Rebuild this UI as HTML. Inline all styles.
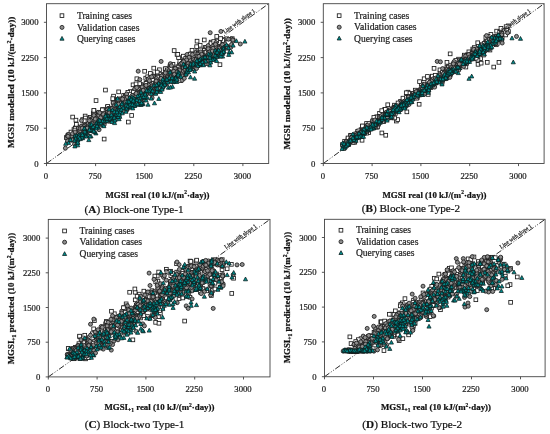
<!DOCTYPE html>
<html><head><meta charset="utf-8"><title>MGSI scatter plots</title>
<style>
html,body{margin:0;padding:0;background:#fff}
svg{display:block;font-family:"Liberation Serif",serif}
text{stroke:#222;stroke-width:.22px;paint-order:stroke}
</style></head><body>
<svg width="550" height="434" viewBox="0 0 550 434">
<rect width="550" height="434" fill="#fff"/>
<g><line x1="46.5" y1="163.5" x2="268.7" y2="3.7" stroke="#111" stroke-width="0.9" stroke-dasharray="6 1.8 0.9 1.8 0.9 1.8"/>
<g fill="#fff" stroke="#1c1c1c" stroke-width="0.85"><rect x="162.7" y="72.8" width="3.7" height="3.7"/><rect x="206.3" y="49.1" width="3.7" height="3.7"/><rect x="186.8" y="54.9" width="3.7" height="3.7"/><rect x="98.7" y="115.7" width="3.7" height="3.7"/><rect x="110.7" y="109.1" width="3.7" height="3.7"/><rect x="202.5" y="52.3" width="3.7" height="3.7"/><rect x="190.2" y="52.4" width="3.7" height="3.7"/><rect x="137.6" y="100.4" width="3.7" height="3.7"/><rect x="111.2" y="100.3" width="3.7" height="3.7"/><rect x="107.2" y="111" width="3.7" height="3.7"/><rect x="103.4" y="115.4" width="3.7" height="3.7"/><rect x="133.9" y="84.9" width="3.7" height="3.7"/><rect x="143.4" y="85.6" width="3.7" height="3.7"/><rect x="151.2" y="86.9" width="3.7" height="3.7"/><rect x="162.2" y="75.6" width="3.7" height="3.7"/><rect x="221" y="38.1" width="3.7" height="3.7"/><rect x="88.3" y="115.5" width="3.7" height="3.7"/><rect x="160.7" y="76.9" width="3.7" height="3.7"/><rect x="69.7" y="130.9" width="3.7" height="3.7"/><rect x="145.1" y="78" width="3.7" height="3.7"/><rect x="137.3" y="92.1" width="3.7" height="3.7"/><rect x="209.5" y="46.2" width="3.7" height="3.7"/><rect x="163.4" y="73.3" width="3.7" height="3.7"/><rect x="144.9" y="86.9" width="3.7" height="3.7"/><rect x="142.2" y="88.3" width="3.7" height="3.7"/><rect x="102.3" y="111.1" width="3.7" height="3.7"/><rect x="64.5" y="135.7" width="3.7" height="3.7"/><rect x="173.4" y="70.1" width="3.7" height="3.7"/><rect x="94.8" y="118.1" width="3.7" height="3.7"/><rect x="121.8" y="93.6" width="3.7" height="3.7"/><rect x="87.4" y="120.2" width="3.7" height="3.7"/><rect x="105.5" y="105.5" width="3.7" height="3.7"/><rect x="203.6" y="45.5" width="3.7" height="3.7"/><rect x="144.3" y="81.7" width="3.7" height="3.7"/><rect x="198.3" y="43.4" width="3.7" height="3.7"/><rect x="165.1" y="76.3" width="3.7" height="3.7"/><rect x="181.4" y="58.9" width="3.7" height="3.7"/><rect x="77.3" y="128.9" width="3.7" height="3.7"/><rect x="149.3" y="72.2" width="3.7" height="3.7"/><rect x="143.9" y="76.3" width="3.7" height="3.7"/><rect x="202.1" y="60.3" width="3.7" height="3.7"/><rect x="120.5" y="104.1" width="3.7" height="3.7"/><rect x="158.4" y="72.7" width="3.7" height="3.7"/><rect x="72.1" y="127.7" width="3.7" height="3.7"/><rect x="114.4" y="100.3" width="3.7" height="3.7"/><rect x="86.7" y="121.8" width="3.7" height="3.7"/><rect x="193.3" y="54.2" width="3.7" height="3.7"/><rect x="123.4" y="94.7" width="3.7" height="3.7"/><rect x="159.5" y="76.1" width="3.7" height="3.7"/><rect x="164.8" y="67.1" width="3.7" height="3.7"/><rect x="170.9" y="80" width="3.7" height="3.7"/><rect x="86.8" y="117" width="3.7" height="3.7"/><rect x="133.1" y="96.6" width="3.7" height="3.7"/><rect x="101" y="108.1" width="3.7" height="3.7"/><rect x="127.1" y="96.5" width="3.7" height="3.7"/><rect x="78.1" y="130.6" width="3.7" height="3.7"/><rect x="217.6" y="42.1" width="3.7" height="3.7"/><rect x="170.2" y="73.7" width="3.7" height="3.7"/><rect x="110.7" y="110" width="3.7" height="3.7"/><rect x="202.6" y="58.3" width="3.7" height="3.7"/><rect x="168.7" y="70.2" width="3.7" height="3.7"/><rect x="222.3" y="39.2" width="3.7" height="3.7"/><rect x="197.9" y="49.2" width="3.7" height="3.7"/><rect x="153.8" y="79.5" width="3.7" height="3.7"/><rect x="85.9" y="117.7" width="3.7" height="3.7"/><rect x="93.5" y="117" width="3.7" height="3.7"/><rect x="211.2" y="47.3" width="3.7" height="3.7"/><rect x="151.1" y="77.6" width="3.7" height="3.7"/><rect x="91.6" y="113.9" width="3.7" height="3.7"/><rect x="204.2" y="52" width="3.7" height="3.7"/><rect x="165.3" y="73.2" width="3.7" height="3.7"/><rect x="153.8" y="79.6" width="3.7" height="3.7"/><rect x="122.9" y="97.7" width="3.7" height="3.7"/><rect x="128.4" y="98.8" width="3.7" height="3.7"/><rect x="101" y="107.8" width="3.7" height="3.7"/><rect x="137.5" y="90.7" width="3.7" height="3.7"/><rect x="150.3" y="78.6" width="3.7" height="3.7"/><rect x="114.2" y="107.4" width="3.7" height="3.7"/><rect x="182.9" y="60.3" width="3.7" height="3.7"/><rect x="66.7" y="132.9" width="3.7" height="3.7"/><rect x="67.5" y="135.6" width="3.7" height="3.7"/><rect x="131.2" y="83" width="3.7" height="3.7"/><rect x="146.5" y="81.4" width="3.7" height="3.7"/><rect x="202.4" y="38.1" width="3.7" height="3.7"/><rect x="117.7" y="97" width="3.7" height="3.7"/><rect x="157.1" y="80.2" width="3.7" height="3.7"/><rect x="172.1" y="70" width="3.7" height="3.7"/><rect x="119.5" y="98.2" width="3.7" height="3.7"/><rect x="145.7" y="83.4" width="3.7" height="3.7"/><rect x="185.1" y="60.5" width="3.7" height="3.7"/><rect x="208.2" y="50.6" width="3.7" height="3.7"/><rect x="86.8" y="128.9" width="3.7" height="3.7"/><rect x="212.1" y="47.4" width="3.7" height="3.7"/><rect x="183.2" y="72.5" width="3.7" height="3.7"/><rect x="192.4" y="55.1" width="3.7" height="3.7"/><rect x="84.5" y="125.9" width="3.7" height="3.7"/><rect x="221.8" y="44.5" width="3.7" height="3.7"/><rect x="193.1" y="57.4" width="3.7" height="3.7"/><rect x="189.6" y="57" width="3.7" height="3.7"/><rect x="144.8" y="91.4" width="3.7" height="3.7"/><rect x="178.8" y="78.7" width="3.7" height="3.7"/><rect x="98.9" y="118.2" width="3.7" height="3.7"/><rect x="94.4" y="125.1" width="3.7" height="3.7"/><rect x="120.8" y="103.9" width="3.7" height="3.7"/><rect x="91.4" y="111.8" width="3.7" height="3.7"/><rect x="118" y="106.1" width="3.7" height="3.7"/><rect x="214.4" y="42.5" width="3.7" height="3.7"/><rect x="117.1" y="108.1" width="3.7" height="3.7"/><rect x="106.1" y="107.6" width="3.7" height="3.7"/><rect x="215" y="46.3" width="3.7" height="3.7"/><rect x="146.1" y="83.8" width="3.7" height="3.7"/><rect x="206.2" y="47" width="3.7" height="3.7"/><rect x="181.5" y="54.3" width="3.7" height="3.7"/><rect x="155.6" y="76.7" width="3.7" height="3.7"/><rect x="230.4" y="36.8" width="3.7" height="3.7"/><rect x="203.2" y="55.3" width="3.7" height="3.7"/><rect x="128.5" y="89.7" width="3.7" height="3.7"/><rect x="210.4" y="48.4" width="3.7" height="3.7"/><rect x="73.7" y="126.6" width="3.7" height="3.7"/><rect x="131.5" y="92.8" width="3.7" height="3.7"/><rect x="145.8" y="74.9" width="3.7" height="3.7"/><rect x="214.9" y="53.5" width="3.7" height="3.7"/><rect x="191.7" y="58.6" width="3.7" height="3.7"/><rect x="170.9" y="64.4" width="3.7" height="3.7"/><rect x="177.4" y="66.8" width="3.7" height="3.7"/><rect x="163.4" y="77.1" width="3.7" height="3.7"/><rect x="218.2" y="44.5" width="3.7" height="3.7"/><rect x="126.4" y="102.4" width="3.7" height="3.7"/><rect x="95.1" y="115.5" width="3.7" height="3.7"/><rect x="70.8" y="115.2" width="3.7" height="3.7"/><rect x="209.2" y="43" width="3.7" height="3.7"/><rect x="197.1" y="59.3" width="3.7" height="3.7"/><rect x="80.6" y="129" width="3.7" height="3.7"/><rect x="159.3" y="77.6" width="3.7" height="3.7"/><rect x="139.4" y="82.7" width="3.7" height="3.7"/><rect x="157.8" y="80.5" width="3.7" height="3.7"/><rect x="168.2" y="73.8" width="3.7" height="3.7"/><rect x="111.7" y="101.3" width="3.7" height="3.7"/><rect x="216.5" y="40.5" width="3.7" height="3.7"/><rect x="163.2" y="75.1" width="3.7" height="3.7"/><rect x="164.3" y="82.1" width="3.7" height="3.7"/><rect x="92.1" y="124.5" width="3.7" height="3.7"/><rect x="72.6" y="133.5" width="3.7" height="3.7"/><rect x="128.5" y="105.1" width="3.7" height="3.7"/><rect x="184.9" y="57.3" width="3.7" height="3.7"/><rect x="193.1" y="61.3" width="3.7" height="3.7"/><rect x="179.5" y="61.6" width="3.7" height="3.7"/><rect x="80.8" y="117.7" width="3.7" height="3.7"/><rect x="208.9" y="43" width="3.7" height="3.7"/><rect x="191" y="66.6" width="3.7" height="3.7"/><rect x="203.1" y="47.2" width="3.7" height="3.7"/><rect x="146.4" y="77.5" width="3.7" height="3.7"/><rect x="209.2" y="51.1" width="3.7" height="3.7"/><rect x="70.1" y="136" width="3.7" height="3.7"/><rect x="65.9" y="135.4" width="3.7" height="3.7"/><rect x="102.4" y="118.2" width="3.7" height="3.7"/><rect x="92.7" y="111.5" width="3.7" height="3.7"/><rect x="153.4" y="91.2" width="3.7" height="3.7"/><rect x="68.9" y="137.5" width="3.7" height="3.7"/><rect x="89.2" y="121.8" width="3.7" height="3.7"/><rect x="171.2" y="69.7" width="3.7" height="3.7"/><rect x="66" y="133.7" width="3.7" height="3.7"/><rect x="212.8" y="44.9" width="3.7" height="3.7"/><rect x="192.6" y="57.7" width="3.7" height="3.7"/><rect x="168" y="64.8" width="3.7" height="3.7"/><rect x="160.4" y="85.7" width="3.7" height="3.7"/><rect x="93.3" y="117.3" width="3.7" height="3.7"/><rect x="154.6" y="81.9" width="3.7" height="3.7"/><rect x="70.8" y="130.9" width="3.7" height="3.7"/><rect x="113.6" y="103.1" width="3.7" height="3.7"/><rect x="80.7" y="129.1" width="3.7" height="3.7"/><rect x="163" y="76.6" width="3.7" height="3.7"/><rect x="190.3" y="54.2" width="3.7" height="3.7"/><rect x="112.9" y="103" width="3.7" height="3.7"/><rect x="200.8" y="55.4" width="3.7" height="3.7"/><rect x="190.2" y="48.4" width="3.7" height="3.7"/><rect x="83.3" y="114.2" width="3.7" height="3.7"/><rect x="185.4" y="67.6" width="3.7" height="3.7"/><rect x="203.9" y="49.3" width="3.7" height="3.7"/><rect x="94.2" y="98.7" width="3.7" height="3.7"/><rect x="224.7" y="36.9" width="3.7" height="3.7"/><rect x="164.9" y="71.1" width="3.7" height="3.7"/><rect x="160.2" y="76" width="3.7" height="3.7"/><rect x="78.1" y="129.3" width="3.7" height="3.7"/><rect x="168.5" y="71.2" width="3.7" height="3.7"/><rect x="163.8" y="75.6" width="3.7" height="3.7"/><rect x="194.5" y="52.2" width="3.7" height="3.7"/><rect x="191.3" y="59.2" width="3.7" height="3.7"/><rect x="115" y="105.2" width="3.7" height="3.7"/><rect x="178.2" y="70.5" width="3.7" height="3.7"/><rect x="201.5" y="52.2" width="3.7" height="3.7"/><rect x="205.6" y="53.7" width="3.7" height="3.7"/><rect x="88.5" y="121.1" width="3.7" height="3.7"/><rect x="97" y="110.4" width="3.7" height="3.7"/><rect x="152.9" y="77.5" width="3.7" height="3.7"/><rect x="213.9" y="43.4" width="3.7" height="3.7"/><rect x="103.1" y="109.3" width="3.7" height="3.7"/><rect x="135.7" y="89.6" width="3.7" height="3.7"/><rect x="167.9" y="71.2" width="3.7" height="3.7"/><rect x="78.8" y="127.8" width="3.7" height="3.7"/><rect x="123.6" y="94.1" width="3.7" height="3.7"/><rect x="84.1" y="127.7" width="3.7" height="3.7"/><rect x="168.7" y="63.3" width="3.7" height="3.7"/><rect x="195.6" y="54.9" width="3.7" height="3.7"/><rect x="123" y="101.5" width="3.7" height="3.7"/><rect x="122.2" y="102.4" width="3.7" height="3.7"/><rect x="149" y="85.1" width="3.7" height="3.7"/><rect x="97.1" y="114.1" width="3.7" height="3.7"/><rect x="102.3" y="116.7" width="3.7" height="3.7"/><rect x="115.5" y="97.7" width="3.7" height="3.7"/><rect x="135.9" y="93.6" width="3.7" height="3.7"/><rect x="75.7" y="137.8" width="3.7" height="3.7"/><rect x="183.1" y="67.8" width="3.7" height="3.7"/><rect x="155.3" y="88" width="3.7" height="3.7"/><rect x="110.6" y="106.2" width="3.7" height="3.7"/><rect x="75.1" y="124.7" width="3.7" height="3.7"/><rect x="184.8" y="57.8" width="3.7" height="3.7"/><rect x="83.6" y="129" width="3.7" height="3.7"/><rect x="84" y="126.4" width="3.7" height="3.7"/><rect x="83.6" y="116.2" width="3.7" height="3.7"/><rect x="75.7" y="127.4" width="3.7" height="3.7"/><rect x="207.7" y="48.7" width="3.7" height="3.7"/><rect x="105.8" y="104.5" width="3.7" height="3.7"/><rect x="111.7" y="94.3" width="3.7" height="3.7"/><rect x="196" y="49" width="3.7" height="3.7"/><rect x="161.9" y="73.3" width="3.7" height="3.7"/><rect x="92.6" y="115.1" width="3.7" height="3.7"/><rect x="132.3" y="89.1" width="3.7" height="3.7"/><rect x="204.1" y="53.2" width="3.7" height="3.7"/><rect x="122.7" y="103.1" width="3.7" height="3.7"/><rect x="176.4" y="65.4" width="3.7" height="3.7"/><rect x="78.1" y="130.9" width="3.7" height="3.7"/><rect x="179.1" y="64.4" width="3.7" height="3.7"/><rect x="186.9" y="59.3" width="3.7" height="3.7"/><rect x="194.8" y="44.8" width="3.7" height="3.7"/><rect x="170.6" y="73.2" width="3.7" height="3.7"/><rect x="122" y="99.2" width="3.7" height="3.7"/><rect x="72.9" y="131.1" width="3.7" height="3.7"/><rect x="145.7" y="81.5" width="3.7" height="3.7"/><rect x="183.9" y="56.4" width="3.7" height="3.7"/><rect x="93.2" y="119.4" width="3.7" height="3.7"/><rect x="105.3" y="113.1" width="3.7" height="3.7"/><rect x="148.5" y="90.3" width="3.7" height="3.7"/><rect x="182.4" y="66.7" width="3.7" height="3.7"/><rect x="206.2" y="47.1" width="3.7" height="3.7"/><rect x="82.8" y="123.8" width="3.7" height="3.7"/><rect x="92.1" y="122.2" width="3.7" height="3.7"/><rect x="219.4" y="44.3" width="3.7" height="3.7"/><rect x="165.8" y="71.5" width="3.7" height="3.7"/><rect x="178.1" y="62.2" width="3.7" height="3.7"/><rect x="197.6" y="56.7" width="3.7" height="3.7"/><rect x="187" y="61.7" width="3.7" height="3.7"/><rect x="125.9" y="104.8" width="3.7" height="3.7"/><rect x="165.3" y="77.8" width="3.7" height="3.7"/><rect x="92.2" y="111.2" width="3.7" height="3.7"/><rect x="184.2" y="71.7" width="3.7" height="3.7"/><rect x="183.9" y="63" width="3.7" height="3.7"/><rect x="178.1" y="63.6" width="3.7" height="3.7"/><rect x="133.9" y="94.2" width="3.7" height="3.7"/><rect x="123.2" y="101.7" width="3.7" height="3.7"/><rect x="129.8" y="93.9" width="3.7" height="3.7"/><rect x="149.5" y="81.4" width="3.7" height="3.7"/><rect x="124.7" y="97.3" width="3.7" height="3.7"/><rect x="150.4" y="90.3" width="3.7" height="3.7"/><rect x="178.2" y="65.4" width="3.7" height="3.7"/><rect x="123.7" y="101.6" width="3.7" height="3.7"/><rect x="195.6" y="57.6" width="3.7" height="3.7"/><rect x="209.8" y="46.6" width="3.7" height="3.7"/><rect x="124.7" y="93.9" width="3.7" height="3.7"/><rect x="84.7" y="119.1" width="3.7" height="3.7"/><rect x="184.4" y="63.5" width="3.7" height="3.7"/><rect x="221.6" y="37.8" width="3.7" height="3.7"/><rect x="176.7" y="55.7" width="3.7" height="3.7"/><rect x="194.8" y="50.3" width="3.7" height="3.7"/><rect x="210" y="41.5" width="3.7" height="3.7"/><rect x="82.4" y="124.9" width="3.7" height="3.7"/><rect x="77.3" y="128.3" width="3.7" height="3.7"/><rect x="220.8" y="38.6" width="3.7" height="3.7"/><rect x="91" y="124.5" width="3.7" height="3.7"/><rect x="154.7" y="77.2" width="3.7" height="3.7"/><rect x="134.1" y="93.5" width="3.7" height="3.7"/><rect x="182.8" y="63.8" width="3.7" height="3.7"/><rect x="93.2" y="124.6" width="3.7" height="3.7"/><rect x="209" y="51.9" width="3.7" height="3.7"/><rect x="97.4" y="114.7" width="3.7" height="3.7"/><rect x="185.8" y="56.2" width="3.7" height="3.7"/><rect x="73.5" y="126.1" width="3.7" height="3.7"/><rect x="138.4" y="88.9" width="3.7" height="3.7"/><rect x="67.9" y="134.4" width="3.7" height="3.7"/><rect x="112.6" y="108.5" width="3.7" height="3.7"/><rect x="177.9" y="62.8" width="3.7" height="3.7"/><rect x="135.5" y="91.3" width="3.7" height="3.7"/><rect x="204.9" y="45.6" width="3.7" height="3.7"/><rect x="209.3" y="40.3" width="3.7" height="3.7"/><rect x="102.1" y="111.7" width="3.7" height="3.7"/><rect x="125.7" y="103.3" width="3.7" height="3.7"/><rect x="99" y="117.2" width="3.7" height="3.7"/><rect x="82.6" y="130.1" width="3.7" height="3.7"/><rect x="67.9" y="138.4" width="3.7" height="3.7"/><rect x="82.4" y="119" width="3.7" height="3.7"/><rect x="90.9" y="117.9" width="3.7" height="3.7"/><rect x="200.4" y="59.3" width="3.7" height="3.7"/><rect x="140.2" y="83.9" width="3.7" height="3.7"/><rect x="92.1" y="109.1" width="3.7" height="3.7"/><rect x="169.9" y="71.1" width="3.7" height="3.7"/><rect x="105.2" y="112.5" width="3.7" height="3.7"/><rect x="147" y="84.6" width="3.7" height="3.7"/><rect x="107.9" y="106.5" width="3.7" height="3.7"/><rect x="145.3" y="80.8" width="3.7" height="3.7"/><rect x="163.3" y="67.2" width="3.7" height="3.7"/><rect x="148.5" y="71.6" width="3.7" height="3.7"/><rect x="126" y="90.5" width="3.7" height="3.7"/><rect x="189.2" y="52.1" width="3.7" height="3.7"/><rect x="202.5" y="48.5" width="3.7" height="3.7"/><rect x="91.4" y="124.9" width="3.7" height="3.7"/><rect x="84.5" y="123.9" width="3.7" height="3.7"/><rect x="80.8" y="124.1" width="3.7" height="3.7"/><rect x="99.6" y="114.8" width="3.7" height="3.7"/><rect x="217.9" y="39.7" width="3.7" height="3.7"/><rect x="143.7" y="86.7" width="3.7" height="3.7"/><rect x="142.3" y="90.4" width="3.7" height="3.7"/><rect x="209.1" y="41.7" width="3.7" height="3.7"/><rect x="69.1" y="130.2" width="3.7" height="3.7"/><rect x="158.7" y="74.8" width="3.7" height="3.7"/><rect x="73.3" y="126.4" width="3.7" height="3.7"/><rect x="100.5" y="108" width="3.7" height="3.7"/><rect x="137.1" y="87.4" width="3.7" height="3.7"/><rect x="203.6" y="61.7" width="3.7" height="3.7"/><rect x="184.5" y="66.6" width="3.7" height="3.7"/><rect x="195.3" y="57.3" width="3.7" height="3.7"/><rect x="184.5" y="65.8" width="3.7" height="3.7"/><rect x="175.9" y="64.9" width="3.7" height="3.7"/><rect x="198.7" y="48.1" width="3.7" height="3.7"/><rect x="171.7" y="70.7" width="3.7" height="3.7"/><rect x="180.4" y="68.9" width="3.7" height="3.7"/><rect x="110.9" y="96.8" width="3.7" height="3.7"/><rect x="89.5" y="121.6" width="3.7" height="3.7"/><rect x="183.7" y="67.4" width="3.7" height="3.7"/><rect x="89.2" y="118.9" width="3.7" height="3.7"/><rect x="209.8" y="45.8" width="3.7" height="3.7"/><rect x="158.2" y="79.8" width="3.7" height="3.7"/><rect x="115.4" y="99.3" width="3.7" height="3.7"/><rect x="212.6" y="48.3" width="3.7" height="3.7"/><rect x="145" y="88.8" width="3.7" height="3.7"/><rect x="77.3" y="126.9" width="3.7" height="3.7"/><rect x="217.2" y="40.6" width="3.7" height="3.7"/><rect x="191.3" y="60.3" width="3.7" height="3.7"/><rect x="107.8" y="106.4" width="3.7" height="3.7"/><rect x="191" y="58" width="3.7" height="3.7"/><rect x="175.2" y="52.5" width="3.7" height="3.7"/><rect x="165.7" y="75.3" width="3.7" height="3.7"/><rect x="214.8" y="39.2" width="3.7" height="3.7"/><rect x="129.1" y="94.3" width="3.7" height="3.7"/><rect x="173.4" y="67.9" width="3.7" height="3.7"/><rect x="196.3" y="51.4" width="3.7" height="3.7"/><rect x="116.3" y="98.3" width="3.7" height="3.7"/><rect x="169.8" y="63.1" width="3.7" height="3.7"/><rect x="96.1" y="114" width="3.7" height="3.7"/><rect x="151" y="85.7" width="3.7" height="3.7"/><rect x="185.8" y="63" width="3.7" height="3.7"/><rect x="73.1" y="128.2" width="3.7" height="3.7"/><rect x="179.2" y="61.3" width="3.7" height="3.7"/><rect x="137.7" y="81.8" width="3.7" height="3.7"/><rect x="128.1" y="92.7" width="3.7" height="3.7"/><rect x="178" y="59.6" width="3.7" height="3.7"/><rect x="218.7" y="36.7" width="3.7" height="3.7"/><rect x="179.6" y="62.5" width="3.7" height="3.7"/><rect x="76.2" y="134.3" width="3.7" height="3.7"/><rect x="152.7" y="85.4" width="3.7" height="3.7"/><rect x="152" y="87.1" width="3.7" height="3.7"/><rect x="211.9" y="39.7" width="3.7" height="3.7"/><rect x="135.1" y="94.4" width="3.7" height="3.7"/><rect x="163.7" y="66.8" width="3.7" height="3.7"/><rect x="150.8" y="77.6" width="3.7" height="3.7"/><rect x="74.5" y="122.5" width="3.7" height="3.7"/><rect x="157.6" y="67.9" width="3.7" height="3.7"/><rect x="98.2" y="114.5" width="3.7" height="3.7"/><rect x="231.1" y="38.4" width="3.7" height="3.7"/><rect x="203.3" y="50.6" width="3.7" height="3.7"/><rect x="94.3" y="115.3" width="3.7" height="3.7"/><rect x="135.4" y="92.7" width="3.7" height="3.7"/><rect x="182.7" y="62.2" width="3.7" height="3.7"/><rect x="175.9" y="52.5" width="3.7" height="3.7"/><rect x="151.2" y="88.9" width="3.7" height="3.7"/><rect x="191.8" y="55.1" width="3.7" height="3.7"/><rect x="137.2" y="93.4" width="3.7" height="3.7"/><rect x="162" y="73" width="3.7" height="3.7"/><rect x="193.7" y="52.2" width="3.7" height="3.7"/><rect x="171.2" y="68.9" width="3.7" height="3.7"/><rect x="165.4" y="68.1" width="3.7" height="3.7"/><rect x="127.7" y="102.6" width="3.7" height="3.7"/><rect x="152" y="74.3" width="3.7" height="3.7"/><rect x="126.1" y="98.9" width="3.7" height="3.7"/><rect x="181.8" y="59.6" width="3.7" height="3.7"/><rect x="123.5" y="96.8" width="3.7" height="3.7"/><rect x="137.3" y="101.6" width="3.7" height="3.7"/><rect x="183.6" y="65.2" width="3.7" height="3.7"/><rect x="143.3" y="84.1" width="3.7" height="3.7"/><rect x="116.8" y="90" width="3.7" height="3.7"/><rect x="195" y="54.1" width="3.7" height="3.7"/><rect x="123.6" y="96.4" width="3.7" height="3.7"/><rect x="197.9" y="60.2" width="3.7" height="3.7"/><rect x="188.3" y="52.3" width="3.7" height="3.7"/><rect x="134.2" y="82" width="3.7" height="3.7"/><rect x="176.8" y="65.3" width="3.7" height="3.7"/><rect x="68.2" y="134.4" width="3.7" height="3.7"/><rect x="225.7" y="46.3" width="3.7" height="3.7"/><rect x="155.4" y="70.2" width="3.7" height="3.7"/><rect x="151.9" y="66.3" width="3.7" height="3.7"/><rect x="169.1" y="66.3" width="3.7" height="3.7"/><rect x="171.1" y="62.4" width="3.7" height="3.7"/><rect x="156.1" y="74.7" width="3.7" height="3.7"/><rect x="130" y="98.3" width="3.7" height="3.7"/><rect x="92" y="108.5" width="3.7" height="3.7"/><rect x="109.5" y="112.2" width="3.7" height="3.7"/><rect x="109.5" y="107.7" width="3.7" height="3.7"/><rect x="131.6" y="90.2" width="3.7" height="3.7"/><rect x="134.3" y="86.5" width="3.7" height="3.7"/><rect x="122.1" y="96.6" width="3.7" height="3.7"/><rect x="155.7" y="75.7" width="3.7" height="3.7"/><rect x="123" y="101.6" width="3.7" height="3.7"/><rect x="105.4" y="115.1" width="3.7" height="3.7"/><rect x="204.2" y="50.2" width="3.7" height="3.7"/><rect x="218.9" y="46" width="3.7" height="3.7"/><rect x="172.4" y="74.4" width="3.7" height="3.7"/><rect x="74.4" y="134.6" width="3.7" height="3.7"/><rect x="201.4" y="54.2" width="3.7" height="3.7"/><rect x="112.7" y="113" width="3.7" height="3.7"/><rect x="141.8" y="92.8" width="3.7" height="3.7"/><rect x="94.3" y="123.4" width="3.7" height="3.7"/><rect x="103.6" y="88.2" width="3.7" height="3.7"/><rect x="74.1" y="118.3" width="3.7" height="3.7"/><rect x="135" y="76.9" width="3.7" height="3.7"/><rect x="142.8" y="69.4" width="3.7" height="3.7"/><rect x="144.2" y="81.6" width="3.7" height="3.7"/><rect x="102.3" y="137.2" width="3.7" height="3.7"/><rect x="126.5" y="120.2" width="3.7" height="3.7"/><rect x="129.8" y="113.6" width="3.7" height="3.7"/><rect x="218.1" y="62.8" width="3.7" height="3.7"/><rect x="172.3" y="48.7" width="3.7" height="3.7"/><rect x="195.2" y="39.3" width="3.7" height="3.7"/><rect x="214.9" y="34.6" width="3.7" height="3.7"/></g>
<g fill="#8e8e8e" stroke="#1c1c1c" stroke-width="0.85"><circle cx="122.1" cy="103.1" r="2"/><circle cx="175.5" cy="71.1" r="2"/><circle cx="143" cy="86.9" r="2"/><circle cx="109.4" cy="117.9" r="2"/><circle cx="120.5" cy="112.2" r="2"/><circle cx="219" cy="48.1" r="2"/><circle cx="221.8" cy="45.9" r="2"/><circle cx="215.8" cy="42.6" r="2"/><circle cx="194" cy="59.5" r="2"/><circle cx="82.8" cy="133.6" r="2"/><circle cx="181.9" cy="62.8" r="2"/><circle cx="193.6" cy="65.8" r="2"/><circle cx="198.5" cy="65.7" r="2"/><circle cx="220.9" cy="31.4" r="2"/><circle cx="148" cy="86.1" r="2"/><circle cx="98.8" cy="115.4" r="2"/><circle cx="77.9" cy="131.5" r="2"/><circle cx="134.8" cy="88.9" r="2"/><circle cx="179.7" cy="68.7" r="2"/><circle cx="189.1" cy="59.6" r="2"/><circle cx="104.1" cy="120.6" r="2"/><circle cx="111.3" cy="117.5" r="2"/><circle cx="197.7" cy="54.2" r="2"/><circle cx="207.6" cy="49" r="2"/><circle cx="182.4" cy="66.2" r="2"/><circle cx="117.8" cy="106.2" r="2"/><circle cx="138.6" cy="93.7" r="2"/><circle cx="198.1" cy="62.7" r="2"/><circle cx="121.7" cy="98.8" r="2"/><circle cx="193.4" cy="59.7" r="2"/><circle cx="189.7" cy="62.3" r="2"/><circle cx="139.5" cy="92.2" r="2"/><circle cx="208" cy="50.5" r="2"/><circle cx="126.1" cy="100.3" r="2"/><circle cx="184.5" cy="61.8" r="2"/><circle cx="166.9" cy="82.5" r="2"/><circle cx="117.5" cy="105.8" r="2"/><circle cx="149.6" cy="77.8" r="2"/><circle cx="161.5" cy="82.8" r="2"/><circle cx="150.4" cy="87.7" r="2"/><circle cx="82.2" cy="127.5" r="2"/><circle cx="149.6" cy="83.3" r="2"/><circle cx="84.6" cy="125.3" r="2"/><circle cx="195.8" cy="67.7" r="2"/><circle cx="133.8" cy="95.2" r="2"/><circle cx="178.7" cy="75.7" r="2"/><circle cx="196.9" cy="63.9" r="2"/><circle cx="150.6" cy="84.5" r="2"/><circle cx="72.5" cy="138.1" r="2"/><circle cx="175.6" cy="68.7" r="2"/><circle cx="210.2" cy="32.7" r="2"/><circle cx="107.7" cy="109" r="2"/><circle cx="190.2" cy="61.1" r="2"/><circle cx="204.3" cy="62.6" r="2"/><circle cx="121.3" cy="110" r="2"/><circle cx="130.2" cy="104.3" r="2"/><circle cx="118" cy="109.8" r="2"/><circle cx="65.4" cy="148.2" r="2"/><circle cx="117.6" cy="110.6" r="2"/><circle cx="81.9" cy="131.7" r="2"/><circle cx="187" cy="70.1" r="2"/><circle cx="132.8" cy="104.2" r="2"/><circle cx="155.5" cy="90.2" r="2"/><circle cx="110.1" cy="110.9" r="2"/><circle cx="122.2" cy="104.6" r="2"/><circle cx="185.1" cy="62.6" r="2"/><circle cx="231.6" cy="39" r="2"/><circle cx="160" cy="82.9" r="2"/><circle cx="132.2" cy="95.6" r="2"/><circle cx="153.7" cy="91.6" r="2"/><circle cx="208.1" cy="45.6" r="2"/><circle cx="107.3" cy="109.8" r="2"/><circle cx="147.6" cy="89.8" r="2"/><circle cx="174.5" cy="78.1" r="2"/><circle cx="78.4" cy="131.8" r="2"/><circle cx="218.5" cy="56.3" r="2"/><circle cx="103.8" cy="119.8" r="2"/><circle cx="186.2" cy="63.1" r="2"/><circle cx="195.1" cy="61.2" r="2"/><circle cx="165.4" cy="80.4" r="2"/><circle cx="211.1" cy="49.3" r="2"/><circle cx="78.7" cy="136.8" r="2"/><circle cx="149" cy="86.7" r="2"/><circle cx="183.4" cy="70" r="2"/><circle cx="211.3" cy="56.2" r="2"/><circle cx="167.2" cy="75.1" r="2"/><circle cx="160.9" cy="85.3" r="2"/><circle cx="126.6" cy="94" r="2"/><circle cx="156" cy="86.4" r="2"/><circle cx="153.3" cy="76.4" r="2"/><circle cx="209.4" cy="58.2" r="2"/><circle cx="196.9" cy="58" r="2"/><circle cx="182.5" cy="73.6" r="2"/><circle cx="212.4" cy="57.6" r="2"/><circle cx="75.1" cy="134.8" r="2"/><circle cx="187.7" cy="60.6" r="2"/><circle cx="138.7" cy="99.9" r="2"/><circle cx="184.8" cy="62" r="2"/><circle cx="111.9" cy="114.7" r="2"/><circle cx="139.3" cy="93.4" r="2"/><circle cx="196.5" cy="59.2" r="2"/><circle cx="232.9" cy="40" r="2"/><circle cx="142.7" cy="99.8" r="2"/><circle cx="200.8" cy="51.9" r="2"/><circle cx="107.7" cy="112" r="2"/><circle cx="196.2" cy="62.6" r="2"/><circle cx="103.6" cy="120.8" r="2"/><circle cx="113" cy="117.6" r="2"/><circle cx="153.2" cy="91.6" r="2"/><circle cx="169.2" cy="73.5" r="2"/><circle cx="205.4" cy="57.4" r="2"/><circle cx="205.3" cy="60.5" r="2"/><circle cx="104.5" cy="118.3" r="2"/><circle cx="183.8" cy="60.9" r="2"/><circle cx="166.1" cy="79.2" r="2"/><circle cx="126.3" cy="104.7" r="2"/><circle cx="188.7" cy="59.2" r="2"/><circle cx="208.2" cy="52.7" r="2"/><circle cx="141.2" cy="92.6" r="2"/><circle cx="211.1" cy="55.4" r="2"/><circle cx="84.9" cy="134.7" r="2"/><circle cx="230.7" cy="47.5" r="2"/><circle cx="186.8" cy="68" r="2"/><circle cx="113.4" cy="111.4" r="2"/><circle cx="158.2" cy="80.8" r="2"/><circle cx="144.1" cy="88.5" r="2"/><circle cx="87.8" cy="126.3" r="2"/><circle cx="185.2" cy="65.9" r="2"/><circle cx="183.2" cy="75.4" r="2"/><circle cx="87.7" cy="135.1" r="2"/><circle cx="106.1" cy="117.3" r="2"/><circle cx="192.6" cy="66.8" r="2"/><circle cx="210.5" cy="55.9" r="2"/><circle cx="203.8" cy="57.9" r="2"/><circle cx="144.8" cy="100" r="2"/><circle cx="123.3" cy="108.8" r="2"/><circle cx="135.8" cy="96.6" r="2"/><circle cx="92.7" cy="123.5" r="2"/><circle cx="143.9" cy="94" r="2"/><circle cx="101.5" cy="116.4" r="2"/><circle cx="90.4" cy="126.2" r="2"/><circle cx="125.4" cy="107.1" r="2"/><circle cx="74.7" cy="135.4" r="2"/><circle cx="139.8" cy="79.5" r="2"/><circle cx="175.9" cy="75.1" r="2"/><circle cx="168.8" cy="71" r="2"/><circle cx="165.9" cy="71.7" r="2"/><circle cx="208.2" cy="48.7" r="2"/><circle cx="135.6" cy="99.8" r="2"/><circle cx="192.4" cy="54.5" r="2"/><circle cx="110" cy="112.3" r="2"/><circle cx="148.8" cy="89.2" r="2"/><circle cx="145.6" cy="91.1" r="2"/><circle cx="190.5" cy="61.4" r="2"/><circle cx="114.5" cy="109.6" r="2"/><circle cx="197.5" cy="61.4" r="2"/><circle cx="67.5" cy="135.7" r="2"/><circle cx="92.9" cy="126.5" r="2"/><circle cx="105.7" cy="119.6" r="2"/><circle cx="215.9" cy="47.6" r="2"/><circle cx="112.3" cy="108.5" r="2"/><circle cx="156.4" cy="78.5" r="2"/><circle cx="177" cy="76.2" r="2"/><circle cx="188.4" cy="60.6" r="2"/><circle cx="125.9" cy="100.5" r="2"/><circle cx="99.7" cy="112.7" r="2"/><circle cx="200.9" cy="63.4" r="2"/><circle cx="84" cy="128.2" r="2"/><circle cx="74.9" cy="137.2" r="2"/><circle cx="101.6" cy="124.3" r="2"/><circle cx="143.3" cy="94.6" r="2"/><circle cx="215.3" cy="46.6" r="2"/><circle cx="154.8" cy="86.6" r="2"/><circle cx="147.9" cy="91.9" r="2"/><circle cx="175.5" cy="68.5" r="2"/><circle cx="164.8" cy="74.1" r="2"/><circle cx="118.3" cy="103.3" r="2"/><circle cx="79.3" cy="135.5" r="2"/><circle cx="96.7" cy="121.6" r="2"/><circle cx="189.8" cy="60" r="2"/><circle cx="166.1" cy="80.7" r="2"/><circle cx="192.1" cy="66.2" r="2"/><circle cx="125.7" cy="99.1" r="2"/><circle cx="212.8" cy="46.2" r="2"/><circle cx="159.7" cy="86.8" r="2"/><circle cx="152.1" cy="97.8" r="2"/><circle cx="195.4" cy="67.3" r="2"/><circle cx="164.6" cy="83.2" r="2"/><circle cx="172.5" cy="75.1" r="2"/><circle cx="89.7" cy="122" r="2"/><circle cx="161.3" cy="81.3" r="2"/><circle cx="121.6" cy="108.2" r="2"/><circle cx="76.6" cy="133.8" r="2"/><circle cx="85.8" cy="131.9" r="2"/><circle cx="141.3" cy="92.9" r="2"/><circle cx="106.5" cy="117.5" r="2"/><circle cx="187" cy="54.5" r="2"/><circle cx="84.1" cy="126.5" r="2"/><circle cx="114.6" cy="113.2" r="2"/><circle cx="146.1" cy="94.2" r="2"/><circle cx="98.1" cy="122.1" r="2"/><circle cx="97.9" cy="126.8" r="2"/><circle cx="128.9" cy="103.7" r="2"/><circle cx="190.9" cy="69" r="2"/><circle cx="122.1" cy="101.2" r="2"/><circle cx="101.9" cy="119.6" r="2"/><circle cx="93.8" cy="126.2" r="2"/><circle cx="116.3" cy="114.1" r="2"/><circle cx="200.8" cy="63.2" r="2"/><circle cx="171.3" cy="75" r="2"/><circle cx="67.5" cy="141" r="2"/><circle cx="182.2" cy="63.7" r="2"/><circle cx="172.3" cy="77" r="2"/><circle cx="114.7" cy="105.5" r="2"/><circle cx="202.4" cy="56.6" r="2"/><circle cx="98.1" cy="120.5" r="2"/><circle cx="132.8" cy="106.7" r="2"/><circle cx="82.9" cy="135" r="2"/><circle cx="167.9" cy="73.4" r="2"/><circle cx="78.4" cy="128.1" r="2"/><circle cx="93.2" cy="122.8" r="2"/><circle cx="187.2" cy="62.6" r="2"/><circle cx="144.6" cy="92.5" r="2"/><circle cx="170.4" cy="76.9" r="2"/><circle cx="182" cy="73.6" r="2"/><circle cx="161.6" cy="76" r="2"/><circle cx="96.2" cy="120.4" r="2"/><circle cx="176.3" cy="72.9" r="2"/><circle cx="83.1" cy="131.4" r="2"/><circle cx="107.7" cy="112.1" r="2"/><circle cx="136.2" cy="93.5" r="2"/><circle cx="82.8" cy="133.4" r="2"/><circle cx="81.5" cy="120.6" r="2"/><circle cx="223.3" cy="45.9" r="2"/><circle cx="183.3" cy="67.9" r="2"/><circle cx="123.8" cy="97.6" r="2"/><circle cx="126.9" cy="97.5" r="2"/><circle cx="97.7" cy="121" r="2"/><circle cx="148" cy="86.2" r="2"/><circle cx="157.4" cy="87.7" r="2"/><circle cx="213.9" cy="55.8" r="2"/><circle cx="210" cy="62.4" r="2"/><circle cx="180.7" cy="64.1" r="2"/><circle cx="196.5" cy="68.5" r="2"/><circle cx="168.7" cy="73.2" r="2"/><circle cx="110.7" cy="115.6" r="2"/><circle cx="164.2" cy="83.3" r="2"/><circle cx="204.9" cy="57.1" r="2"/><circle cx="81.6" cy="130.1" r="2"/><circle cx="141.3" cy="90" r="2"/><circle cx="189.1" cy="57.3" r="2"/><circle cx="71.9" cy="136.1" r="2"/><circle cx="175.2" cy="68.6" r="2"/><circle cx="84.7" cy="131.3" r="2"/><circle cx="148.6" cy="85" r="2"/><circle cx="174.8" cy="72" r="2"/><circle cx="118.2" cy="109.3" r="2"/><circle cx="145.2" cy="90.8" r="2"/><circle cx="144.9" cy="90.8" r="2"/><circle cx="75.1" cy="134.7" r="2"/><circle cx="83.9" cy="128.2" r="2"/><circle cx="200.7" cy="60.5" r="2"/><circle cx="183.4" cy="71.1" r="2"/><circle cx="198.2" cy="56.8" r="2"/><circle cx="157" cy="90.8" r="2"/><circle cx="156.7" cy="88.1" r="2"/><circle cx="149.4" cy="80.7" r="2"/><circle cx="182.2" cy="80.3" r="2"/><circle cx="117.4" cy="110.8" r="2"/><circle cx="222.5" cy="44.7" r="2"/><circle cx="139.7" cy="101" r="2"/><circle cx="170.4" cy="63.7" r="2"/><circle cx="99.1" cy="129.7" r="2"/><circle cx="68.5" cy="134.5" r="2"/><circle cx="93.2" cy="117.8" r="2"/><circle cx="201.7" cy="54.3" r="2"/><circle cx="179.2" cy="71.2" r="2"/><circle cx="184.5" cy="65.7" r="2"/><circle cx="135.6" cy="100.2" r="2"/><circle cx="81" cy="126.6" r="2"/><circle cx="139" cy="99.1" r="2"/><circle cx="202.6" cy="58.5" r="2"/><circle cx="146" cy="85.4" r="2"/><circle cx="165.6" cy="83" r="2"/><circle cx="124.4" cy="105" r="2"/><circle cx="88.5" cy="126.1" r="2"/><circle cx="164.8" cy="84.6" r="2"/><circle cx="142.1" cy="87" r="2"/><circle cx="119.8" cy="105" r="2"/><circle cx="105.9" cy="121.3" r="2"/><circle cx="175.9" cy="72.3" r="2"/><circle cx="115.4" cy="112.4" r="2"/><circle cx="156.7" cy="86.3" r="2"/><circle cx="106.1" cy="115" r="2"/><circle cx="185.1" cy="70" r="2"/><circle cx="124.5" cy="99.3" r="2"/><circle cx="141.1" cy="96" r="2"/><circle cx="213" cy="48.3" r="2"/><circle cx="179.5" cy="70.3" r="2"/><circle cx="182.4" cy="64.8" r="2"/><circle cx="118.8" cy="109.3" r="2"/><circle cx="199" cy="62.9" r="2"/><circle cx="126.3" cy="110.5" r="2"/><circle cx="170" cy="72.9" r="2"/><circle cx="197.6" cy="56.3" r="2"/><circle cx="151.6" cy="76.8" r="2"/><circle cx="181.8" cy="63.2" r="2"/><circle cx="84.5" cy="128.4" r="2"/><circle cx="87.3" cy="128.2" r="2"/><circle cx="103.3" cy="114.5" r="2"/><circle cx="156.5" cy="83.6" r="2"/><circle cx="186.6" cy="59.9" r="2"/><circle cx="88.3" cy="123.3" r="2"/><circle cx="218.3" cy="52.6" r="2"/><circle cx="142.2" cy="95.2" r="2"/><circle cx="122.6" cy="99" r="2"/><circle cx="79.9" cy="131.1" r="2"/><circle cx="78.6" cy="133.9" r="2"/><circle cx="165.3" cy="72.9" r="2"/><circle cx="188.3" cy="66.8" r="2"/><circle cx="209.8" cy="54.8" r="2"/><circle cx="122.9" cy="106.3" r="2"/><circle cx="214.6" cy="58.8" r="2"/><circle cx="89.3" cy="120.7" r="2"/><circle cx="202.3" cy="62.5" r="2"/><circle cx="177.1" cy="73.9" r="2"/><circle cx="176.9" cy="74.8" r="2"/><circle cx="199" cy="56.4" r="2"/><circle cx="150.4" cy="87.4" r="2"/><circle cx="145.6" cy="90" r="2"/><circle cx="123.3" cy="111.2" r="2"/><circle cx="203" cy="57.9" r="2"/><circle cx="208.7" cy="64.1" r="2"/><circle cx="90.2" cy="124.4" r="2"/><circle cx="188.1" cy="63.7" r="2"/><circle cx="108.6" cy="113.7" r="2"/><circle cx="93.9" cy="115.5" r="2"/><circle cx="96.1" cy="118.4" r="2"/><circle cx="156.3" cy="80.9" r="2"/><circle cx="109.3" cy="112.7" r="2"/><circle cx="103.3" cy="117.9" r="2"/><circle cx="80.3" cy="128.5" r="2"/><circle cx="116.5" cy="104.1" r="2"/><circle cx="188.4" cy="70.6" r="2"/><circle cx="68" cy="136.2" r="2"/><circle cx="161" cy="78.4" r="2"/><circle cx="72.4" cy="133.6" r="2"/><circle cx="209.6" cy="52" r="2"/><circle cx="91.7" cy="129.3" r="2"/><circle cx="186.8" cy="71" r="2"/><circle cx="136.7" cy="87.6" r="2"/><circle cx="91.8" cy="123.6" r="2"/><circle cx="141.5" cy="98.9" r="2"/><circle cx="212.2" cy="51.1" r="2"/><circle cx="204.9" cy="57.7" r="2"/><circle cx="127.2" cy="109.5" r="2"/><circle cx="74.6" cy="143.9" r="2"/><circle cx="208.7" cy="60.6" r="2"/><circle cx="100.6" cy="117.8" r="2"/><circle cx="151.5" cy="86.8" r="2"/><circle cx="226.9" cy="46" r="2"/><circle cx="141.7" cy="91.2" r="2"/><circle cx="120.9" cy="103.2" r="2"/><circle cx="104.2" cy="124.7" r="2"/><circle cx="112" cy="113.5" r="2"/><circle cx="72.5" cy="140" r="2"/><circle cx="217.1" cy="54.7" r="2"/><circle cx="227.6" cy="46.8" r="2"/><circle cx="190.8" cy="64.3" r="2"/><circle cx="129.3" cy="101.4" r="2"/><circle cx="159.8" cy="88.1" r="2"/><circle cx="99.9" cy="121.2" r="2"/><circle cx="171.4" cy="65.7" r="2"/><circle cx="177.8" cy="75.7" r="2"/><circle cx="182.1" cy="75.9" r="2"/><circle cx="143.2" cy="90.3" r="2"/><circle cx="156.1" cy="81" r="2"/><circle cx="173.7" cy="71.3" r="2"/><circle cx="108.5" cy="121.2" r="2"/><circle cx="215.5" cy="44.3" r="2"/><circle cx="207.8" cy="57.9" r="2"/><circle cx="110.7" cy="116.8" r="2"/><circle cx="221.7" cy="49.9" r="2"/><circle cx="149.4" cy="88.2" r="2"/><circle cx="82.2" cy="128.2" r="2"/><circle cx="94.9" cy="120.2" r="2"/><circle cx="186.8" cy="66.1" r="2"/><circle cx="75.1" cy="132" r="2"/><circle cx="125.8" cy="102.2" r="2"/><circle cx="95.2" cy="119" r="2"/><circle cx="200.6" cy="64.2" r="2"/><circle cx="77.7" cy="139.4" r="2"/><circle cx="118.4" cy="104.2" r="2"/><circle cx="201.6" cy="63.6" r="2"/><circle cx="174.5" cy="74.3" r="2"/><circle cx="177.1" cy="71.9" r="2"/><circle cx="223.2" cy="48.8" r="2"/><circle cx="231.5" cy="44.5" r="2"/><circle cx="183.7" cy="61.7" r="2"/><circle cx="184.3" cy="78.3" r="2"/><circle cx="138.2" cy="71.2" r="2"/><circle cx="161.1" cy="61.4" r="2"/><circle cx="240.3" cy="44" r="2"/><circle cx="228.5" cy="39.2" r="2"/></g>
<g fill="#008b8b" stroke="#0a1c1c" stroke-width="0.75"><path d="M150.9 85.9l2.05 3.8h-4.1z"/><path d="M81.6 131.8l2.05 3.8h-4.1z"/><path d="M149.4 86.5l2.05 3.8h-4.1z"/><path d="M108 116.3l2.05 3.8h-4.1z"/><path d="M96.4 121.2l2.05 3.8h-4.1z"/><path d="M222.3 50.5l2.05 3.8h-4.1z"/><path d="M119.5 110.7l2.05 3.8h-4.1z"/><path d="M163.5 81.5l2.05 3.8h-4.1z"/><path d="M129.3 99.7l2.05 3.8h-4.1z"/><path d="M102.8 119l2.05 3.8h-4.1z"/><path d="M130.5 99.7l2.05 3.8h-4.1z"/><path d="M209.9 63l2.05 3.8h-4.1z"/><path d="M130.3 98l2.05 3.8h-4.1z"/><path d="M183.6 61.9l2.05 3.8h-4.1z"/><path d="M200.3 56.8l2.05 3.8h-4.1z"/><path d="M96.1 125.4l2.05 3.8h-4.1z"/><path d="M219.7 54l2.05 3.8h-4.1z"/><path d="M169.8 76.5l2.05 3.8h-4.1z"/><path d="M102.8 123.3l2.05 3.8h-4.1z"/><path d="M98.9 120.2l2.05 3.8h-4.1z"/><path d="M86.5 133.4l2.05 3.8h-4.1z"/><path d="M215.3 48.2l2.05 3.8h-4.1z"/><path d="M210.6 51.5l2.05 3.8h-4.1z"/><path d="M91 134.1l2.05 3.8h-4.1z"/><path d="M117.2 109.7l2.05 3.8h-4.1z"/><path d="M98.4 125.2l2.05 3.8h-4.1z"/><path d="M222.6 54.3l2.05 3.8h-4.1z"/><path d="M202.3 62.3l2.05 3.8h-4.1z"/><path d="M112.6 114.5l2.05 3.8h-4.1z"/><path d="M106.7 114.1l2.05 3.8h-4.1z"/><path d="M146.1 98.1l2.05 3.8h-4.1z"/><path d="M90.3 122.5l2.05 3.8h-4.1z"/><path d="M129.7 95.4l2.05 3.8h-4.1z"/><path d="M159.5 82l2.05 3.8h-4.1z"/><path d="M108 113.6l2.05 3.8h-4.1z"/><path d="M84.5 131.9l2.05 3.8h-4.1z"/><path d="M117 114.9l2.05 3.8h-4.1z"/><path d="M68.6 140.6l2.05 3.8h-4.1z"/><path d="M128.8 101.9l2.05 3.8h-4.1z"/><path d="M149.9 87.3l2.05 3.8h-4.1z"/><path d="M116.3 102.5l2.05 3.8h-4.1z"/><path d="M104.5 116.6l2.05 3.8h-4.1z"/><path d="M190.3 64.2l2.05 3.8h-4.1z"/><path d="M109.1 107.1l2.05 3.8h-4.1z"/><path d="M117.7 115.1l2.05 3.8h-4.1z"/><path d="M143.1 101.5l2.05 3.8h-4.1z"/><path d="M108.3 117.7l2.05 3.8h-4.1z"/><path d="M180.8 74.4l2.05 3.8h-4.1z"/><path d="M77.9 134l2.05 3.8h-4.1z"/><path d="M116.2 112.5l2.05 3.8h-4.1z"/><path d="M131.9 94.9l2.05 3.8h-4.1z"/><path d="M105.8 113.1l2.05 3.8h-4.1z"/><path d="M198.9 59.4l2.05 3.8h-4.1z"/><path d="M121.2 109.5l2.05 3.8h-4.1z"/><path d="M131.8 99.1l2.05 3.8h-4.1z"/><path d="M139.5 93.4l2.05 3.8h-4.1z"/><path d="M229.2 49.9l2.05 3.8h-4.1z"/><path d="M99.5 121.1l2.05 3.8h-4.1z"/><path d="M197.2 58.8l2.05 3.8h-4.1z"/><path d="M216.3 52.3l2.05 3.8h-4.1z"/><path d="M91.6 122.4l2.05 3.8h-4.1z"/><path d="M190.8 62.2l2.05 3.8h-4.1z"/><path d="M114.6 117.2l2.05 3.8h-4.1z"/><path d="M100.9 120.9l2.05 3.8h-4.1z"/><path d="M77 139.3l2.05 3.8h-4.1z"/><path d="M162.7 78.6l2.05 3.8h-4.1z"/><path d="M214.5 56.8l2.05 3.8h-4.1z"/><path d="M158.7 81.2l2.05 3.8h-4.1z"/><path d="M134.7 98.1l2.05 3.8h-4.1z"/><path d="M217.6 49.3l2.05 3.8h-4.1z"/><path d="M176 75.2l2.05 3.8h-4.1z"/><path d="M176.7 79.7l2.05 3.8h-4.1z"/><path d="M84.6 126.3l2.05 3.8h-4.1z"/><path d="M104.9 119.2l2.05 3.8h-4.1z"/><path d="M75 133.8l2.05 3.8h-4.1z"/><path d="M161.4 81.5l2.05 3.8h-4.1z"/><path d="M89.5 126.6l2.05 3.8h-4.1z"/><path d="M84.4 126.3l2.05 3.8h-4.1z"/><path d="M135.9 97.5l2.05 3.8h-4.1z"/><path d="M127.1 99.4l2.05 3.8h-4.1z"/><path d="M231.7 50l2.05 3.8h-4.1z"/><path d="M78.8 132.9l2.05 3.8h-4.1z"/><path d="M168.1 80.1l2.05 3.8h-4.1z"/><path d="M191.3 66.6l2.05 3.8h-4.1z"/><path d="M74.6 138.3l2.05 3.8h-4.1z"/><path d="M228.6 45.8l2.05 3.8h-4.1z"/><path d="M112.6 108.1l2.05 3.8h-4.1z"/><path d="M151.3 96.3l2.05 3.8h-4.1z"/><path d="M161.3 83.1l2.05 3.8h-4.1z"/><path d="M130.2 104.9l2.05 3.8h-4.1z"/><path d="M203.1 55.9l2.05 3.8h-4.1z"/><path d="M127.1 105.9l2.05 3.8h-4.1z"/><path d="M233.1 43.3l2.05 3.8h-4.1z"/><path d="M187.2 69.8l2.05 3.8h-4.1z"/><path d="M199.3 58l2.05 3.8h-4.1z"/><path d="M204.9 55.5l2.05 3.8h-4.1z"/><path d="M91.6 128.6l2.05 3.8h-4.1z"/><path d="M96 124.3l2.05 3.8h-4.1z"/><path d="M138.6 102.4l2.05 3.8h-4.1z"/><path d="M164.3 80.3l2.05 3.8h-4.1z"/><path d="M116.8 108.1l2.05 3.8h-4.1z"/><path d="M223 51.4l2.05 3.8h-4.1z"/><path d="M154 83.3l2.05 3.8h-4.1z"/><path d="M172.5 84.5l2.05 3.8h-4.1z"/><path d="M228.7 52.6l2.05 3.8h-4.1z"/><path d="M194.7 69.2l2.05 3.8h-4.1z"/><path d="M126.4 106.5l2.05 3.8h-4.1z"/><path d="M107.9 116.7l2.05 3.8h-4.1z"/><path d="M109.7 115.9l2.05 3.8h-4.1z"/><path d="M86.6 130.9l2.05 3.8h-4.1z"/><path d="M193.1 62.7l2.05 3.8h-4.1z"/><path d="M200.3 62.9l2.05 3.8h-4.1z"/><path d="M155.7 91.4l2.05 3.8h-4.1z"/><path d="M126 109.5l2.05 3.8h-4.1z"/><path d="M170.1 70.1l2.05 3.8h-4.1z"/><path d="M190.5 75l2.05 3.8h-4.1z"/><path d="M205.7 59.1l2.05 3.8h-4.1z"/><path d="M185.6 64l2.05 3.8h-4.1z"/><path d="M142.4 92.9l2.05 3.8h-4.1z"/><path d="M93 129l2.05 3.8h-4.1z"/><path d="M176 74.7l2.05 3.8h-4.1z"/><path d="M197.6 59.8l2.05 3.8h-4.1z"/><path d="M218.6 48l2.05 3.8h-4.1z"/><path d="M82.7 135.9l2.05 3.8h-4.1z"/><path d="M166.3 77.4l2.05 3.8h-4.1z"/><path d="M196.9 62.3l2.05 3.8h-4.1z"/><path d="M76.7 133.6l2.05 3.8h-4.1z"/><path d="M162.8 77l2.05 3.8h-4.1z"/><path d="M107.1 118.4l2.05 3.8h-4.1z"/><path d="M77.6 140.8l2.05 3.8h-4.1z"/><path d="M189.8 65.6l2.05 3.8h-4.1z"/><path d="M112.6 107.7l2.05 3.8h-4.1z"/><path d="M131.6 99l2.05 3.8h-4.1z"/><path d="M85.4 130.1l2.05 3.8h-4.1z"/><path d="M117.5 96.5l2.05 3.8h-4.1z"/><path d="M85.8 134.3l2.05 3.8h-4.1z"/><path d="M105.7 115.2l2.05 3.8h-4.1z"/><path d="M157.1 87.9l2.05 3.8h-4.1z"/><path d="M112.4 113.7l2.05 3.8h-4.1z"/><path d="M171.3 77l2.05 3.8h-4.1z"/><path d="M208.7 51.9l2.05 3.8h-4.1z"/><path d="M156.8 89.5l2.05 3.8h-4.1z"/><path d="M96.2 126.1l2.05 3.8h-4.1z"/><path d="M119.9 114.5l2.05 3.8h-4.1z"/><path d="M148.8 88.9l2.05 3.8h-4.1z"/><path d="M163.6 83.6l2.05 3.8h-4.1z"/><path d="M119.3 107.9l2.05 3.8h-4.1z"/><path d="M135 103.3l2.05 3.8h-4.1z"/><path d="M164.8 82.5l2.05 3.8h-4.1z"/><path d="M137.7 93.8l2.05 3.8h-4.1z"/><path d="M109.9 116.1l2.05 3.8h-4.1z"/><path d="M130.2 100.1l2.05 3.8h-4.1z"/><path d="M126.1 103.1l2.05 3.8h-4.1z"/><path d="M111.2 115.8l2.05 3.8h-4.1z"/><path d="M160.7 89.6l2.05 3.8h-4.1z"/><path d="M146.5 88.4l2.05 3.8h-4.1z"/><path d="M130.4 101.6l2.05 3.8h-4.1z"/><path d="M178.1 69.9l2.05 3.8h-4.1z"/><path d="M194.6 76.4l2.05 3.8h-4.1z"/><path d="M168.4 85.4l2.05 3.8h-4.1z"/><path d="M119.1 116.9l2.05 3.8h-4.1z"/><path d="M214.4 56.8l2.05 3.8h-4.1z"/><path d="M193.4 61.3l2.05 3.8h-4.1z"/><path d="M131.9 97.7l2.05 3.8h-4.1z"/><path d="M128 103.9l2.05 3.8h-4.1z"/><path d="M199.5 61.3l2.05 3.8h-4.1z"/><path d="M169.4 75.6l2.05 3.8h-4.1z"/><path d="M83.1 133.7l2.05 3.8h-4.1z"/><path d="M145 91.5l2.05 3.8h-4.1z"/><path d="M187.4 67.8l2.05 3.8h-4.1z"/><path d="M77.7 143l2.05 3.8h-4.1z"/><path d="M151.3 91.7l2.05 3.8h-4.1z"/><path d="M223.4 45.2l2.05 3.8h-4.1z"/><path d="M83.2 134l2.05 3.8h-4.1z"/><path d="M110.8 115.3l2.05 3.8h-4.1z"/><path d="M119.6 111.3l2.05 3.8h-4.1z"/><path d="M110.2 116.9l2.05 3.8h-4.1z"/><path d="M133.7 96l2.05 3.8h-4.1z"/><path d="M197.9 63.5l2.05 3.8h-4.1z"/><path d="M147.3 95.5l2.05 3.8h-4.1z"/><path d="M158.8 96.6l2.05 3.8h-4.1z"/><path d="M82 135.3l2.05 3.8h-4.1z"/><path d="M74.9 144.1l2.05 3.8h-4.1z"/><path d="M216.7 58.7l2.05 3.8h-4.1z"/><path d="M216.1 50.5l2.05 3.8h-4.1z"/><path d="M166.9 77.3l2.05 3.8h-4.1z"/><path d="M170.4 85.2l2.05 3.8h-4.1z"/><path d="M78.9 132.9l2.05 3.8h-4.1z"/><path d="M75.9 136.1l2.05 3.8h-4.1z"/><path d="M135.2 102.1l2.05 3.8h-4.1z"/><path d="M84.9 129.4l2.05 3.8h-4.1z"/><path d="M111.9 119.7l2.05 3.8h-4.1z"/><path d="M95.9 131.1l2.05 3.8h-4.1z"/><path d="M114.6 120.8l2.05 3.8h-4.1z"/><path d="M137.5 101.9l2.05 3.8h-4.1z"/><path d="M114.3 109.6l2.05 3.8h-4.1z"/><path d="M118.2 114.7l2.05 3.8h-4.1z"/><path d="M142.3 102.1l2.05 3.8h-4.1z"/><path d="M173.8 79.5l2.05 3.8h-4.1z"/><path d="M133.5 99.6l2.05 3.8h-4.1z"/><path d="M212.2 57l2.05 3.8h-4.1z"/><path d="M65.7 141.5l2.05 3.8h-4.1z"/><path d="M80.4 136.8l2.05 3.8h-4.1z"/><path d="M210.6 60.2l2.05 3.8h-4.1z"/><path d="M130.5 104l2.05 3.8h-4.1z"/><path d="M200 61.4l2.05 3.8h-4.1z"/><path d="M175.7 78.4l2.05 3.8h-4.1z"/><path d="M78.6 134.9l2.05 3.8h-4.1z"/><path d="M122.4 101l2.05 3.8h-4.1z"/><path d="M117.6 112.5l2.05 3.8h-4.1z"/><path d="M137 97.9l2.05 3.8h-4.1z"/><path d="M185.2 64.7l2.05 3.8h-4.1z"/><path d="M77.9 138.2l2.05 3.8h-4.1z"/><path d="M212.8 57.6l2.05 3.8h-4.1z"/><path d="M140.8 102.7l2.05 3.8h-4.1z"/><path d="M123.1 105.6l2.05 3.8h-4.1z"/><path d="M223.5 46.7l2.05 3.8h-4.1z"/><path d="M108.8 116.8l2.05 3.8h-4.1z"/><path d="M221.9 50.1l2.05 3.8h-4.1z"/><path d="M131.1 97.2l2.05 3.8h-4.1z"/><path d="M141 90.1l2.05 3.8h-4.1z"/><path d="M94.8 129.8l2.05 3.8h-4.1z"/><path d="M97 123.9l2.05 3.8h-4.1z"/><path d="M202.4 59.9l2.05 3.8h-4.1z"/><path d="M156.8 83.3l2.05 3.8h-4.1z"/><path d="M132.1 102l2.05 3.8h-4.1z"/><path d="M188.5 70.1l2.05 3.8h-4.1z"/><path d="M210.5 57.6l2.05 3.8h-4.1z"/><path d="M89.9 134.1l2.05 3.8h-4.1z"/><path d="M224.2 49.2l2.05 3.8h-4.1z"/><path d="M162.8 84.7l2.05 3.8h-4.1z"/><path d="M106.7 116.1l2.05 3.8h-4.1z"/><path d="M220.9 54.1l2.05 3.8h-4.1z"/><path d="M143.7 95.6l2.05 3.8h-4.1z"/><path d="M161.2 87.1l2.05 3.8h-4.1z"/><path d="M134.4 103.7l2.05 3.8h-4.1z"/><path d="M178.8 70.6l2.05 3.8h-4.1z"/><path d="M216.6 54.5l2.05 3.8h-4.1z"/><path d="M102.5 118.9l2.05 3.8h-4.1z"/><path d="M162.1 87.2l2.05 3.8h-4.1z"/><path d="M130.2 102.2l2.05 3.8h-4.1z"/><path d="M115 118.1l2.05 3.8h-4.1z"/><path d="M145.3 94.9l2.05 3.8h-4.1z"/><path d="M176 76.7l2.05 3.8h-4.1z"/><path d="M210 53.2l2.05 3.8h-4.1z"/><path d="M215.1 53.2l2.05 3.8h-4.1z"/><path d="M120 109.7l2.05 3.8h-4.1z"/><path d="M206 55.7l2.05 3.8h-4.1z"/><path d="M178.1 72.5l2.05 3.8h-4.1z"/><path d="M92.4 125.2l2.05 3.8h-4.1z"/><path d="M217.1 50.3l2.05 3.8h-4.1z"/><path d="M173.7 76.7l2.05 3.8h-4.1z"/><path d="M175.7 76.1l2.05 3.8h-4.1z"/><path d="M209.9 55.4l2.05 3.8h-4.1z"/><path d="M171.2 79.2l2.05 3.8h-4.1z"/><path d="M221.9 49.1l2.05 3.8h-4.1z"/><path d="M70.5 137.7l2.05 3.8h-4.1z"/><path d="M156.6 82.9l2.05 3.8h-4.1z"/><path d="M132.4 102.5l2.05 3.8h-4.1z"/><path d="M77.7 140.4l2.05 3.8h-4.1z"/><path d="M223.5 49.7l2.05 3.8h-4.1z"/><path d="M157.2 86.3l2.05 3.8h-4.1z"/><path d="M128.9 99.4l2.05 3.8h-4.1z"/><path d="M186.7 70.2l2.05 3.8h-4.1z"/><path d="M221.5 51.2l2.05 3.8h-4.1z"/><path d="M205 54.9l2.05 3.8h-4.1z"/><path d="M186 72.3l2.05 3.8h-4.1z"/><path d="M143.6 94.7l2.05 3.8h-4.1z"/><path d="M121.8 101.9l2.05 3.8h-4.1z"/><path d="M98.7 118.1l2.05 3.8h-4.1z"/><path d="M111.3 112.6l2.05 3.8h-4.1z"/><path d="M121.3 107.3l2.05 3.8h-4.1z"/><path d="M122.3 111l2.05 3.8h-4.1z"/><path d="M93.2 124.7l2.05 3.8h-4.1z"/><path d="M140.2 96l2.05 3.8h-4.1z"/><path d="M82.4 132.7l2.05 3.8h-4.1z"/><path d="M203.5 62.9l2.05 3.8h-4.1z"/><path d="M152.6 88.8l2.05 3.8h-4.1z"/><path d="M79.7 136.2l2.05 3.8h-4.1z"/><path d="M117 110l2.05 3.8h-4.1z"/><path d="M105.4 113.9l2.05 3.8h-4.1z"/><path d="M89.5 127.7l2.05 3.8h-4.1z"/><path d="M141.4 101.7l2.05 3.8h-4.1z"/><path d="M93.8 129.1l2.05 3.8h-4.1z"/><path d="M88.8 137.8l2.05 3.8h-4.1z"/><path d="M176.9 77.3l2.05 3.8h-4.1z"/><path d="M133.3 98.5l2.05 3.8h-4.1z"/><path d="M172.1 75.6l2.05 3.8h-4.1z"/><path d="M139.7 98.7l2.05 3.8h-4.1z"/><path d="M145.2 92.1l2.05 3.8h-4.1z"/><path d="M114.2 115.4l2.05 3.8h-4.1z"/><path d="M132.7 106.1l2.05 3.8h-4.1z"/><path d="M141.5 100.7l2.05 3.8h-4.1z"/><path d="M119.3 112.5l2.05 3.8h-4.1z"/><path d="M196.8 58.5l2.05 3.8h-4.1z"/><path d="M103.9 123.9l2.05 3.8h-4.1z"/><path d="M99.8 118.2l2.05 3.8h-4.1z"/><path d="M119.6 104.7l2.05 3.8h-4.1z"/><path d="M190.2 67.6l2.05 3.8h-4.1z"/><path d="M200.2 61.7l2.05 3.8h-4.1z"/><path d="M236.4 38.8l2.05 3.8h-4.1z"/><path d="M244.9 39.3l2.05 3.8h-4.1z"/><path d="M226.5 42.6l2.05 3.8h-4.1z"/><path d="M154.5 101l2.05 3.8h-4.1z"/><path d="M148 102.4l2.05 3.8h-4.1z"/></g>
<rect x="46.5" y="3.7" width="222.2" height="159.8" fill="none" stroke="#444" stroke-width="0.9"/>
<path d="M46.5 163.5h-2.6M46.5 163.5v2.6M46.5 128.2h-2.6M95.6 163.5v2.6M46.5 92.9h-2.6M144.7 163.5v2.6M46.5 57.6h-2.6M193.8 163.5v2.6M46.5 22.3h-2.6M242.9 163.5v2.6" stroke="#444" stroke-width="0.9" fill="none"/>
<g font-size="8.7" fill="#222"><text x="38.5" y="166.6" text-anchor="end">0</text><text x="46" y="179" text-anchor="middle">0</text><text x="38.5" y="131.3" text-anchor="end">750</text><text x="95.1" y="179" text-anchor="middle">750</text><text x="38.5" y="96" text-anchor="end">1500</text><text x="144.2" y="179" text-anchor="middle">1500</text><text x="38.5" y="60.7" text-anchor="end">2250</text><text x="193.3" y="179" text-anchor="middle">2250</text><text x="38.5" y="25.4" text-anchor="end">3000</text><text x="242.4" y="179" text-anchor="middle">3000</text></g>
<rect x="60.1" y="13.8" width="3.7" height="3.7" fill="#fff" stroke="#1c1c1c" stroke-width="0.85"/>
<circle cx="62" cy="27.4" r="2" fill="#8e8e8e" stroke="#1c1c1c" stroke-width="0.85"/>
<path d="M62 36.4l2.05 3.8h-4.1z" fill="#008b8b" stroke="#0a1c1c" stroke-width="0.75"/>
<text x="76.9" y="18.8" font-size="9.5" fill="#222" textLength="55" lengthAdjust="spacingAndGlyphs">Training cases</text>
<text x="76.9" y="30.5" font-size="9.5" fill="#222" textLength="62.5" lengthAdjust="spacingAndGlyphs">Validation cases</text>
<text x="76.9" y="41.8" font-size="9.5" fill="#222" textLength="58.5" lengthAdjust="spacingAndGlyphs">Querying cases</text>
<text transform="translate(225.4 34.9) rotate(-35.7)" font-size="5.8" fill="#222" textLength="38" lengthAdjust="spacingAndGlyphs" x="0" y="-1.3">Line with slope 1</text></g>
<g><line x1="323.3" y1="163.5" x2="544.1" y2="3.7" stroke="#111" stroke-width="0.9" stroke-dasharray="6 1.8 0.9 1.8 0.9 1.8"/>
<g fill="#fff" stroke="#1c1c1c" stroke-width="0.85"><rect x="367.2" y="125" width="3.7" height="3.7"/><rect x="454.6" y="64.2" width="3.7" height="3.7"/><rect x="361.5" y="131.7" width="3.7" height="3.7"/><rect x="387" y="110.2" width="3.7" height="3.7"/><rect x="350.6" y="139.3" width="3.7" height="3.7"/><rect x="442.4" y="75.8" width="3.7" height="3.7"/><rect x="454.9" y="65.4" width="3.7" height="3.7"/><rect x="458.1" y="65.9" width="3.7" height="3.7"/><rect x="462.5" y="53.3" width="3.7" height="3.7"/><rect x="402.1" y="104.5" width="3.7" height="3.7"/><rect x="367.5" y="126.7" width="3.7" height="3.7"/><rect x="487.8" y="42.2" width="3.7" height="3.7"/><rect x="437.3" y="76.1" width="3.7" height="3.7"/><rect x="485.2" y="40.1" width="3.7" height="3.7"/><rect x="476.6" y="42.6" width="3.7" height="3.7"/><rect x="457" y="63.5" width="3.7" height="3.7"/><rect x="433.6" y="80" width="3.7" height="3.7"/><rect x="376.2" y="118.4" width="3.7" height="3.7"/><rect x="458.5" y="58.7" width="3.7" height="3.7"/><rect x="405.8" y="96" width="3.7" height="3.7"/><rect x="451.7" y="69.9" width="3.7" height="3.7"/><rect x="374.9" y="125.2" width="3.7" height="3.7"/><rect x="489" y="32.6" width="3.7" height="3.7"/><rect x="465.1" y="53.6" width="3.7" height="3.7"/><rect x="481" y="44.9" width="3.7" height="3.7"/><rect x="363.5" y="125.4" width="3.7" height="3.7"/><rect x="477" y="50.4" width="3.7" height="3.7"/><rect x="441.9" y="76.3" width="3.7" height="3.7"/><rect x="435.4" y="78.6" width="3.7" height="3.7"/><rect x="379.8" y="116.8" width="3.7" height="3.7"/><rect x="391.6" y="109.7" width="3.7" height="3.7"/><rect x="376.7" y="122.3" width="3.7" height="3.7"/><rect x="409.6" y="97.5" width="3.7" height="3.7"/><rect x="442.4" y="70.7" width="3.7" height="3.7"/><rect x="455.3" y="65.3" width="3.7" height="3.7"/><rect x="451.6" y="66.1" width="3.7" height="3.7"/><rect x="394.5" y="119.2" width="3.7" height="3.7"/><rect x="392.8" y="108.4" width="3.7" height="3.7"/><rect x="460.8" y="60.3" width="3.7" height="3.7"/><rect x="494.3" y="41" width="3.7" height="3.7"/><rect x="405" y="110" width="3.7" height="3.7"/><rect x="383.3" y="112.5" width="3.7" height="3.7"/><rect x="494.4" y="42.9" width="3.7" height="3.7"/><rect x="481.3" y="43.9" width="3.7" height="3.7"/><rect x="461.4" y="60.8" width="3.7" height="3.7"/><rect x="392.1" y="105.7" width="3.7" height="3.7"/><rect x="447.6" y="71.5" width="3.7" height="3.7"/><rect x="398.2" y="107.8" width="3.7" height="3.7"/><rect x="440.7" y="74.1" width="3.7" height="3.7"/><rect x="407" y="98.2" width="3.7" height="3.7"/><rect x="484.9" y="40.8" width="3.7" height="3.7"/><rect x="412.1" y="95" width="3.7" height="3.7"/><rect x="468.6" y="55.8" width="3.7" height="3.7"/><rect x="431" y="77.8" width="3.7" height="3.7"/><rect x="398.6" y="99.6" width="3.7" height="3.7"/><rect x="493.1" y="34.7" width="3.7" height="3.7"/><rect x="483.8" y="40.2" width="3.7" height="3.7"/><rect x="436.5" y="75.3" width="3.7" height="3.7"/><rect x="438.4" y="72.9" width="3.7" height="3.7"/><rect x="487" y="38.5" width="3.7" height="3.7"/><rect x="408.2" y="95.1" width="3.7" height="3.7"/><rect x="470.5" y="52.6" width="3.7" height="3.7"/><rect x="462.6" y="58.1" width="3.7" height="3.7"/><rect x="475.9" y="40.9" width="3.7" height="3.7"/><rect x="409.5" y="95.5" width="3.7" height="3.7"/><rect x="443.2" y="72.9" width="3.7" height="3.7"/><rect x="354" y="135" width="3.7" height="3.7"/><rect x="350.8" y="136.4" width="3.7" height="3.7"/><rect x="356.4" y="130.9" width="3.7" height="3.7"/><rect x="456.3" y="66.7" width="3.7" height="3.7"/><rect x="395.8" y="117.7" width="3.7" height="3.7"/><rect x="483.9" y="42.8" width="3.7" height="3.7"/><rect x="351.9" y="139.6" width="3.7" height="3.7"/><rect x="366.8" y="124.4" width="3.7" height="3.7"/><rect x="472.4" y="50.7" width="3.7" height="3.7"/><rect x="405.9" y="94.5" width="3.7" height="3.7"/><rect x="374.4" y="115.2" width="3.7" height="3.7"/><rect x="463.6" y="56.7" width="3.7" height="3.7"/><rect x="376.6" y="119.8" width="3.7" height="3.7"/><rect x="494.2" y="40.9" width="3.7" height="3.7"/><rect x="475.9" y="52.1" width="3.7" height="3.7"/><rect x="415.6" y="91.1" width="3.7" height="3.7"/><rect x="488.1" y="48.2" width="3.7" height="3.7"/><rect x="486.5" y="41.4" width="3.7" height="3.7"/><rect x="387.5" y="110.8" width="3.7" height="3.7"/><rect x="410.6" y="92.7" width="3.7" height="3.7"/><rect x="440" y="75.4" width="3.7" height="3.7"/><rect x="427.6" y="82.6" width="3.7" height="3.7"/><rect x="446.1" y="72.5" width="3.7" height="3.7"/><rect x="450.1" y="68.8" width="3.7" height="3.7"/><rect x="381.9" y="119.6" width="3.7" height="3.7"/><rect x="434.8" y="77.5" width="3.7" height="3.7"/><rect x="429" y="77.1" width="3.7" height="3.7"/><rect x="418.2" y="88.9" width="3.7" height="3.7"/><rect x="487" y="40.3" width="3.7" height="3.7"/><rect x="500.3" y="36" width="3.7" height="3.7"/><rect x="484.4" y="38.4" width="3.7" height="3.7"/><rect x="366.1" y="127.7" width="3.7" height="3.7"/><rect x="449.8" y="64.8" width="3.7" height="3.7"/><rect x="489.1" y="39.8" width="3.7" height="3.7"/><rect x="461.9" y="62.4" width="3.7" height="3.7"/><rect x="382.8" y="107.6" width="3.7" height="3.7"/><rect x="348.7" y="137.6" width="3.7" height="3.7"/><rect x="450.5" y="66.4" width="3.7" height="3.7"/><rect x="384.4" y="111.6" width="3.7" height="3.7"/><rect x="490.5" y="39.3" width="3.7" height="3.7"/><rect x="381.9" y="115.7" width="3.7" height="3.7"/><rect x="498.5" y="32" width="3.7" height="3.7"/><rect x="398.3" y="104.4" width="3.7" height="3.7"/><rect x="387" y="110.9" width="3.7" height="3.7"/><rect x="342.7" y="145.6" width="3.7" height="3.7"/><rect x="381" y="119.5" width="3.7" height="3.7"/><rect x="446.3" y="72.1" width="3.7" height="3.7"/><rect x="399.4" y="104" width="3.7" height="3.7"/><rect x="454.3" y="64.3" width="3.7" height="3.7"/><rect x="409.7" y="91.7" width="3.7" height="3.7"/><rect x="393.5" y="111.5" width="3.7" height="3.7"/><rect x="364.6" y="126.3" width="3.7" height="3.7"/><rect x="375.7" y="125.1" width="3.7" height="3.7"/><rect x="482.8" y="48.3" width="3.7" height="3.7"/><rect x="411.8" y="95.4" width="3.7" height="3.7"/><rect x="389.2" y="116" width="3.7" height="3.7"/><rect x="374.1" y="125.2" width="3.7" height="3.7"/><rect x="478.8" y="46.8" width="3.7" height="3.7"/><rect x="451.4" y="66.1" width="3.7" height="3.7"/><rect x="449.8" y="67.8" width="3.7" height="3.7"/><rect x="467.3" y="58.1" width="3.7" height="3.7"/><rect x="377.7" y="111.5" width="3.7" height="3.7"/><rect x="455.6" y="64.6" width="3.7" height="3.7"/><rect x="503.8" y="33.1" width="3.7" height="3.7"/><rect x="445.1" y="65.2" width="3.7" height="3.7"/><rect x="390.6" y="106.8" width="3.7" height="3.7"/><rect x="444.6" y="72.3" width="3.7" height="3.7"/><rect x="375.4" y="115.8" width="3.7" height="3.7"/><rect x="395.6" y="104.7" width="3.7" height="3.7"/><rect x="446" y="68" width="3.7" height="3.7"/><rect x="488.8" y="39.6" width="3.7" height="3.7"/><rect x="366.3" y="128.3" width="3.7" height="3.7"/><rect x="359.2" y="127.8" width="3.7" height="3.7"/><rect x="446.1" y="69.5" width="3.7" height="3.7"/><rect x="481.6" y="53.2" width="3.7" height="3.7"/><rect x="342" y="146.6" width="3.7" height="3.7"/><rect x="366.2" y="122.9" width="3.7" height="3.7"/><rect x="491.2" y="41.6" width="3.7" height="3.7"/><rect x="350.3" y="136.5" width="3.7" height="3.7"/><rect x="461.5" y="57.1" width="3.7" height="3.7"/><rect x="357.6" y="130.8" width="3.7" height="3.7"/><rect x="404.2" y="103.7" width="3.7" height="3.7"/><rect x="422.1" y="84.8" width="3.7" height="3.7"/><rect x="482.3" y="41.6" width="3.7" height="3.7"/><rect x="494.8" y="29.3" width="3.7" height="3.7"/><rect x="348.9" y="133.4" width="3.7" height="3.7"/><rect x="411.4" y="91.7" width="3.7" height="3.7"/><rect x="463.2" y="55.5" width="3.7" height="3.7"/><rect x="425.8" y="79.2" width="3.7" height="3.7"/><rect x="445.4" y="71.5" width="3.7" height="3.7"/><rect x="472.5" y="45.7" width="3.7" height="3.7"/><rect x="430.3" y="75.5" width="3.7" height="3.7"/><rect x="388.3" y="108" width="3.7" height="3.7"/><rect x="364.7" y="121.6" width="3.7" height="3.7"/><rect x="366" y="123.4" width="3.7" height="3.7"/><rect x="441.2" y="76.3" width="3.7" height="3.7"/><rect x="462.3" y="54.9" width="3.7" height="3.7"/><rect x="476" y="48.2" width="3.7" height="3.7"/><rect x="484.8" y="41.7" width="3.7" height="3.7"/><rect x="385.1" y="111.9" width="3.7" height="3.7"/><rect x="392.6" y="103.3" width="3.7" height="3.7"/><rect x="370.6" y="121" width="3.7" height="3.7"/><rect x="425.9" y="86.3" width="3.7" height="3.7"/><rect x="489.9" y="37.9" width="3.7" height="3.7"/><rect x="408.8" y="93.7" width="3.7" height="3.7"/><rect x="364.6" y="128.6" width="3.7" height="3.7"/><rect x="473.4" y="52.6" width="3.7" height="3.7"/><rect x="481.9" y="48.1" width="3.7" height="3.7"/><rect x="461.5" y="61.4" width="3.7" height="3.7"/><rect x="385.8" y="109.7" width="3.7" height="3.7"/><rect x="401.4" y="98.1" width="3.7" height="3.7"/><rect x="432.2" y="66.5" width="3.7" height="3.7"/><rect x="485.4" y="38.5" width="3.7" height="3.7"/><rect x="378" y="114.5" width="3.7" height="3.7"/><rect x="406.1" y="90.3" width="3.7" height="3.7"/><rect x="348.9" y="134.1" width="3.7" height="3.7"/><rect x="468" y="56.1" width="3.7" height="3.7"/><rect x="446.8" y="64.6" width="3.7" height="3.7"/><rect x="415.2" y="90.5" width="3.7" height="3.7"/><rect x="404.5" y="99.3" width="3.7" height="3.7"/><rect x="381.5" y="116.2" width="3.7" height="3.7"/><rect x="461.2" y="61.3" width="3.7" height="3.7"/><rect x="416.9" y="91.1" width="3.7" height="3.7"/><rect x="350.5" y="139.7" width="3.7" height="3.7"/><rect x="439.1" y="73.2" width="3.7" height="3.7"/><rect x="497.3" y="34.5" width="3.7" height="3.7"/><rect x="498" y="33.6" width="3.7" height="3.7"/><rect x="388.3" y="109.2" width="3.7" height="3.7"/><rect x="368.7" y="121.8" width="3.7" height="3.7"/><rect x="453.9" y="66.6" width="3.7" height="3.7"/><rect x="436.8" y="76.8" width="3.7" height="3.7"/><rect x="402.7" y="105" width="3.7" height="3.7"/><rect x="464" y="65.2" width="3.7" height="3.7"/><rect x="440.3" y="80.4" width="3.7" height="3.7"/><rect x="375.2" y="115" width="3.7" height="3.7"/><rect x="417.3" y="102.4" width="3.7" height="3.7"/><rect x="452.2" y="64.2" width="3.7" height="3.7"/><rect x="438.2" y="70.8" width="3.7" height="3.7"/><rect x="425.7" y="85.6" width="3.7" height="3.7"/><rect x="456.7" y="57.3" width="3.7" height="3.7"/><rect x="360.8" y="124.3" width="3.7" height="3.7"/><rect x="346.2" y="137" width="3.7" height="3.7"/><rect x="438.1" y="68" width="3.7" height="3.7"/><rect x="408.5" y="94.3" width="3.7" height="3.7"/><rect x="472.3" y="54.4" width="3.7" height="3.7"/><rect x="493.9" y="35" width="3.7" height="3.7"/><rect x="506.6" y="29.7" width="3.7" height="3.7"/><rect x="406.1" y="101.7" width="3.7" height="3.7"/><rect x="426.3" y="92.6" width="3.7" height="3.7"/><rect x="484" y="35.5" width="3.7" height="3.7"/><rect x="434.8" y="79.6" width="3.7" height="3.7"/><rect x="387.8" y="110.6" width="3.7" height="3.7"/><rect x="444.8" y="73.1" width="3.7" height="3.7"/><rect x="391.7" y="107.4" width="3.7" height="3.7"/><rect x="427.7" y="83.6" width="3.7" height="3.7"/><rect x="355" y="135.6" width="3.7" height="3.7"/><rect x="429.1" y="85.7" width="3.7" height="3.7"/><rect x="415.5" y="95.6" width="3.7" height="3.7"/><rect x="442" y="75.3" width="3.7" height="3.7"/><rect x="429.5" y="80.6" width="3.7" height="3.7"/><rect x="430.5" y="74.3" width="3.7" height="3.7"/><rect x="456.6" y="59.2" width="3.7" height="3.7"/><rect x="360.6" y="124.5" width="3.7" height="3.7"/><rect x="458.9" y="59.5" width="3.7" height="3.7"/><rect x="438.6" y="75.5" width="3.7" height="3.7"/><rect x="448.9" y="72.4" width="3.7" height="3.7"/><rect x="402.9" y="100" width="3.7" height="3.7"/><rect x="352.9" y="140.4" width="3.7" height="3.7"/><rect x="486" y="43.3" width="3.7" height="3.7"/><rect x="470.9" y="47.2" width="3.7" height="3.7"/><rect x="494.6" y="35.1" width="3.7" height="3.7"/><rect x="506.4" y="24" width="3.7" height="3.7"/><rect x="478" y="49.2" width="3.7" height="3.7"/><rect x="426.8" y="87.7" width="3.7" height="3.7"/><rect x="482.6" y="46.3" width="3.7" height="3.7"/><rect x="468.9" y="55.5" width="3.7" height="3.7"/><rect x="355.7" y="129.6" width="3.7" height="3.7"/><rect x="360.6" y="124.1" width="3.7" height="3.7"/><rect x="404.2" y="101.3" width="3.7" height="3.7"/><rect x="424.1" y="86.4" width="3.7" height="3.7"/><rect x="443.2" y="72.5" width="3.7" height="3.7"/><rect x="429.1" y="82.9" width="3.7" height="3.7"/><rect x="478.7" y="56.8" width="3.7" height="3.7"/><rect x="466.7" y="55.3" width="3.7" height="3.7"/><rect x="355.6" y="131.8" width="3.7" height="3.7"/><rect x="393.3" y="105.5" width="3.7" height="3.7"/><rect x="480.6" y="50.3" width="3.7" height="3.7"/><rect x="459.5" y="61.4" width="3.7" height="3.7"/><rect x="359.4" y="134.8" width="3.7" height="3.7"/><rect x="419.4" y="82.2" width="3.7" height="3.7"/><rect x="497.5" y="38" width="3.7" height="3.7"/><rect x="470.4" y="54.1" width="3.7" height="3.7"/><rect x="416.3" y="92" width="3.7" height="3.7"/><rect x="349.7" y="138.5" width="3.7" height="3.7"/><rect x="441.7" y="76.5" width="3.7" height="3.7"/><rect x="476.2" y="62.5" width="3.7" height="3.7"/><rect x="383.8" y="108.3" width="3.7" height="3.7"/><rect x="451.5" y="65.4" width="3.7" height="3.7"/><rect x="379.8" y="115.3" width="3.7" height="3.7"/><rect x="372" y="115.6" width="3.7" height="3.7"/><rect x="392.2" y="107.7" width="3.7" height="3.7"/><rect x="504.7" y="27.2" width="3.7" height="3.7"/><rect x="492.5" y="37.7" width="3.7" height="3.7"/><rect x="406.9" y="93.6" width="3.7" height="3.7"/><rect x="416.6" y="88.9" width="3.7" height="3.7"/><rect x="449.3" y="66.7" width="3.7" height="3.7"/><rect x="476.3" y="49.9" width="3.7" height="3.7"/><rect x="360.3" y="128.8" width="3.7" height="3.7"/><rect x="444.6" y="67.2" width="3.7" height="3.7"/><rect x="366.8" y="130.7" width="3.7" height="3.7"/><rect x="478" y="48.3" width="3.7" height="3.7"/><rect x="434.1" y="81.1" width="3.7" height="3.7"/><rect x="361" y="130.7" width="3.7" height="3.7"/><rect x="474.6" y="57" width="3.7" height="3.7"/><rect x="422.9" y="83.8" width="3.7" height="3.7"/><rect x="416.6" y="93" width="3.7" height="3.7"/><rect x="352.3" y="135.7" width="3.7" height="3.7"/><rect x="483.6" y="47.7" width="3.7" height="3.7"/><rect x="421.1" y="92.5" width="3.7" height="3.7"/><rect x="476.9" y="50.1" width="3.7" height="3.7"/><rect x="351.3" y="140.6" width="3.7" height="3.7"/><rect x="447.5" y="72.1" width="3.7" height="3.7"/><rect x="399.1" y="103.5" width="3.7" height="3.7"/><rect x="424.7" y="84.8" width="3.7" height="3.7"/><rect x="438.7" y="74.9" width="3.7" height="3.7"/><rect x="470.7" y="53.3" width="3.7" height="3.7"/><rect x="486.2" y="34.5" width="3.7" height="3.7"/><rect x="365.9" y="124.5" width="3.7" height="3.7"/><rect x="476.1" y="58.3" width="3.7" height="3.7"/><rect x="357.9" y="132.8" width="3.7" height="3.7"/><rect x="341.1" y="144.6" width="3.7" height="3.7"/><rect x="384.6" y="113.1" width="3.7" height="3.7"/><rect x="462" y="60.9" width="3.7" height="3.7"/><rect x="428.5" y="84.9" width="3.7" height="3.7"/><rect x="401.1" y="96.3" width="3.7" height="3.7"/><rect x="465.1" y="56.6" width="3.7" height="3.7"/><rect x="488.2" y="41.9" width="3.7" height="3.7"/><rect x="443.2" y="72.8" width="3.7" height="3.7"/><rect x="476.4" y="49.6" width="3.7" height="3.7"/><rect x="385.9" y="102.9" width="3.7" height="3.7"/><rect x="497.8" y="30.1" width="3.7" height="3.7"/><rect x="367.1" y="121.8" width="3.7" height="3.7"/><rect x="392.7" y="116.1" width="3.7" height="3.7"/><rect x="421" y="86.4" width="3.7" height="3.7"/><rect x="357" y="129" width="3.7" height="3.7"/><rect x="406.8" y="91.3" width="3.7" height="3.7"/><rect x="395.6" y="104.9" width="3.7" height="3.7"/><rect x="353" y="139.1" width="3.7" height="3.7"/><rect x="435.3" y="75.6" width="3.7" height="3.7"/><rect x="411.1" y="96.1" width="3.7" height="3.7"/><rect x="364.8" y="131.3" width="3.7" height="3.7"/><rect x="464.7" y="61.5" width="3.7" height="3.7"/><rect x="404.6" y="95.6" width="3.7" height="3.7"/><rect x="404.4" y="90.9" width="3.7" height="3.7"/><rect x="354" y="132" width="3.7" height="3.7"/><rect x="385.3" y="115.2" width="3.7" height="3.7"/><rect x="379.9" y="108.8" width="3.7" height="3.7"/><rect x="346.3" y="142.3" width="3.7" height="3.7"/><rect x="366.2" y="125.7" width="3.7" height="3.7"/><rect x="373.3" y="124.5" width="3.7" height="3.7"/><rect x="446.6" y="65.3" width="3.7" height="3.7"/><rect x="364.5" y="125.4" width="3.7" height="3.7"/><rect x="342.8" y="139.4" width="3.7" height="3.7"/><rect x="386.3" y="111.2" width="3.7" height="3.7"/><rect x="500" y="32.8" width="3.7" height="3.7"/><rect x="434.4" y="77.5" width="3.7" height="3.7"/><rect x="479.3" y="61.3" width="3.7" height="3.7"/><rect x="471.5" y="48.9" width="3.7" height="3.7"/><rect x="414.2" y="89.3" width="3.7" height="3.7"/><rect x="464.3" y="60" width="3.7" height="3.7"/><rect x="465.1" y="56.8" width="3.7" height="3.7"/><rect x="440.3" y="73" width="3.7" height="3.7"/><rect x="467" y="50" width="3.7" height="3.7"/><rect x="399.6" y="101" width="3.7" height="3.7"/><rect x="458.3" y="61.3" width="3.7" height="3.7"/><rect x="422.5" y="87.9" width="3.7" height="3.7"/><rect x="456.9" y="67.5" width="3.7" height="3.7"/><rect x="456.9" y="64.4" width="3.7" height="3.7"/><rect x="349.8" y="136.2" width="3.7" height="3.7"/><rect x="472" y="52.8" width="3.7" height="3.7"/><rect x="345.1" y="139.9" width="3.7" height="3.7"/><rect x="433.4" y="73.4" width="3.7" height="3.7"/><rect x="470.3" y="51.6" width="3.7" height="3.7"/><rect x="499.7" y="31.6" width="3.7" height="3.7"/><rect x="394.2" y="104" width="3.7" height="3.7"/><rect x="345.9" y="139.1" width="3.7" height="3.7"/><rect x="441.3" y="73.4" width="3.7" height="3.7"/><rect x="352.5" y="133.7" width="3.7" height="3.7"/><rect x="474.3" y="56.3" width="3.7" height="3.7"/><rect x="346.2" y="136.1" width="3.7" height="3.7"/><rect x="391.8" y="111.4" width="3.7" height="3.7"/><rect x="349.6" y="134.8" width="3.7" height="3.7"/><rect x="486.6" y="41.5" width="3.7" height="3.7"/><rect x="371" y="119" width="3.7" height="3.7"/><rect x="471.9" y="51.9" width="3.7" height="3.7"/><rect x="393.1" y="109.5" width="3.7" height="3.7"/><rect x="385.3" y="109.1" width="3.7" height="3.7"/><rect x="449.1" y="67.2" width="3.7" height="3.7"/><rect x="352.9" y="134.3" width="3.7" height="3.7"/><rect x="395.6" y="104.2" width="3.7" height="3.7"/><rect x="465.8" y="52.8" width="3.7" height="3.7"/><rect x="407.1" y="94.5" width="3.7" height="3.7"/><rect x="354.1" y="133.2" width="3.7" height="3.7"/><rect x="414.8" y="96.4" width="3.7" height="3.7"/><rect x="366.5" y="126.3" width="3.7" height="3.7"/><rect x="352.2" y="134.8" width="3.7" height="3.7"/><rect x="499.1" y="26.5" width="3.7" height="3.7"/><rect x="380.5" y="114.4" width="3.7" height="3.7"/><rect x="392.8" y="107.2" width="3.7" height="3.7"/><rect x="451.6" y="62.1" width="3.7" height="3.7"/><rect x="378.2" y="117.4" width="3.7" height="3.7"/><rect x="458.6" y="61.3" width="3.7" height="3.7"/><rect x="450.4" y="66.4" width="3.7" height="3.7"/><rect x="423.3" y="90.4" width="3.7" height="3.7"/><rect x="377.3" y="115" width="3.7" height="3.7"/><rect x="372.4" y="119.9" width="3.7" height="3.7"/><rect x="406.1" y="98.5" width="3.7" height="3.7"/><rect x="383.3" y="116.7" width="3.7" height="3.7"/><rect x="480.1" y="45.5" width="3.7" height="3.7"/><rect x="413.4" y="88.3" width="3.7" height="3.7"/><rect x="447.2" y="73.6" width="3.7" height="3.7"/><rect x="482.1" y="48.6" width="3.7" height="3.7"/><rect x="438.1" y="74" width="3.7" height="3.7"/><rect x="499.9" y="38.3" width="3.7" height="3.7"/><rect x="390.2" y="115.2" width="3.7" height="3.7"/><rect x="486.1" y="43.6" width="3.7" height="3.7"/><rect x="346.7" y="142.7" width="3.7" height="3.7"/><rect x="437.7" y="76.6" width="3.7" height="3.7"/><rect x="475.2" y="51.5" width="3.7" height="3.7"/><rect x="469.9" y="52.2" width="3.7" height="3.7"/><rect x="455.6" y="64" width="3.7" height="3.7"/><rect x="496.8" y="36.8" width="3.7" height="3.7"/><rect x="398.8" y="104.1" width="3.7" height="3.7"/><rect x="349.1" y="133.5" width="3.7" height="3.7"/><rect x="440.5" y="70.7" width="3.7" height="3.7"/><rect x="350.9" y="133.7" width="3.7" height="3.7"/><rect x="466.4" y="53.4" width="3.7" height="3.7"/><rect x="360.2" y="138.4" width="3.7" height="3.7"/><rect x="366" y="128.3" width="3.7" height="3.7"/><rect x="431.9" y="80.7" width="3.7" height="3.7"/><rect x="349.1" y="136.7" width="3.7" height="3.7"/><rect x="495.4" y="41.5" width="3.7" height="3.7"/><rect x="448.8" y="63.3" width="3.7" height="3.7"/><rect x="473.6" y="49.7" width="3.7" height="3.7"/><rect x="386.5" y="113.1" width="3.7" height="3.7"/><rect x="340.6" y="142.7" width="3.7" height="3.7"/><rect x="349" y="139.1" width="3.7" height="3.7"/><rect x="459.4" y="63.2" width="3.7" height="3.7"/><rect x="423.4" y="84" width="3.7" height="3.7"/><rect x="482" y="46.5" width="3.7" height="3.7"/><rect x="440" y="78.7" width="3.7" height="3.7"/><rect x="433.9" y="80.4" width="3.7" height="3.7"/><rect x="371.5" y="122" width="3.7" height="3.7"/><rect x="374.9" y="122.3" width="3.7" height="3.7"/><rect x="504.3" y="24.8" width="3.7" height="3.7"/><rect x="465.8" y="59.9" width="3.7" height="3.7"/><rect x="453.9" y="58.6" width="3.7" height="3.7"/><rect x="383.5" y="107.5" width="3.7" height="3.7"/><rect x="371.2" y="124.5" width="3.7" height="3.7"/><rect x="458.5" y="60.8" width="3.7" height="3.7"/><rect x="396.2" y="101.1" width="3.7" height="3.7"/><rect x="349.8" y="137.3" width="3.7" height="3.7"/><rect x="390.1" y="112.2" width="3.7" height="3.7"/><rect x="350.5" y="135.5" width="3.7" height="3.7"/><rect x="448.3" y="52" width="3.7" height="3.7"/><rect x="497.1" y="60.5" width="3.7" height="3.7"/><rect x="491.9" y="65.2" width="3.7" height="3.7"/><rect x="485.4" y="60.5" width="3.7" height="3.7"/><rect x="383.9" y="133.4" width="3.7" height="3.7"/><rect x="380" y="131.1" width="3.7" height="3.7"/><rect x="417.7" y="79.8" width="3.7" height="3.7"/><rect x="422.3" y="76.9" width="3.7" height="3.7"/><rect x="425.6" y="74.6" width="3.7" height="3.7"/><rect x="445.1" y="60.5" width="3.7" height="3.7"/></g>
<g fill="#8e8e8e" stroke="#1c1c1c" stroke-width="0.85"><circle cx="401" cy="104.5" r="2"/><circle cx="449.8" cy="77.4" r="2"/><circle cx="476.6" cy="55.3" r="2"/><circle cx="372.9" cy="123.4" r="2"/><circle cx="435.4" cy="82.4" r="2"/><circle cx="355" cy="136.9" r="2"/><circle cx="486.2" cy="50.1" r="2"/><circle cx="431.1" cy="81" r="2"/><circle cx="460.8" cy="62.4" r="2"/><circle cx="447.7" cy="73" r="2"/><circle cx="421.6" cy="90.1" r="2"/><circle cx="410.9" cy="97.7" r="2"/><circle cx="374.3" cy="121.1" r="2"/><circle cx="386.8" cy="114.7" r="2"/><circle cx="356.2" cy="139.1" r="2"/><circle cx="383.9" cy="117.7" r="2"/><circle cx="445.3" cy="71.7" r="2"/><circle cx="428.9" cy="84.7" r="2"/><circle cx="431.5" cy="85" r="2"/><circle cx="425.3" cy="87.1" r="2"/><circle cx="383.2" cy="117.4" r="2"/><circle cx="429.8" cy="84" r="2"/><circle cx="495.3" cy="43.8" r="2"/><circle cx="452.8" cy="71.4" r="2"/><circle cx="444.2" cy="72.9" r="2"/><circle cx="447.7" cy="73.4" r="2"/><circle cx="429.7" cy="84.6" r="2"/><circle cx="459" cy="60.5" r="2"/><circle cx="400.9" cy="106.6" r="2"/><circle cx="490.2" cy="42.8" r="2"/><circle cx="395" cy="110.6" r="2"/><circle cx="507.6" cy="32.9" r="2"/><circle cx="450.2" cy="71.6" r="2"/><circle cx="487.4" cy="48.8" r="2"/><circle cx="442.4" cy="81.3" r="2"/><circle cx="424.3" cy="84.3" r="2"/><circle cx="397.4" cy="108" r="2"/><circle cx="408.9" cy="97.5" r="2"/><circle cx="386.8" cy="114.9" r="2"/><circle cx="439.9" cy="78" r="2"/><circle cx="478.2" cy="50.1" r="2"/><circle cx="435.5" cy="79.8" r="2"/><circle cx="373.5" cy="126.7" r="2"/><circle cx="388.2" cy="111.8" r="2"/><circle cx="450.8" cy="72.9" r="2"/><circle cx="429.5" cy="85.1" r="2"/><circle cx="486.5" cy="35.6" r="2"/><circle cx="405.3" cy="102.2" r="2"/><circle cx="490.8" cy="38.8" r="2"/><circle cx="354" cy="139.1" r="2"/><circle cx="470.4" cy="55.7" r="2"/><circle cx="366.8" cy="128.9" r="2"/><circle cx="499.8" cy="35.7" r="2"/><circle cx="461.6" cy="65.2" r="2"/><circle cx="365.5" cy="131.6" r="2"/><circle cx="427.1" cy="86.4" r="2"/><circle cx="400.4" cy="108.9" r="2"/><circle cx="480.4" cy="52.2" r="2"/><circle cx="384.8" cy="115.3" r="2"/><circle cx="455.7" cy="68.7" r="2"/><circle cx="490.8" cy="45.2" r="2"/><circle cx="454.8" cy="70.5" r="2"/><circle cx="354.5" cy="137.3" r="2"/><circle cx="465.1" cy="61.6" r="2"/><circle cx="477.5" cy="51.8" r="2"/><circle cx="363.3" cy="131.8" r="2"/><circle cx="481.9" cy="44.7" r="2"/><circle cx="410.9" cy="99.3" r="2"/><circle cx="390.3" cy="116.6" r="2"/><circle cx="494.8" cy="39.9" r="2"/><circle cx="374.6" cy="123.6" r="2"/><circle cx="393.6" cy="110.1" r="2"/><circle cx="485.1" cy="50.8" r="2"/><circle cx="419.7" cy="89.9" r="2"/><circle cx="436.3" cy="80.8" r="2"/><circle cx="474.8" cy="54.2" r="2"/><circle cx="495.9" cy="43.3" r="2"/><circle cx="410.8" cy="97.5" r="2"/><circle cx="493.6" cy="41.5" r="2"/><circle cx="401.1" cy="102.5" r="2"/><circle cx="477.9" cy="52.9" r="2"/><circle cx="416.5" cy="97.1" r="2"/><circle cx="444.1" cy="75.1" r="2"/><circle cx="386.8" cy="118.3" r="2"/><circle cx="449.4" cy="70.8" r="2"/><circle cx="399.7" cy="108.3" r="2"/><circle cx="465.8" cy="60.6" r="2"/><circle cx="419.5" cy="92.9" r="2"/><circle cx="487.5" cy="45.6" r="2"/><circle cx="428.3" cy="87.4" r="2"/><circle cx="477.6" cy="54" r="2"/><circle cx="411.3" cy="98.3" r="2"/><circle cx="447.7" cy="74.2" r="2"/><circle cx="383.7" cy="117" r="2"/><circle cx="434.5" cy="82.6" r="2"/><circle cx="446.7" cy="78.6" r="2"/><circle cx="371.6" cy="125.8" r="2"/><circle cx="427.7" cy="83.8" r="2"/><circle cx="487.8" cy="44.3" r="2"/><circle cx="373.3" cy="123.4" r="2"/><circle cx="418.9" cy="91.9" r="2"/><circle cx="474.4" cy="55.4" r="2"/><circle cx="409" cy="104.5" r="2"/><circle cx="346" cy="142.1" r="2"/><circle cx="414.7" cy="93.6" r="2"/><circle cx="488.8" cy="43" r="2"/><circle cx="446.8" cy="72.5" r="2"/><circle cx="464.7" cy="60.1" r="2"/><circle cx="399.7" cy="106.2" r="2"/><circle cx="483.8" cy="47.2" r="2"/><circle cx="473" cy="55.3" r="2"/><circle cx="355.7" cy="136.1" r="2"/><circle cx="446.3" cy="75.9" r="2"/><circle cx="485.1" cy="48.4" r="2"/><circle cx="444.6" cy="73.7" r="2"/><circle cx="495.7" cy="40.4" r="2"/><circle cx="434.7" cy="87.1" r="2"/><circle cx="426.1" cy="87.6" r="2"/><circle cx="388.2" cy="118.6" r="2"/><circle cx="465.5" cy="56.1" r="2"/><circle cx="409.8" cy="97.7" r="2"/><circle cx="444.5" cy="72.7" r="2"/><circle cx="465.6" cy="62" r="2"/><circle cx="456.9" cy="71" r="2"/><circle cx="357.2" cy="136.1" r="2"/><circle cx="350" cy="140.6" r="2"/><circle cx="444.6" cy="76.7" r="2"/><circle cx="364.8" cy="130.1" r="2"/><circle cx="361.9" cy="131.2" r="2"/><circle cx="420.3" cy="90.6" r="2"/><circle cx="369.5" cy="129" r="2"/><circle cx="489.2" cy="49.2" r="2"/><circle cx="491.3" cy="42.6" r="2"/><circle cx="429.6" cy="86.8" r="2"/><circle cx="448" cy="71.7" r="2"/><circle cx="451.3" cy="66.7" r="2"/><circle cx="386.6" cy="112.1" r="2"/><circle cx="418.8" cy="92.3" r="2"/><circle cx="351.7" cy="137.5" r="2"/><circle cx="476.5" cy="49" r="2"/><circle cx="498" cy="37.8" r="2"/><circle cx="357.7" cy="134.8" r="2"/><circle cx="440.4" cy="74.9" r="2"/><circle cx="455" cy="67.9" r="2"/><circle cx="409.7" cy="100.2" r="2"/><circle cx="401.3" cy="106.5" r="2"/><circle cx="456.7" cy="66.6" r="2"/><circle cx="382" cy="119.6" r="2"/><circle cx="411.8" cy="96.1" r="2"/><circle cx="429.1" cy="86.4" r="2"/><circle cx="408.1" cy="97.4" r="2"/><circle cx="480.7" cy="47.1" r="2"/><circle cx="481.5" cy="52.3" r="2"/><circle cx="462" cy="60.4" r="2"/><circle cx="467.6" cy="60" r="2"/><circle cx="420.8" cy="88.6" r="2"/><circle cx="384.3" cy="115.8" r="2"/><circle cx="471" cy="56.8" r="2"/><circle cx="359.7" cy="132.7" r="2"/><circle cx="435.7" cy="82.3" r="2"/><circle cx="441.9" cy="76.1" r="2"/><circle cx="358.6" cy="134" r="2"/><circle cx="373.7" cy="124.5" r="2"/><circle cx="448.1" cy="71.2" r="2"/><circle cx="477.6" cy="54.4" r="2"/><circle cx="403.4" cy="102.5" r="2"/><circle cx="425.7" cy="90.6" r="2"/><circle cx="453.9" cy="67.1" r="2"/><circle cx="433.7" cy="80.9" r="2"/><circle cx="414.8" cy="94.2" r="2"/><circle cx="442.7" cy="77.5" r="2"/><circle cx="454.1" cy="61.6" r="2"/><circle cx="468.6" cy="58.8" r="2"/><circle cx="430.5" cy="84.4" r="2"/><circle cx="446.3" cy="75.4" r="2"/><circle cx="372.3" cy="120.8" r="2"/><circle cx="366.9" cy="129.7" r="2"/><circle cx="470" cy="55" r="2"/><circle cx="376.8" cy="123.8" r="2"/><circle cx="410.7" cy="97.8" r="2"/><circle cx="482" cy="49.9" r="2"/><circle cx="364.5" cy="128.8" r="2"/><circle cx="449.2" cy="72.4" r="2"/><circle cx="380.7" cy="120.9" r="2"/><circle cx="440.8" cy="76.6" r="2"/><circle cx="471.1" cy="59.3" r="2"/><circle cx="471.7" cy="58.3" r="2"/><circle cx="464.9" cy="59.1" r="2"/><circle cx="423.6" cy="93.4" r="2"/><circle cx="427.7" cy="85.1" r="2"/><circle cx="368.5" cy="128.4" r="2"/><circle cx="359.8" cy="135.4" r="2"/><circle cx="460.2" cy="63.6" r="2"/><circle cx="370.8" cy="125" r="2"/><circle cx="455.7" cy="68.5" r="2"/><circle cx="412.4" cy="97.6" r="2"/><circle cx="438.7" cy="77.3" r="2"/><circle cx="461.6" cy="61.4" r="2"/><circle cx="388.3" cy="114.1" r="2"/><circle cx="472.5" cy="57.3" r="2"/><circle cx="461.4" cy="65.4" r="2"/><circle cx="433.5" cy="84.8" r="2"/><circle cx="432.5" cy="81.8" r="2"/><circle cx="402.3" cy="103.1" r="2"/><circle cx="495.4" cy="38.9" r="2"/><circle cx="379.5" cy="117.5" r="2"/><circle cx="430" cy="86.1" r="2"/><circle cx="487.7" cy="45.9" r="2"/><circle cx="488.5" cy="45.3" r="2"/><circle cx="433.2" cy="78.8" r="2"/><circle cx="403.6" cy="107.4" r="2"/><circle cx="460.1" cy="63.5" r="2"/><circle cx="430.1" cy="84" r="2"/><circle cx="472.1" cy="55.6" r="2"/><circle cx="473.8" cy="49.3" r="2"/><circle cx="452.9" cy="66.5" r="2"/><circle cx="375.9" cy="121.1" r="2"/><circle cx="441" cy="79.3" r="2"/><circle cx="463.3" cy="60.7" r="2"/><circle cx="408.5" cy="101.2" r="2"/><circle cx="367.9" cy="128" r="2"/><circle cx="397.1" cy="107.4" r="2"/><circle cx="465.5" cy="61.4" r="2"/><circle cx="374.2" cy="122.6" r="2"/><circle cx="468.7" cy="54.5" r="2"/><circle cx="457.3" cy="63.8" r="2"/><circle cx="428.9" cy="85.3" r="2"/><circle cx="444.9" cy="78.8" r="2"/><circle cx="459.9" cy="61.8" r="2"/><circle cx="393.5" cy="108.3" r="2"/><circle cx="373.8" cy="124.3" r="2"/><circle cx="451.6" cy="71" r="2"/><circle cx="437.2" cy="78.6" r="2"/><circle cx="407.1" cy="103.7" r="2"/><circle cx="360.6" cy="131.7" r="2"/><circle cx="343.6" cy="146.8" r="2"/><circle cx="435.4" cy="83.2" r="2"/><circle cx="494.5" cy="40.1" r="2"/><circle cx="366.7" cy="131.6" r="2"/><circle cx="449.7" cy="71.3" r="2"/><circle cx="389.3" cy="112.2" r="2"/><circle cx="364.9" cy="132.5" r="2"/><circle cx="410.6" cy="96.6" r="2"/><circle cx="461.2" cy="64.5" r="2"/><circle cx="465.3" cy="59.2" r="2"/><circle cx="493.2" cy="40.5" r="2"/><circle cx="364.7" cy="131.1" r="2"/><circle cx="354" cy="139.3" r="2"/><circle cx="443.5" cy="79.2" r="2"/><circle cx="426.4" cy="88.9" r="2"/><circle cx="380.8" cy="120.5" r="2"/><circle cx="367.4" cy="125.4" r="2"/><circle cx="396.9" cy="106" r="2"/><circle cx="387" cy="117.4" r="2"/><circle cx="397.6" cy="105.9" r="2"/><circle cx="397.1" cy="107.4" r="2"/><circle cx="460.9" cy="64.3" r="2"/><circle cx="414.6" cy="94.7" r="2"/><circle cx="476.1" cy="51.1" r="2"/><circle cx="421.1" cy="92.3" r="2"/><circle cx="387.4" cy="115" r="2"/><circle cx="488.2" cy="44.1" r="2"/><circle cx="444.8" cy="76.8" r="2"/><circle cx="475.3" cy="53.1" r="2"/><circle cx="378.3" cy="121" r="2"/><circle cx="400.8" cy="106.5" r="2"/><circle cx="381.1" cy="120.4" r="2"/><circle cx="356.9" cy="134.8" r="2"/><circle cx="346.4" cy="141.5" r="2"/><circle cx="390.5" cy="111.8" r="2"/><circle cx="425.6" cy="89.7" r="2"/><circle cx="404.5" cy="101.2" r="2"/><circle cx="501.6" cy="34.8" r="2"/><circle cx="344.1" cy="143.6" r="2"/><circle cx="388.5" cy="111.6" r="2"/><circle cx="442.8" cy="78" r="2"/><circle cx="365.6" cy="129.9" r="2"/><circle cx="481.8" cy="50.4" r="2"/><circle cx="348.9" cy="142.8" r="2"/><circle cx="422.5" cy="86.1" r="2"/><circle cx="458.4" cy="63.1" r="2"/><circle cx="482.8" cy="52.3" r="2"/><circle cx="356.6" cy="135.1" r="2"/><circle cx="421.9" cy="91.7" r="2"/><circle cx="417.3" cy="91.5" r="2"/><circle cx="375.7" cy="122.5" r="2"/><circle cx="430.9" cy="84.7" r="2"/><circle cx="430.8" cy="84.1" r="2"/><circle cx="495.7" cy="38.4" r="2"/><circle cx="388.8" cy="113.5" r="2"/><circle cx="368.4" cy="128.1" r="2"/><circle cx="376.7" cy="122.4" r="2"/><circle cx="391.8" cy="110.5" r="2"/><circle cx="399.9" cy="108" r="2"/><circle cx="493.5" cy="40.8" r="2"/><circle cx="418.2" cy="93.4" r="2"/><circle cx="367.6" cy="129.1" r="2"/><circle cx="376.3" cy="120.9" r="2"/><circle cx="375.7" cy="125" r="2"/><circle cx="431.7" cy="84.5" r="2"/><circle cx="389" cy="115" r="2"/><circle cx="385.4" cy="114.9" r="2"/><circle cx="424.5" cy="89.7" r="2"/><circle cx="349.4" cy="140.8" r="2"/><circle cx="498.5" cy="36.5" r="2"/><circle cx="348.4" cy="144.3" r="2"/><circle cx="441.5" cy="76" r="2"/><circle cx="402" cy="106.8" r="2"/><circle cx="376.2" cy="122.8" r="2"/><circle cx="451.1" cy="70.5" r="2"/><circle cx="435" cy="79.8" r="2"/><circle cx="396.4" cy="106.8" r="2"/><circle cx="439.1" cy="74.9" r="2"/><circle cx="474.8" cy="53.1" r="2"/><circle cx="423.1" cy="90.7" r="2"/><circle cx="402.9" cy="104.7" r="2"/><circle cx="439.1" cy="77.2" r="2"/><circle cx="421.5" cy="87.6" r="2"/><circle cx="356.9" cy="135.1" r="2"/><circle cx="484.9" cy="48.2" r="2"/><circle cx="361" cy="132.4" r="2"/><circle cx="459.3" cy="64" r="2"/><circle cx="410.1" cy="98.7" r="2"/><circle cx="465.8" cy="62.9" r="2"/><circle cx="424.4" cy="94" r="2"/><circle cx="471.7" cy="57.2" r="2"/><circle cx="415.9" cy="92.6" r="2"/><circle cx="380.5" cy="118.9" r="2"/><circle cx="463.7" cy="66.4" r="2"/><circle cx="472.8" cy="55.2" r="2"/><circle cx="421.1" cy="94.8" r="2"/><circle cx="489" cy="39.3" r="2"/><circle cx="453.8" cy="68" r="2"/><circle cx="489.6" cy="46.4" r="2"/><circle cx="491.3" cy="40.5" r="2"/><circle cx="491.2" cy="44.3" r="2"/><circle cx="429.6" cy="84" r="2"/><circle cx="483.5" cy="47.7" r="2"/><circle cx="448.2" cy="74.9" r="2"/><circle cx="387.2" cy="113.4" r="2"/><circle cx="387.2" cy="117.2" r="2"/><circle cx="491.7" cy="38.9" r="2"/><circle cx="349.6" cy="140.7" r="2"/><circle cx="429.8" cy="87.2" r="2"/><circle cx="371.3" cy="128.9" r="2"/><circle cx="415.3" cy="91.9" r="2"/><circle cx="447.4" cy="69.7" r="2"/><circle cx="354.6" cy="139.5" r="2"/><circle cx="381.6" cy="115.5" r="2"/><circle cx="481.3" cy="48.9" r="2"/><circle cx="347.7" cy="142.5" r="2"/><circle cx="471.6" cy="56.2" r="2"/><circle cx="448.8" cy="72.5" r="2"/><circle cx="416.2" cy="91.7" r="2"/><circle cx="498" cy="37.3" r="2"/><circle cx="374.4" cy="126.9" r="2"/><circle cx="442.6" cy="68.6" r="2"/><circle cx="394.8" cy="107.7" r="2"/><circle cx="500.6" cy="38.5" r="2"/><circle cx="354.1" cy="138.2" r="2"/><circle cx="391" cy="115" r="2"/><circle cx="431.6" cy="83.7" r="2"/><circle cx="475.6" cy="52.4" r="2"/><circle cx="391.6" cy="111.2" r="2"/><circle cx="350.9" cy="141.6" r="2"/><circle cx="355.2" cy="138.2" r="2"/><circle cx="389.9" cy="111.2" r="2"/><circle cx="440.8" cy="77.6" r="2"/><circle cx="453.4" cy="63.8" r="2"/><circle cx="451.7" cy="71.6" r="2"/><circle cx="480.4" cy="48.1" r="2"/><circle cx="449.7" cy="71.2" r="2"/><circle cx="447.9" cy="74.1" r="2"/><circle cx="435.7" cy="78.1" r="2"/><circle cx="447.2" cy="72.7" r="2"/><circle cx="457.4" cy="67.9" r="2"/><circle cx="496.5" cy="39.5" r="2"/><circle cx="443.5" cy="73.4" r="2"/><circle cx="361" cy="135" r="2"/><circle cx="374" cy="121.3" r="2"/><circle cx="488.6" cy="42.6" r="2"/><circle cx="405.6" cy="102.4" r="2"/><circle cx="431.4" cy="81.1" r="2"/><circle cx="374.9" cy="120" r="2"/><circle cx="422.3" cy="89" r="2"/><circle cx="493" cy="40.8" r="2"/><circle cx="447.1" cy="69.1" r="2"/><circle cx="429.5" cy="82.2" r="2"/><circle cx="392.2" cy="113" r="2"/><circle cx="464.3" cy="61.6" r="2"/><circle cx="403" cy="104.1" r="2"/><circle cx="394.7" cy="110.2" r="2"/><circle cx="428.3" cy="91.4" r="2"/><circle cx="448.5" cy="70.1" r="2"/><circle cx="361.6" cy="132.2" r="2"/><circle cx="469.8" cy="57.1" r="2"/><circle cx="408.5" cy="97.1" r="2"/><circle cx="441.2" cy="78.4" r="2"/><circle cx="430.4" cy="84.8" r="2"/><circle cx="466.2" cy="59.2" r="2"/><circle cx="437.2" cy="61.4" r="2"/><circle cx="440.4" cy="61.8" r="2"/><circle cx="516.5" cy="36.4" r="2"/><circle cx="502.2" cy="43" r="2"/></g>
<g fill="#008b8b" stroke="#0a1c1c" stroke-width="0.75"><path d="M442.7 75.5l2.05 3.8h-4.1z"/><path d="M487.6 40.8l2.05 3.8h-4.1z"/><path d="M390.6 115.3l2.05 3.8h-4.1z"/><path d="M404.3 100.3l2.05 3.8h-4.1z"/><path d="M490.7 43.7l2.05 3.8h-4.1z"/><path d="M402.4 103.8l2.05 3.8h-4.1z"/><path d="M497 36.5l2.05 3.8h-4.1z"/><path d="M446.3 76.2l2.05 3.8h-4.1z"/><path d="M422.2 88.9l2.05 3.8h-4.1z"/><path d="M482.4 48.8l2.05 3.8h-4.1z"/><path d="M344.2 145.4l2.05 3.8h-4.1z"/><path d="M417.3 91.4l2.05 3.8h-4.1z"/><path d="M352.9 132l2.05 3.8h-4.1z"/><path d="M443.9 73.6l2.05 3.8h-4.1z"/><path d="M476 50.8l2.05 3.8h-4.1z"/><path d="M485.4 45.5l2.05 3.8h-4.1z"/><path d="M364.1 130.8l2.05 3.8h-4.1z"/><path d="M421.8 89.1l2.05 3.8h-4.1z"/><path d="M497.9 33.5l2.05 3.8h-4.1z"/><path d="M453.3 67.1l2.05 3.8h-4.1z"/><path d="M386.7 112.4l2.05 3.8h-4.1z"/><path d="M485.7 45.6l2.05 3.8h-4.1z"/><path d="M438 73.5l2.05 3.8h-4.1z"/><path d="M483.8 50l2.05 3.8h-4.1z"/><path d="M349.2 139.1l2.05 3.8h-4.1z"/><path d="M408 98.2l2.05 3.8h-4.1z"/><path d="M358.4 133.2l2.05 3.8h-4.1z"/><path d="M406.3 102.3l2.05 3.8h-4.1z"/><path d="M459.2 65.9l2.05 3.8h-4.1z"/><path d="M433.8 81.7l2.05 3.8h-4.1z"/><path d="M435.7 79.7l2.05 3.8h-4.1z"/><path d="M501.9 36.5l2.05 3.8h-4.1z"/><path d="M422.2 92.7l2.05 3.8h-4.1z"/><path d="M412.2 94.6l2.05 3.8h-4.1z"/><path d="M486 42.8l2.05 3.8h-4.1z"/><path d="M480.9 49.7l2.05 3.8h-4.1z"/><path d="M410.8 98.5l2.05 3.8h-4.1z"/><path d="M421.3 91.3l2.05 3.8h-4.1z"/><path d="M387.8 109l2.05 3.8h-4.1z"/><path d="M431.4 82l2.05 3.8h-4.1z"/><path d="M361.9 131.2l2.05 3.8h-4.1z"/><path d="M494.8 35.3l2.05 3.8h-4.1z"/><path d="M342.6 141.1l2.05 3.8h-4.1z"/><path d="M499.1 33.4l2.05 3.8h-4.1z"/><path d="M402.7 105.4l2.05 3.8h-4.1z"/><path d="M398.5 105.9l2.05 3.8h-4.1z"/><path d="M367.4 128l2.05 3.8h-4.1z"/><path d="M403.3 103l2.05 3.8h-4.1z"/><path d="M400.6 106.5l2.05 3.8h-4.1z"/><path d="M498 37.5l2.05 3.8h-4.1z"/><path d="M427 88l2.05 3.8h-4.1z"/><path d="M488.3 42.7l2.05 3.8h-4.1z"/><path d="M405.9 100.6l2.05 3.8h-4.1z"/><path d="M403.3 104.9l2.05 3.8h-4.1z"/><path d="M428.3 90.5l2.05 3.8h-4.1z"/><path d="M449.3 71.4l2.05 3.8h-4.1z"/><path d="M476.2 50.4l2.05 3.8h-4.1z"/><path d="M471.2 54.2l2.05 3.8h-4.1z"/><path d="M391 111.1l2.05 3.8h-4.1z"/><path d="M458.3 70.8l2.05 3.8h-4.1z"/><path d="M401 104.9l2.05 3.8h-4.1z"/><path d="M464.7 61.3l2.05 3.8h-4.1z"/><path d="M452.2 69.1l2.05 3.8h-4.1z"/><path d="M364.5 131.3l2.05 3.8h-4.1z"/><path d="M381 118.6l2.05 3.8h-4.1z"/><path d="M390.7 112.3l2.05 3.8h-4.1z"/><path d="M422.9 83.8l2.05 3.8h-4.1z"/><path d="M485.3 44l2.05 3.8h-4.1z"/><path d="M358.6 133.8l2.05 3.8h-4.1z"/><path d="M355.2 135.9l2.05 3.8h-4.1z"/><path d="M447.1 72.2l2.05 3.8h-4.1z"/><path d="M447.2 71.6l2.05 3.8h-4.1z"/><path d="M446.3 73.3l2.05 3.8h-4.1z"/><path d="M456.6 65.5l2.05 3.8h-4.1z"/><path d="M394.9 106.5l2.05 3.8h-4.1z"/><path d="M444.5 72.2l2.05 3.8h-4.1z"/><path d="M356.3 134.6l2.05 3.8h-4.1z"/><path d="M385.2 112.8l2.05 3.8h-4.1z"/><path d="M369.1 125.8l2.05 3.8h-4.1z"/><path d="M348.7 141.8l2.05 3.8h-4.1z"/><path d="M373.7 125.9l2.05 3.8h-4.1z"/><path d="M417.9 93.6l2.05 3.8h-4.1z"/><path d="M374 122.9l2.05 3.8h-4.1z"/><path d="M467.2 57.3l2.05 3.8h-4.1z"/><path d="M359 131.5l2.05 3.8h-4.1z"/><path d="M463.9 61.5l2.05 3.8h-4.1z"/><path d="M445.8 75.6l2.05 3.8h-4.1z"/><path d="M366.4 126.8l2.05 3.8h-4.1z"/><path d="M401.4 101.7l2.05 3.8h-4.1z"/><path d="M402 104.2l2.05 3.8h-4.1z"/><path d="M413.5 94.7l2.05 3.8h-4.1z"/><path d="M448.5 68.3l2.05 3.8h-4.1z"/><path d="M343.6 143.4l2.05 3.8h-4.1z"/><path d="M452.3 68.6l2.05 3.8h-4.1z"/><path d="M356 138.5l2.05 3.8h-4.1z"/><path d="M475.5 49.6l2.05 3.8h-4.1z"/><path d="M400.1 103.5l2.05 3.8h-4.1z"/><path d="M380.2 118.3l2.05 3.8h-4.1z"/><path d="M482 48.7l2.05 3.8h-4.1z"/><path d="M481.8 50.5l2.05 3.8h-4.1z"/><path d="M352.9 137.6l2.05 3.8h-4.1z"/><path d="M345.4 142.8l2.05 3.8h-4.1z"/><path d="M408.1 97.1l2.05 3.8h-4.1z"/><path d="M406.2 102.5l2.05 3.8h-4.1z"/><path d="M436.1 76.9l2.05 3.8h-4.1z"/><path d="M465.9 58.9l2.05 3.8h-4.1z"/><path d="M496.7 35.1l2.05 3.8h-4.1z"/><path d="M489.2 44.9l2.05 3.8h-4.1z"/><path d="M448.8 70.1l2.05 3.8h-4.1z"/><path d="M480.8 46.1l2.05 3.8h-4.1z"/><path d="M355.7 135.3l2.05 3.8h-4.1z"/><path d="M345.3 144.9l2.05 3.8h-4.1z"/><path d="M481.6 48.7l2.05 3.8h-4.1z"/><path d="M402.5 102l2.05 3.8h-4.1z"/><path d="M358.8 135.5l2.05 3.8h-4.1z"/><path d="M361.3 133.9l2.05 3.8h-4.1z"/><path d="M377.6 119.9l2.05 3.8h-4.1z"/><path d="M478.6 52.1l2.05 3.8h-4.1z"/><path d="M394.7 107.2l2.05 3.8h-4.1z"/><path d="M477.9 53.1l2.05 3.8h-4.1z"/><path d="M491.1 45.4l2.05 3.8h-4.1z"/><path d="M488.1 45.2l2.05 3.8h-4.1z"/><path d="M381.8 114.9l2.05 3.8h-4.1z"/><path d="M372.1 125.5l2.05 3.8h-4.1z"/><path d="M379.7 118.8l2.05 3.8h-4.1z"/><path d="M374 122.4l2.05 3.8h-4.1z"/><path d="M441.4 77.8l2.05 3.8h-4.1z"/><path d="M386.5 112.3l2.05 3.8h-4.1z"/><path d="M427.1 85.6l2.05 3.8h-4.1z"/><path d="M410.5 96.6l2.05 3.8h-4.1z"/><path d="M455.9 69.2l2.05 3.8h-4.1z"/><path d="M373.2 126.2l2.05 3.8h-4.1z"/><path d="M387.1 118.3l2.05 3.8h-4.1z"/><path d="M363.2 130.5l2.05 3.8h-4.1z"/><path d="M392.9 110.4l2.05 3.8h-4.1z"/><path d="M473.8 52l2.05 3.8h-4.1z"/><path d="M494.5 35.9l2.05 3.8h-4.1z"/><path d="M475.7 52.7l2.05 3.8h-4.1z"/><path d="M458 65l2.05 3.8h-4.1z"/><path d="M353.8 136.1l2.05 3.8h-4.1z"/><path d="M366.7 125.4l2.05 3.8h-4.1z"/><path d="M478.9 51.7l2.05 3.8h-4.1z"/><path d="M372.1 123.1l2.05 3.8h-4.1z"/><path d="M485.7 45.8l2.05 3.8h-4.1z"/><path d="M427.1 86.5l2.05 3.8h-4.1z"/><path d="M362.1 129.8l2.05 3.8h-4.1z"/><path d="M437.6 80.1l2.05 3.8h-4.1z"/><path d="M412 99.7l2.05 3.8h-4.1z"/><path d="M352.5 136.7l2.05 3.8h-4.1z"/><path d="M471.4 55.2l2.05 3.8h-4.1z"/><path d="M484.2 46.8l2.05 3.8h-4.1z"/><path d="M434 81.4l2.05 3.8h-4.1z"/><path d="M372.2 123.2l2.05 3.8h-4.1z"/><path d="M447.5 72.4l2.05 3.8h-4.1z"/><path d="M451.7 67.3l2.05 3.8h-4.1z"/><path d="M475.1 51.7l2.05 3.8h-4.1z"/><path d="M395.8 103.3l2.05 3.8h-4.1z"/><path d="M359 131.2l2.05 3.8h-4.1z"/><path d="M498.9 33l2.05 3.8h-4.1z"/><path d="M384.4 115.9l2.05 3.8h-4.1z"/><path d="M419.4 91l2.05 3.8h-4.1z"/><path d="M347.6 142l2.05 3.8h-4.1z"/><path d="M479.7 43.5l2.05 3.8h-4.1z"/><path d="M440.7 76.9l2.05 3.8h-4.1z"/><path d="M434.1 80l2.05 3.8h-4.1z"/><path d="M344.1 141.5l2.05 3.8h-4.1z"/><path d="M360.6 134.2l2.05 3.8h-4.1z"/><path d="M402.8 105.3l2.05 3.8h-4.1z"/><path d="M403 103.3l2.05 3.8h-4.1z"/><path d="M408.7 100.4l2.05 3.8h-4.1z"/><path d="M391.5 114.4l2.05 3.8h-4.1z"/><path d="M465.5 60.3l2.05 3.8h-4.1z"/><path d="M414.9 92l2.05 3.8h-4.1z"/><path d="M485.6 43.7l2.05 3.8h-4.1z"/><path d="M395.9 107.5l2.05 3.8h-4.1z"/><path d="M364 129.6l2.05 3.8h-4.1z"/><path d="M397.7 109.2l2.05 3.8h-4.1z"/><path d="M479.9 47.8l2.05 3.8h-4.1z"/><path d="M398.3 105.1l2.05 3.8h-4.1z"/><path d="M471.7 57.1l2.05 3.8h-4.1z"/><path d="M451.4 68.6l2.05 3.8h-4.1z"/><path d="M382.3 117.3l2.05 3.8h-4.1z"/><path d="M371.6 125.9l2.05 3.8h-4.1z"/><path d="M359.1 134.6l2.05 3.8h-4.1z"/><path d="M412.7 97.1l2.05 3.8h-4.1z"/><path d="M451.7 70.7l2.05 3.8h-4.1z"/><path d="M388 112.3l2.05 3.8h-4.1z"/><path d="M493 38.8l2.05 3.8h-4.1z"/><path d="M466.2 58.1l2.05 3.8h-4.1z"/><path d="M368.2 127l2.05 3.8h-4.1z"/><path d="M500 36.2l2.05 3.8h-4.1z"/><path d="M487.7 39.5l2.05 3.8h-4.1z"/><path d="M405.1 104.5l2.05 3.8h-4.1z"/><path d="M386.8 111.9l2.05 3.8h-4.1z"/><path d="M347.7 140.5l2.05 3.8h-4.1z"/><path d="M402.2 103.1l2.05 3.8h-4.1z"/><path d="M353.9 137.5l2.05 3.8h-4.1z"/><path d="M430.6 83.9l2.05 3.8h-4.1z"/><path d="M346.4 143.7l2.05 3.8h-4.1z"/><path d="M439.2 80.1l2.05 3.8h-4.1z"/><path d="M425 87.5l2.05 3.8h-4.1z"/><path d="M484.4 52l2.05 3.8h-4.1z"/><path d="M485 43.9l2.05 3.8h-4.1z"/><path d="M366.6 126.1l2.05 3.8h-4.1z"/><path d="M442 82.1l2.05 3.8h-4.1z"/><path d="M469.5 59.6l2.05 3.8h-4.1z"/><path d="M464.1 59.3l2.05 3.8h-4.1z"/><path d="M431.4 82.5l2.05 3.8h-4.1z"/><path d="M422.7 88.6l2.05 3.8h-4.1z"/><path d="M432 81.6l2.05 3.8h-4.1z"/><path d="M406.9 97.7l2.05 3.8h-4.1z"/><path d="M431.1 81.5l2.05 3.8h-4.1z"/><path d="M483 43.3l2.05 3.8h-4.1z"/><path d="M396.6 107l2.05 3.8h-4.1z"/><path d="M411.3 95.3l2.05 3.8h-4.1z"/><path d="M410.9 100l2.05 3.8h-4.1z"/><path d="M479 50.1l2.05 3.8h-4.1z"/><path d="M380.1 120.5l2.05 3.8h-4.1z"/><path d="M411.1 94.5l2.05 3.8h-4.1z"/><path d="M460.7 57.9l2.05 3.8h-4.1z"/><path d="M403.6 101.2l2.05 3.8h-4.1z"/><path d="M477.3 53.7l2.05 3.8h-4.1z"/><path d="M426.7 86.3l2.05 3.8h-4.1z"/><path d="M356.9 134.5l2.05 3.8h-4.1z"/><path d="M399.5 104.7l2.05 3.8h-4.1z"/><path d="M364.5 127.6l2.05 3.8h-4.1z"/><path d="M411.1 95.3l2.05 3.8h-4.1z"/><path d="M399.1 109.9l2.05 3.8h-4.1z"/><path d="M395.2 105.7l2.05 3.8h-4.1z"/><path d="M473.1 54.9l2.05 3.8h-4.1z"/><path d="M483.9 47.6l2.05 3.8h-4.1z"/><path d="M461.4 57.3l2.05 3.8h-4.1z"/><path d="M463.1 61.8l2.05 3.8h-4.1z"/><path d="M483.2 49.8l2.05 3.8h-4.1z"/><path d="M487.2 47l2.05 3.8h-4.1z"/><path d="M368.9 126.2l2.05 3.8h-4.1z"/><path d="M484 44.5l2.05 3.8h-4.1z"/><path d="M366.8 125.3l2.05 3.8h-4.1z"/><path d="M384.4 115.8l2.05 3.8h-4.1z"/><path d="M467 59.1l2.05 3.8h-4.1z"/><path d="M364 127.1l2.05 3.8h-4.1z"/><path d="M488.4 44.3l2.05 3.8h-4.1z"/><path d="M427.2 83.1l2.05 3.8h-4.1z"/><path d="M426.7 85.7l2.05 3.8h-4.1z"/><path d="M497.2 36.7l2.05 3.8h-4.1z"/><path d="M429.2 84.9l2.05 3.8h-4.1z"/><path d="M433.7 80.7l2.05 3.8h-4.1z"/><path d="M449.5 71.3l2.05 3.8h-4.1z"/><path d="M493.3 41.3l2.05 3.8h-4.1z"/><path d="M378.4 119.9l2.05 3.8h-4.1z"/><path d="M342.1 146.6l2.05 3.8h-4.1z"/><path d="M373.3 122.7l2.05 3.8h-4.1z"/><path d="M484.7 45.7l2.05 3.8h-4.1z"/><path d="M391.3 111.1l2.05 3.8h-4.1z"/><path d="M436.8 79.5l2.05 3.8h-4.1z"/><path d="M391 111.3l2.05 3.8h-4.1z"/><path d="M498.3 32.7l2.05 3.8h-4.1z"/><path d="M404 101.9l2.05 3.8h-4.1z"/><path d="M400 105.7l2.05 3.8h-4.1z"/><path d="M375.2 122.4l2.05 3.8h-4.1z"/><path d="M352.9 135.6l2.05 3.8h-4.1z"/><path d="M403.4 102.7l2.05 3.8h-4.1z"/><path d="M373.3 123.5l2.05 3.8h-4.1z"/><path d="M395.8 108.1l2.05 3.8h-4.1z"/><path d="M417.3 92.4l2.05 3.8h-4.1z"/><path d="M450.9 68.6l2.05 3.8h-4.1z"/><path d="M398.5 105l2.05 3.8h-4.1z"/><path d="M363.5 134.5l2.05 3.8h-4.1z"/><path d="M442.9 76.9l2.05 3.8h-4.1z"/><path d="M404.6 106.1l2.05 3.8h-4.1z"/><path d="M480.7 47l2.05 3.8h-4.1z"/><path d="M393.2 107.5l2.05 3.8h-4.1z"/><path d="M376.6 118.8l2.05 3.8h-4.1z"/><path d="M370.8 124.7l2.05 3.8h-4.1z"/><path d="M382 115.3l2.05 3.8h-4.1z"/><path d="M379.1 119.2l2.05 3.8h-4.1z"/><path d="M424.2 88.1l2.05 3.8h-4.1z"/><path d="M400.4 107.1l2.05 3.8h-4.1z"/><path d="M495.4 40.1l2.05 3.8h-4.1z"/><path d="M490.8 42.9l2.05 3.8h-4.1z"/><path d="M418.1 90.5l2.05 3.8h-4.1z"/><path d="M491.8 35l2.05 3.8h-4.1z"/><path d="M391.8 111.8l2.05 3.8h-4.1z"/><path d="M448.6 70.2l2.05 3.8h-4.1z"/><path d="M450.2 69l2.05 3.8h-4.1z"/><path d="M347.8 142.1l2.05 3.8h-4.1z"/><path d="M491.7 44.6l2.05 3.8h-4.1z"/><path d="M472.1 56.2l2.05 3.8h-4.1z"/><path d="M371.1 127.1l2.05 3.8h-4.1z"/><path d="M496.2 38.6l2.05 3.8h-4.1z"/><path d="M363.5 130.3l2.05 3.8h-4.1z"/><path d="M398.4 106.1l2.05 3.8h-4.1z"/><path d="M397.1 107.2l2.05 3.8h-4.1z"/><path d="M350.5 138.3l2.05 3.8h-4.1z"/><path d="M479.6 51.3l2.05 3.8h-4.1z"/><path d="M372.6 122.3l2.05 3.8h-4.1z"/><path d="M428.8 87.8l2.05 3.8h-4.1z"/><path d="M479.7 49.2l2.05 3.8h-4.1z"/><path d="M401.3 103.1l2.05 3.8h-4.1z"/><path d="M422.2 90.7l2.05 3.8h-4.1z"/><path d="M513.3 60l2.05 3.8h-4.1z"/><path d="M471.7 74.1l2.05 3.8h-4.1z"/><path d="M469 76.5l2.05 3.8h-4.1z"/><path d="M512 36l2.05 3.8h-4.1z"/><path d="M520.5 36.5l2.05 3.8h-4.1z"/></g>
<rect x="323.3" y="3.7" width="220.8" height="159.8" fill="none" stroke="#444" stroke-width="0.9"/>
<path d="M323.3 163.5h-2.6M323.3 163.5v2.6M323.3 128.2h-2.6M372.1 163.5v2.6M323.3 92.9h-2.6M420.9 163.5v2.6M323.3 57.6h-2.6M469.7 163.5v2.6M323.3 22.3h-2.6M518.5 163.5v2.6" stroke="#444" stroke-width="0.9" fill="none"/>
<g font-size="8.7" fill="#222"><text x="315.3" y="166.6" text-anchor="end">0</text><text x="322.8" y="179" text-anchor="middle">0</text><text x="315.3" y="131.3" text-anchor="end">750</text><text x="371.6" y="179" text-anchor="middle">750</text><text x="315.3" y="96" text-anchor="end">1500</text><text x="420.4" y="179" text-anchor="middle">1500</text><text x="315.3" y="60.7" text-anchor="end">2250</text><text x="469.2" y="179" text-anchor="middle">2250</text><text x="315.3" y="25.4" text-anchor="end">3000</text><text x="518" y="179" text-anchor="middle">3000</text></g>
<rect x="337.3" y="13.8" width="3.7" height="3.7" fill="#fff" stroke="#1c1c1c" stroke-width="0.85"/>
<circle cx="339.2" cy="27.2" r="2" fill="#8e8e8e" stroke="#1c1c1c" stroke-width="0.85"/>
<path d="M339.2 36.2l2.05 3.8h-4.1z" fill="#008b8b" stroke="#0a1c1c" stroke-width="0.75"/>
<text x="354.1" y="18.8" font-size="9.5" fill="#222" textLength="55" lengthAdjust="spacingAndGlyphs">Training cases</text>
<text x="354.1" y="30.3" font-size="9.5" fill="#222" textLength="62.5" lengthAdjust="spacingAndGlyphs">Validation cases</text>
<text x="354.1" y="41.6" font-size="9.5" fill="#222" textLength="58.5" lengthAdjust="spacingAndGlyphs">Querying cases</text>
<text transform="translate(501 34.9) rotate(-35.9)" font-size="5.8" fill="#222" textLength="38" lengthAdjust="spacingAndGlyphs" x="0" y="-1.3">Line with slope 1</text></g>
<g><line x1="48.3" y1="376.9" x2="270" y2="219.4" stroke="#111" stroke-width="0.9" stroke-dasharray="6 1.8 0.9 1.8 0.9 1.8"/>
<g fill="#fff" stroke="#1c1c1c" stroke-width="0.85"><rect x="110.4" y="329.2" width="3.7" height="3.7"/><rect x="190.5" y="274.4" width="3.7" height="3.7"/><rect x="202.4" y="268.6" width="3.7" height="3.7"/><rect x="209.5" y="259.8" width="3.7" height="3.7"/><rect x="211.4" y="270.6" width="3.7" height="3.7"/><rect x="132.6" y="319.6" width="3.7" height="3.7"/><rect x="66.8" y="347" width="3.7" height="3.7"/><rect x="107.4" y="326.3" width="3.7" height="3.7"/><rect x="156.4" y="290.7" width="3.7" height="3.7"/><rect x="179.7" y="292.4" width="3.7" height="3.7"/><rect x="220.2" y="267.8" width="3.7" height="3.7"/><rect x="122.1" y="331.1" width="3.7" height="3.7"/><rect x="78.1" y="356.8" width="3.7" height="3.7"/><rect x="196.9" y="275.7" width="3.7" height="3.7"/><rect x="143.7" y="306.8" width="3.7" height="3.7"/><rect x="101.4" y="329.6" width="3.7" height="3.7"/><rect x="144.3" y="290.6" width="3.7" height="3.7"/><rect x="141.5" y="305.1" width="3.7" height="3.7"/><rect x="194.4" y="259.3" width="3.7" height="3.7"/><rect x="100.9" y="337.3" width="3.7" height="3.7"/><rect x="145" y="295.8" width="3.7" height="3.7"/><rect x="135.1" y="319.3" width="3.7" height="3.7"/><rect x="80.3" y="345.6" width="3.7" height="3.7"/><rect x="86.3" y="345.5" width="3.7" height="3.7"/><rect x="102.6" y="333.6" width="3.7" height="3.7"/><rect x="133.5" y="305.8" width="3.7" height="3.7"/><rect x="152.7" y="313.3" width="3.7" height="3.7"/><rect x="182.9" y="276.4" width="3.7" height="3.7"/><rect x="209.1" y="279.2" width="3.7" height="3.7"/><rect x="78.9" y="346.3" width="3.7" height="3.7"/><rect x="219.2" y="263.2" width="3.7" height="3.7"/><rect x="188.5" y="279.8" width="3.7" height="3.7"/><rect x="117.2" y="324.6" width="3.7" height="3.7"/><rect x="180.5" y="290.9" width="3.7" height="3.7"/><rect x="173.4" y="277.4" width="3.7" height="3.7"/><rect x="71.3" y="353.4" width="3.7" height="3.7"/><rect x="98.9" y="331" width="3.7" height="3.7"/><rect x="158.5" y="311.3" width="3.7" height="3.7"/><rect x="93.3" y="330.9" width="3.7" height="3.7"/><rect x="161.2" y="300" width="3.7" height="3.7"/><rect x="186.8" y="264.5" width="3.7" height="3.7"/><rect x="158.8" y="296.5" width="3.7" height="3.7"/><rect x="197.6" y="266.9" width="3.7" height="3.7"/><rect x="125" y="317.5" width="3.7" height="3.7"/><rect x="170.7" y="274.9" width="3.7" height="3.7"/><rect x="225.3" y="266.9" width="3.7" height="3.7"/><rect x="210" y="260.6" width="3.7" height="3.7"/><rect x="79.5" y="343.1" width="3.7" height="3.7"/><rect x="202.7" y="263.8" width="3.7" height="3.7"/><rect x="77.9" y="334.8" width="3.7" height="3.7"/><rect x="175.2" y="288.7" width="3.7" height="3.7"/><rect x="80.5" y="339.3" width="3.7" height="3.7"/><rect x="188.5" y="274.8" width="3.7" height="3.7"/><rect x="99.8" y="343.6" width="3.7" height="3.7"/><rect x="75.5" y="345.9" width="3.7" height="3.7"/><rect x="202.8" y="274.7" width="3.7" height="3.7"/><rect x="156.1" y="279.3" width="3.7" height="3.7"/><rect x="199.1" y="277.8" width="3.7" height="3.7"/><rect x="190.3" y="274.7" width="3.7" height="3.7"/><rect x="79.3" y="345.4" width="3.7" height="3.7"/><rect x="79.7" y="355.6" width="3.7" height="3.7"/><rect x="178.1" y="275.3" width="3.7" height="3.7"/><rect x="198.9" y="283.4" width="3.7" height="3.7"/><rect x="93" y="330.9" width="3.7" height="3.7"/><rect x="205.4" y="262.3" width="3.7" height="3.7"/><rect x="164.2" y="288.6" width="3.7" height="3.7"/><rect x="125.6" y="327.8" width="3.7" height="3.7"/><rect x="125.2" y="315" width="3.7" height="3.7"/><rect x="113.3" y="323" width="3.7" height="3.7"/><rect x="140" y="299.9" width="3.7" height="3.7"/><rect x="143.9" y="305.4" width="3.7" height="3.7"/><rect x="90.6" y="347.8" width="3.7" height="3.7"/><rect x="94.7" y="338.9" width="3.7" height="3.7"/><rect x="80" y="351.3" width="3.7" height="3.7"/><rect x="104.5" y="319.6" width="3.7" height="3.7"/><rect x="87.3" y="349" width="3.7" height="3.7"/><rect x="202" y="278.9" width="3.7" height="3.7"/><rect x="110.6" y="327" width="3.7" height="3.7"/><rect x="220.3" y="282.6" width="3.7" height="3.7"/><rect x="185.9" y="281.5" width="3.7" height="3.7"/><rect x="130.8" y="313.8" width="3.7" height="3.7"/><rect x="140.3" y="311.3" width="3.7" height="3.7"/><rect x="207.8" y="273.1" width="3.7" height="3.7"/><rect x="102" y="324.9" width="3.7" height="3.7"/><rect x="144.8" y="298.7" width="3.7" height="3.7"/><rect x="180.3" y="292.8" width="3.7" height="3.7"/><rect x="118" y="325.8" width="3.7" height="3.7"/><rect x="139.4" y="297.4" width="3.7" height="3.7"/><rect x="90.9" y="344.4" width="3.7" height="3.7"/><rect x="105.5" y="329.7" width="3.7" height="3.7"/><rect x="100.1" y="334.4" width="3.7" height="3.7"/><rect x="178.6" y="274.8" width="3.7" height="3.7"/><rect x="127.9" y="315.7" width="3.7" height="3.7"/><rect x="211.3" y="271" width="3.7" height="3.7"/><rect x="173.7" y="291.1" width="3.7" height="3.7"/><rect x="100.9" y="331.3" width="3.7" height="3.7"/><rect x="115.9" y="329.4" width="3.7" height="3.7"/><rect x="122.2" y="305.8" width="3.7" height="3.7"/><rect x="96.6" y="336.8" width="3.7" height="3.7"/><rect x="138.6" y="308.6" width="3.7" height="3.7"/><rect x="190.2" y="266.9" width="3.7" height="3.7"/><rect x="147.4" y="301.2" width="3.7" height="3.7"/><rect x="90.8" y="340.2" width="3.7" height="3.7"/><rect x="180.9" y="279.6" width="3.7" height="3.7"/><rect x="217.9" y="276.8" width="3.7" height="3.7"/><rect x="86.9" y="348.6" width="3.7" height="3.7"/><rect x="180.5" y="286.3" width="3.7" height="3.7"/><rect x="150.1" y="288.8" width="3.7" height="3.7"/><rect x="192.9" y="281" width="3.7" height="3.7"/><rect x="160.7" y="294.7" width="3.7" height="3.7"/><rect x="220.6" y="273.1" width="3.7" height="3.7"/><rect x="160.1" y="285.1" width="3.7" height="3.7"/><rect x="188.2" y="259.2" width="3.7" height="3.7"/><rect x="99.1" y="340.5" width="3.7" height="3.7"/><rect x="157.5" y="288.4" width="3.7" height="3.7"/><rect x="106.8" y="328.5" width="3.7" height="3.7"/><rect x="184.4" y="280.6" width="3.7" height="3.7"/><rect x="77" y="345.1" width="3.7" height="3.7"/><rect x="89.4" y="349" width="3.7" height="3.7"/><rect x="214.7" y="259" width="3.7" height="3.7"/><rect x="104.4" y="329.6" width="3.7" height="3.7"/><rect x="114" y="334.2" width="3.7" height="3.7"/><rect x="133.4" y="298" width="3.7" height="3.7"/><rect x="101.5" y="327.8" width="3.7" height="3.7"/><rect x="86.7" y="337.1" width="3.7" height="3.7"/><rect x="218.6" y="285.4" width="3.7" height="3.7"/><rect x="183.3" y="280.7" width="3.7" height="3.7"/><rect x="178.6" y="285.3" width="3.7" height="3.7"/><rect x="181.4" y="272.5" width="3.7" height="3.7"/><rect x="112.5" y="311.9" width="3.7" height="3.7"/><rect x="99.7" y="346.2" width="3.7" height="3.7"/><rect x="162.4" y="289.6" width="3.7" height="3.7"/><rect x="99.1" y="335.6" width="3.7" height="3.7"/><rect x="145.2" y="293.7" width="3.7" height="3.7"/><rect x="94.5" y="338.4" width="3.7" height="3.7"/><rect x="119.5" y="329.4" width="3.7" height="3.7"/><rect x="181.3" y="280.8" width="3.7" height="3.7"/><rect x="102.9" y="338.7" width="3.7" height="3.7"/><rect x="135.7" y="315" width="3.7" height="3.7"/><rect x="166.7" y="286.4" width="3.7" height="3.7"/><rect x="89.7" y="345.5" width="3.7" height="3.7"/><rect x="87.3" y="341.6" width="3.7" height="3.7"/><rect x="205.1" y="287.9" width="3.7" height="3.7"/><rect x="155.4" y="274.2" width="3.7" height="3.7"/><rect x="220.4" y="257.8" width="3.7" height="3.7"/><rect x="81.6" y="341.9" width="3.7" height="3.7"/><rect x="102.5" y="340.6" width="3.7" height="3.7"/><rect x="82.2" y="356.4" width="3.7" height="3.7"/><rect x="149" y="306.7" width="3.7" height="3.7"/><rect x="133.7" y="312.1" width="3.7" height="3.7"/><rect x="91.8" y="327" width="3.7" height="3.7"/><rect x="80.1" y="339.5" width="3.7" height="3.7"/><rect x="155.7" y="301.3" width="3.7" height="3.7"/><rect x="86.8" y="336.8" width="3.7" height="3.7"/><rect x="66.4" y="346.6" width="3.7" height="3.7"/><rect x="192.1" y="274.4" width="3.7" height="3.7"/><rect x="169" y="273.8" width="3.7" height="3.7"/><rect x="146.6" y="298.3" width="3.7" height="3.7"/><rect x="100.2" y="338.1" width="3.7" height="3.7"/><rect x="138.7" y="316.1" width="3.7" height="3.7"/><rect x="65.9" y="353" width="3.7" height="3.7"/><rect x="140.6" y="297.2" width="3.7" height="3.7"/><rect x="78.9" y="353.9" width="3.7" height="3.7"/><rect x="156.6" y="314.8" width="3.7" height="3.7"/><rect x="134.7" y="305.2" width="3.7" height="3.7"/><rect x="73" y="356.4" width="3.7" height="3.7"/><rect x="142" y="289.3" width="3.7" height="3.7"/><rect x="207.1" y="275.3" width="3.7" height="3.7"/><rect x="73.4" y="345.6" width="3.7" height="3.7"/><rect x="109.6" y="309.4" width="3.7" height="3.7"/><rect x="126.1" y="331.3" width="3.7" height="3.7"/><rect x="211.1" y="287" width="3.7" height="3.7"/><rect x="164.5" y="267.4" width="3.7" height="3.7"/><rect x="109.6" y="329.3" width="3.7" height="3.7"/><rect x="136.2" y="309.5" width="3.7" height="3.7"/><rect x="132.1" y="309.6" width="3.7" height="3.7"/><rect x="148.6" y="290.6" width="3.7" height="3.7"/><rect x="137.3" y="292.3" width="3.7" height="3.7"/><rect x="88.3" y="341.6" width="3.7" height="3.7"/><rect x="218.3" y="273.8" width="3.7" height="3.7"/><rect x="99.2" y="335" width="3.7" height="3.7"/><rect x="81.9" y="344" width="3.7" height="3.7"/><rect x="165.7" y="269.7" width="3.7" height="3.7"/><rect x="148.4" y="298.6" width="3.7" height="3.7"/><rect x="156.8" y="270.2" width="3.7" height="3.7"/><rect x="123.3" y="323.9" width="3.7" height="3.7"/><rect x="205.9" y="264.6" width="3.7" height="3.7"/><rect x="153" y="274.2" width="3.7" height="3.7"/><rect x="200.5" y="263" width="3.7" height="3.7"/><rect x="174.8" y="278.8" width="3.7" height="3.7"/><rect x="172.4" y="291.9" width="3.7" height="3.7"/><rect x="171.1" y="291" width="3.7" height="3.7"/><rect x="187.8" y="277.8" width="3.7" height="3.7"/><rect x="193.7" y="269.2" width="3.7" height="3.7"/><rect x="173" y="286.5" width="3.7" height="3.7"/><rect x="115.4" y="333.4" width="3.7" height="3.7"/><rect x="106.2" y="336.7" width="3.7" height="3.7"/><rect x="95.5" y="334.3" width="3.7" height="3.7"/><rect x="200.5" y="262.8" width="3.7" height="3.7"/><rect x="229.9" y="291.6" width="3.7" height="3.7"/><rect x="201.7" y="275.7" width="3.7" height="3.7"/><rect x="210.5" y="288.9" width="3.7" height="3.7"/><rect x="213.7" y="275.5" width="3.7" height="3.7"/><rect x="92.5" y="318.8" width="3.7" height="3.7"/><rect x="146.4" y="300.7" width="3.7" height="3.7"/><rect x="177" y="284.3" width="3.7" height="3.7"/><rect x="166.7" y="292.4" width="3.7" height="3.7"/><rect x="121.4" y="327.7" width="3.7" height="3.7"/><rect x="188.1" y="295.4" width="3.7" height="3.7"/><rect x="202.1" y="272" width="3.7" height="3.7"/><rect x="125.7" y="318" width="3.7" height="3.7"/><rect x="103.8" y="322" width="3.7" height="3.7"/><rect x="198.6" y="290.4" width="3.7" height="3.7"/><rect x="168.5" y="281.6" width="3.7" height="3.7"/><rect x="170.5" y="271.6" width="3.7" height="3.7"/><rect x="69.8" y="356.1" width="3.7" height="3.7"/><rect x="186.7" y="269.7" width="3.7" height="3.7"/><rect x="204.9" y="289" width="3.7" height="3.7"/><rect x="120.6" y="315.8" width="3.7" height="3.7"/><rect x="203.1" y="260.5" width="3.7" height="3.7"/><rect x="92.9" y="339.3" width="3.7" height="3.7"/><rect x="156.6" y="291.4" width="3.7" height="3.7"/><rect x="119.9" y="325" width="3.7" height="3.7"/><rect x="149.3" y="296.7" width="3.7" height="3.7"/><rect x="95.6" y="330.5" width="3.7" height="3.7"/><rect x="125.3" y="317.6" width="3.7" height="3.7"/><rect x="137.8" y="308.4" width="3.7" height="3.7"/><rect x="156.5" y="290.5" width="3.7" height="3.7"/><rect x="97" y="329.1" width="3.7" height="3.7"/><rect x="160.7" y="306" width="3.7" height="3.7"/><rect x="98" y="335.2" width="3.7" height="3.7"/><rect x="219.6" y="276" width="3.7" height="3.7"/><rect x="81.8" y="343" width="3.7" height="3.7"/><rect x="107.5" y="322.1" width="3.7" height="3.7"/><rect x="154.7" y="291.3" width="3.7" height="3.7"/><rect x="135.3" y="294.3" width="3.7" height="3.7"/><rect x="169.2" y="294.7" width="3.7" height="3.7"/><rect x="81.8" y="347.8" width="3.7" height="3.7"/><rect x="130" y="320.5" width="3.7" height="3.7"/><rect x="152.8" y="296.1" width="3.7" height="3.7"/><rect x="155.3" y="294" width="3.7" height="3.7"/><rect x="112.1" y="327.5" width="3.7" height="3.7"/><rect x="82.6" y="351.8" width="3.7" height="3.7"/><rect x="165" y="289.1" width="3.7" height="3.7"/><rect x="154" y="299.7" width="3.7" height="3.7"/><rect x="139.8" y="298.8" width="3.7" height="3.7"/><rect x="178.9" y="282.7" width="3.7" height="3.7"/><rect x="138.4" y="297.5" width="3.7" height="3.7"/><rect x="188.3" y="273.5" width="3.7" height="3.7"/><rect x="110.2" y="339.4" width="3.7" height="3.7"/><rect x="116.4" y="323.7" width="3.7" height="3.7"/><rect x="209.5" y="293.6" width="3.7" height="3.7"/><rect x="156.5" y="285.4" width="3.7" height="3.7"/><rect x="216.3" y="258.2" width="3.7" height="3.7"/><rect x="211.5" y="269.7" width="3.7" height="3.7"/><rect x="73.5" y="346" width="3.7" height="3.7"/><rect x="156.5" y="306.9" width="3.7" height="3.7"/><rect x="83.7" y="357" width="3.7" height="3.7"/><rect x="112.5" y="329.1" width="3.7" height="3.7"/><rect x="140.7" y="307.4" width="3.7" height="3.7"/><rect x="153.1" y="309.7" width="3.7" height="3.7"/><rect x="141.9" y="303.6" width="3.7" height="3.7"/><rect x="229.5" y="262.5" width="3.7" height="3.7"/><rect x="179.3" y="273.3" width="3.7" height="3.7"/><rect x="212.1" y="258" width="3.7" height="3.7"/><rect x="219.3" y="261.5" width="3.7" height="3.7"/><rect x="206.3" y="274.7" width="3.7" height="3.7"/><rect x="145.9" y="300.6" width="3.7" height="3.7"/><rect x="168.6" y="279.9" width="3.7" height="3.7"/><rect x="103.5" y="338.4" width="3.7" height="3.7"/><rect x="87.3" y="335.8" width="3.7" height="3.7"/><rect x="156.5" y="286" width="3.7" height="3.7"/><rect x="208" y="272.7" width="3.7" height="3.7"/><rect x="130.9" y="317.1" width="3.7" height="3.7"/><rect x="216" y="260.3" width="3.7" height="3.7"/><rect x="82.2" y="340.9" width="3.7" height="3.7"/><rect x="99.7" y="328.6" width="3.7" height="3.7"/><rect x="153.9" y="280" width="3.7" height="3.7"/><rect x="213.8" y="258.7" width="3.7" height="3.7"/><rect x="111.7" y="324.4" width="3.7" height="3.7"/><rect x="71.6" y="346.5" width="3.7" height="3.7"/><rect x="132.9" y="317.9" width="3.7" height="3.7"/><rect x="155.9" y="288" width="3.7" height="3.7"/><rect x="145.6" y="314.7" width="3.7" height="3.7"/><rect x="71.9" y="347.8" width="3.7" height="3.7"/><rect x="135" y="304.9" width="3.7" height="3.7"/><rect x="213.1" y="287.1" width="3.7" height="3.7"/><rect x="165.1" y="269.9" width="3.7" height="3.7"/><rect x="142" y="313.8" width="3.7" height="3.7"/><rect x="188.2" y="265" width="3.7" height="3.7"/><rect x="160.5" y="298.1" width="3.7" height="3.7"/><rect x="118.7" y="318.6" width="3.7" height="3.7"/><rect x="131.2" y="317" width="3.7" height="3.7"/><rect x="200.5" y="263.4" width="3.7" height="3.7"/><rect x="122.9" y="306.9" width="3.7" height="3.7"/><rect x="211.8" y="259.1" width="3.7" height="3.7"/><rect x="134.4" y="303.5" width="3.7" height="3.7"/><rect x="214.4" y="260.5" width="3.7" height="3.7"/><rect x="189.1" y="274" width="3.7" height="3.7"/><rect x="135.1" y="311" width="3.7" height="3.7"/><rect x="100.4" y="330" width="3.7" height="3.7"/><rect x="158.3" y="290.5" width="3.7" height="3.7"/><rect x="73.8" y="349.7" width="3.7" height="3.7"/><rect x="96.1" y="345.1" width="3.7" height="3.7"/><rect x="199.1" y="275.6" width="3.7" height="3.7"/><rect x="147.7" y="295" width="3.7" height="3.7"/><rect x="118.2" y="324.5" width="3.7" height="3.7"/><rect x="87.3" y="341.2" width="3.7" height="3.7"/><rect x="89.9" y="342.1" width="3.7" height="3.7"/><rect x="100.9" y="339.9" width="3.7" height="3.7"/><rect x="137.6" y="314.5" width="3.7" height="3.7"/><rect x="67.5" y="352.7" width="3.7" height="3.7"/><rect x="132.5" y="313.2" width="3.7" height="3.7"/><rect x="204.8" y="273.6" width="3.7" height="3.7"/><rect x="202.1" y="260.7" width="3.7" height="3.7"/><rect x="213.1" y="281.4" width="3.7" height="3.7"/><rect x="84.1" y="355.7" width="3.7" height="3.7"/><rect x="199.4" y="264.5" width="3.7" height="3.7"/><rect x="175.5" y="287.9" width="3.7" height="3.7"/><rect x="103.6" y="332.3" width="3.7" height="3.7"/><rect x="133.3" y="290.4" width="3.7" height="3.7"/><rect x="211.4" y="262.1" width="3.7" height="3.7"/><rect x="194.3" y="264.3" width="3.7" height="3.7"/><rect x="213.3" y="258.1" width="3.7" height="3.7"/><rect x="95" y="336.9" width="3.7" height="3.7"/><rect x="150.1" y="290.1" width="3.7" height="3.7"/><rect x="82.4" y="348.5" width="3.7" height="3.7"/><rect x="83" y="348.8" width="3.7" height="3.7"/><rect x="78.8" y="349.2" width="3.7" height="3.7"/><rect x="104.4" y="320.7" width="3.7" height="3.7"/><rect x="90.4" y="331.9" width="3.7" height="3.7"/><rect x="105.3" y="334.1" width="3.7" height="3.7"/><rect x="174.9" y="270.3" width="3.7" height="3.7"/><rect x="171.3" y="285.3" width="3.7" height="3.7"/><rect x="194.8" y="258.3" width="3.7" height="3.7"/><rect x="214.6" y="272.1" width="3.7" height="3.7"/><rect x="180.5" y="269.3" width="3.7" height="3.7"/><rect x="153" y="297.6" width="3.7" height="3.7"/><rect x="176.8" y="283.6" width="3.7" height="3.7"/><rect x="208.1" y="270" width="3.7" height="3.7"/><rect x="77.3" y="346.2" width="3.7" height="3.7"/><rect x="198.2" y="278.7" width="3.7" height="3.7"/><rect x="201" y="286.7" width="3.7" height="3.7"/><rect x="167" y="270.4" width="3.7" height="3.7"/><rect x="128.2" y="316.9" width="3.7" height="3.7"/><rect x="150.4" y="313.8" width="3.7" height="3.7"/><rect x="86.7" y="355.7" width="3.7" height="3.7"/><rect x="182.8" y="319.2" width="3.7" height="3.7"/><rect x="152" y="304.5" width="3.7" height="3.7"/><rect x="155.8" y="282.1" width="3.7" height="3.7"/><rect x="177.2" y="296.7" width="3.7" height="3.7"/><rect x="80.4" y="347.7" width="3.7" height="3.7"/><rect x="71.9" y="356.9" width="3.7" height="3.7"/><rect x="77.1" y="341.8" width="3.7" height="3.7"/><rect x="191.9" y="270.4" width="3.7" height="3.7"/><rect x="85.4" y="342.1" width="3.7" height="3.7"/><rect x="124.3" y="302" width="3.7" height="3.7"/><rect x="168.8" y="269.4" width="3.7" height="3.7"/><rect x="105.4" y="323.4" width="3.7" height="3.7"/><rect x="209.4" y="276.1" width="3.7" height="3.7"/><rect x="209.7" y="291.3" width="3.7" height="3.7"/><rect x="126.5" y="322.9" width="3.7" height="3.7"/><rect x="157.7" y="308.7" width="3.7" height="3.7"/><rect x="189.3" y="260.7" width="3.7" height="3.7"/><rect x="135.9" y="309.9" width="3.7" height="3.7"/><rect x="71.2" y="349.3" width="3.7" height="3.7"/><rect x="169.2" y="282" width="3.7" height="3.7"/><rect x="174.7" y="261.9" width="3.7" height="3.7"/><rect x="119.7" y="323.9" width="3.7" height="3.7"/><rect x="201.4" y="260" width="3.7" height="3.7"/><rect x="158.6" y="289.4" width="3.7" height="3.7"/><rect x="124.8" y="317.4" width="3.7" height="3.7"/><rect x="103" y="344.1" width="3.7" height="3.7"/><rect x="114.6" y="317.1" width="3.7" height="3.7"/><rect x="200.2" y="279.9" width="3.7" height="3.7"/><rect x="115.6" y="326.1" width="3.7" height="3.7"/><rect x="113" y="323.1" width="3.7" height="3.7"/><rect x="189" y="274.3" width="3.7" height="3.7"/><rect x="124.8" y="304" width="3.7" height="3.7"/><rect x="213.5" y="276.4" width="3.7" height="3.7"/><rect x="71.7" y="348.9" width="3.7" height="3.7"/><rect x="203.7" y="267.6" width="3.7" height="3.7"/><rect x="140.2" y="305.1" width="3.7" height="3.7"/><rect x="181" y="271.6" width="3.7" height="3.7"/><rect x="147.9" y="302" width="3.7" height="3.7"/><rect x="140.6" y="295.1" width="3.7" height="3.7"/><rect x="93.1" y="343" width="3.7" height="3.7"/><rect x="125.5" y="326.5" width="3.7" height="3.7"/><rect x="126.5" y="315.4" width="3.7" height="3.7"/><rect x="121.6" y="305.9" width="3.7" height="3.7"/><rect x="178" y="285.2" width="3.7" height="3.7"/><rect x="197.5" y="279.3" width="3.7" height="3.7"/><rect x="196.4" y="276.5" width="3.7" height="3.7"/><rect x="95.7" y="335.5" width="3.7" height="3.7"/><rect x="91.2" y="341.3" width="3.7" height="3.7"/><rect x="171" y="280.8" width="3.7" height="3.7"/><rect x="181" y="296.1" width="3.7" height="3.7"/><rect x="189" y="259.6" width="3.7" height="3.7"/><rect x="208.1" y="262.9" width="3.7" height="3.7"/><rect x="231.7" y="276.4" width="3.7" height="3.7"/><rect x="77.7" y="334.3" width="3.7" height="3.7"/><rect x="82.9" y="333.4" width="3.7" height="3.7"/><rect x="131" y="338" width="3.7" height="3.7"/><rect x="153.8" y="320.5" width="3.7" height="3.7"/><rect x="157.1" y="321.4" width="3.7" height="3.7"/><rect x="127.8" y="290.4" width="3.7" height="3.7"/><rect x="133" y="287.1" width="3.7" height="3.7"/></g>
<g fill="#8e8e8e" stroke="#1c1c1c" stroke-width="0.85"><circle cx="162.6" cy="289.7" r="2"/><circle cx="90.5" cy="335.2" r="2"/><circle cx="98.2" cy="337.3" r="2"/><circle cx="95.2" cy="332" r="2"/><circle cx="193.9" cy="266.4" r="2"/><circle cx="154" cy="279.3" r="2"/><circle cx="191" cy="277.2" r="2"/><circle cx="85.4" cy="347.3" r="2"/><circle cx="118.6" cy="316.1" r="2"/><circle cx="215.6" cy="277.9" r="2"/><circle cx="91.4" cy="345.9" r="2"/><circle cx="135.2" cy="310.6" r="2"/><circle cx="188.4" cy="274.8" r="2"/><circle cx="223.2" cy="284" r="2"/><circle cx="222.4" cy="266.5" r="2"/><circle cx="199.9" cy="277.3" r="2"/><circle cx="196" cy="275.8" r="2"/><circle cx="212.4" cy="269.3" r="2"/><circle cx="169" cy="289.8" r="2"/><circle cx="201.2" cy="264.3" r="2"/><circle cx="130.2" cy="312.5" r="2"/><circle cx="160.2" cy="295.8" r="2"/><circle cx="153.5" cy="298.5" r="2"/><circle cx="136.5" cy="304" r="2"/><circle cx="137.5" cy="305" r="2"/><circle cx="178.7" cy="271.4" r="2"/><circle cx="90.2" cy="345" r="2"/><circle cx="198.8" cy="273.1" r="2"/><circle cx="179.1" cy="264.6" r="2"/><circle cx="98.3" cy="338.7" r="2"/><circle cx="121.7" cy="311.2" r="2"/><circle cx="200" cy="265.9" r="2"/><circle cx="133.6" cy="316.2" r="2"/><circle cx="201" cy="287.3" r="2"/><circle cx="129.6" cy="311.9" r="2"/><circle cx="222.7" cy="276.4" r="2"/><circle cx="133.1" cy="318.5" r="2"/><circle cx="93.9" cy="350.6" r="2"/><circle cx="191.3" cy="265.9" r="2"/><circle cx="78.7" cy="349.1" r="2"/><circle cx="190.6" cy="277" r="2"/><circle cx="145.5" cy="300.2" r="2"/><circle cx="203.2" cy="269.2" r="2"/><circle cx="165" cy="289.3" r="2"/><circle cx="216.9" cy="264.6" r="2"/><circle cx="102.2" cy="337.2" r="2"/><circle cx="213.2" cy="308.4" r="2"/><circle cx="208.4" cy="260.9" r="2"/><circle cx="199.9" cy="267.6" r="2"/><circle cx="161.6" cy="293" r="2"/><circle cx="108.1" cy="322.4" r="2"/><circle cx="171.1" cy="298.4" r="2"/><circle cx="136.3" cy="331.4" r="2"/><circle cx="147.9" cy="291.9" r="2"/><circle cx="191.6" cy="272.9" r="2"/><circle cx="103" cy="348" r="2"/><circle cx="69.5" cy="355.2" r="2"/><circle cx="223.5" cy="264.3" r="2"/><circle cx="221.7" cy="281.8" r="2"/><circle cx="173.1" cy="278.2" r="2"/><circle cx="150" cy="285.5" r="2"/><circle cx="144.9" cy="295" r="2"/><circle cx="164.3" cy="291.5" r="2"/><circle cx="198.9" cy="269.4" r="2"/><circle cx="198.3" cy="283.6" r="2"/><circle cx="195.2" cy="274.3" r="2"/><circle cx="75.6" cy="352.4" r="2"/><circle cx="149.5" cy="309.3" r="2"/><circle cx="204.5" cy="291.4" r="2"/><circle cx="210.7" cy="262.1" r="2"/><circle cx="79.1" cy="349" r="2"/><circle cx="131.4" cy="324.4" r="2"/><circle cx="146.6" cy="307" r="2"/><circle cx="162" cy="275.2" r="2"/><circle cx="215.5" cy="261.4" r="2"/><circle cx="162" cy="297.8" r="2"/><circle cx="144.4" cy="304.1" r="2"/><circle cx="87.6" cy="341.4" r="2"/><circle cx="175.1" cy="287.3" r="2"/><circle cx="182" cy="291.2" r="2"/><circle cx="84.4" cy="351.7" r="2"/><circle cx="82.8" cy="347.8" r="2"/><circle cx="143.8" cy="311.5" r="2"/><circle cx="171.9" cy="297.1" r="2"/><circle cx="129.2" cy="317.9" r="2"/><circle cx="217.5" cy="260.1" r="2"/><circle cx="88.2" cy="342.1" r="2"/><circle cx="161.4" cy="295.2" r="2"/><circle cx="81" cy="339.8" r="2"/><circle cx="203.8" cy="280.6" r="2"/><circle cx="146.2" cy="304.8" r="2"/><circle cx="183.5" cy="292.3" r="2"/><circle cx="201.6" cy="266" r="2"/><circle cx="191.7" cy="277.9" r="2"/><circle cx="192.1" cy="298.9" r="2"/><circle cx="191.2" cy="284.6" r="2"/><circle cx="127.5" cy="305.8" r="2"/><circle cx="70.8" cy="350" r="2"/><circle cx="169.7" cy="285.9" r="2"/><circle cx="116.5" cy="317.5" r="2"/><circle cx="223.1" cy="285.8" r="2"/><circle cx="178.9" cy="289.6" r="2"/><circle cx="85.7" cy="355.6" r="2"/><circle cx="138.6" cy="317.8" r="2"/><circle cx="193.8" cy="279.6" r="2"/><circle cx="211" cy="265.8" r="2"/><circle cx="77.7" cy="345.6" r="2"/><circle cx="194.2" cy="266.7" r="2"/><circle cx="219.7" cy="262.9" r="2"/><circle cx="195.7" cy="280.1" r="2"/><circle cx="73" cy="352.1" r="2"/><circle cx="223.4" cy="263.4" r="2"/><circle cx="184.9" cy="287" r="2"/><circle cx="83.8" cy="348.8" r="2"/><circle cx="159.1" cy="291.8" r="2"/><circle cx="121.3" cy="329.8" r="2"/><circle cx="155" cy="292.4" r="2"/><circle cx="186.8" cy="267.6" r="2"/><circle cx="97" cy="345.4" r="2"/><circle cx="113.8" cy="341.1" r="2"/><circle cx="84.6" cy="346.7" r="2"/><circle cx="131.1" cy="322.1" r="2"/><circle cx="79.1" cy="348.1" r="2"/><circle cx="178.2" cy="286.7" r="2"/><circle cx="173.6" cy="282.7" r="2"/><circle cx="120.9" cy="315.3" r="2"/><circle cx="113" cy="320.7" r="2"/><circle cx="102.7" cy="337.3" r="2"/><circle cx="162.1" cy="302.4" r="2"/><circle cx="87.4" cy="354.9" r="2"/><circle cx="153.4" cy="315.8" r="2"/><circle cx="130.8" cy="320.7" r="2"/><circle cx="147.7" cy="302.5" r="2"/><circle cx="186.9" cy="284.9" r="2"/><circle cx="102" cy="340.5" r="2"/><circle cx="116" cy="335.7" r="2"/><circle cx="142.8" cy="323.9" r="2"/><circle cx="118" cy="339.8" r="2"/><circle cx="174.8" cy="276.8" r="2"/><circle cx="88.8" cy="355.2" r="2"/><circle cx="212" cy="264.5" r="2"/><circle cx="216.2" cy="279.8" r="2"/><circle cx="143.6" cy="302.5" r="2"/><circle cx="121.2" cy="320.9" r="2"/><circle cx="121" cy="317.9" r="2"/><circle cx="98" cy="329.7" r="2"/><circle cx="151.8" cy="306.6" r="2"/><circle cx="193.9" cy="285.7" r="2"/><circle cx="103.9" cy="337.3" r="2"/><circle cx="190.9" cy="284.9" r="2"/><circle cx="185.2" cy="274" r="2"/><circle cx="166.5" cy="291.3" r="2"/><circle cx="207.4" cy="272.7" r="2"/><circle cx="162" cy="288.6" r="2"/><circle cx="193.4" cy="283.2" r="2"/><circle cx="157.8" cy="287.9" r="2"/><circle cx="112.6" cy="344.6" r="2"/><circle cx="162.3" cy="291.5" r="2"/><circle cx="180.9" cy="277.7" r="2"/><circle cx="180.7" cy="289" r="2"/><circle cx="129.5" cy="321.4" r="2"/><circle cx="185.4" cy="269.1" r="2"/><circle cx="119" cy="326.2" r="2"/><circle cx="86.6" cy="356" r="2"/><circle cx="133.6" cy="323.1" r="2"/><circle cx="153.7" cy="291.8" r="2"/><circle cx="122.5" cy="327.4" r="2"/><circle cx="163.5" cy="277.3" r="2"/><circle cx="87.6" cy="339.5" r="2"/><circle cx="88.2" cy="347" r="2"/><circle cx="159.6" cy="291.1" r="2"/><circle cx="173.3" cy="293.2" r="2"/><circle cx="163.4" cy="296" r="2"/><circle cx="162.4" cy="299.1" r="2"/><circle cx="109.9" cy="327.3" r="2"/><circle cx="125" cy="328.3" r="2"/><circle cx="165.7" cy="292.2" r="2"/><circle cx="87.9" cy="345.9" r="2"/><circle cx="114.3" cy="324.6" r="2"/><circle cx="92.9" cy="353.7" r="2"/><circle cx="71.9" cy="356.3" r="2"/><circle cx="125.6" cy="325.4" r="2"/><circle cx="155.2" cy="300.3" r="2"/><circle cx="129.6" cy="315.5" r="2"/><circle cx="77.8" cy="349.6" r="2"/><circle cx="203.2" cy="261.7" r="2"/><circle cx="72.4" cy="350" r="2"/><circle cx="124.8" cy="316.4" r="2"/><circle cx="216.7" cy="276.1" r="2"/><circle cx="131.2" cy="308.1" r="2"/><circle cx="177.4" cy="278" r="2"/><circle cx="125.9" cy="315.1" r="2"/><circle cx="174.5" cy="286.6" r="2"/><circle cx="75.9" cy="348.5" r="2"/><circle cx="157.2" cy="285.3" r="2"/><circle cx="168.9" cy="295.6" r="2"/><circle cx="110.3" cy="343.2" r="2"/><circle cx="170.6" cy="281.1" r="2"/><circle cx="114.9" cy="322.9" r="2"/><circle cx="188.1" cy="281.3" r="2"/><circle cx="77.6" cy="352.5" r="2"/><circle cx="149.1" cy="273.1" r="2"/><circle cx="217.3" cy="275.8" r="2"/><circle cx="187.6" cy="290.5" r="2"/><circle cx="194.1" cy="283.5" r="2"/><circle cx="183.1" cy="276.9" r="2"/><circle cx="147.4" cy="308.8" r="2"/><circle cx="191.8" cy="281.4" r="2"/><circle cx="191.6" cy="275" r="2"/><circle cx="203.3" cy="278.4" r="2"/><circle cx="67.3" cy="354.5" r="2"/><circle cx="140" cy="309.8" r="2"/><circle cx="180.4" cy="292" r="2"/><circle cx="132.9" cy="314.1" r="2"/><circle cx="126.9" cy="329.9" r="2"/><circle cx="218.1" cy="261.8" r="2"/><circle cx="105.2" cy="341.9" r="2"/><circle cx="167.3" cy="293" r="2"/><circle cx="125.1" cy="331.9" r="2"/><circle cx="124.4" cy="324.8" r="2"/><circle cx="75.1" cy="355.7" r="2"/><circle cx="121.8" cy="313" r="2"/><circle cx="121.7" cy="323.2" r="2"/><circle cx="144.2" cy="302.7" r="2"/><circle cx="95.5" cy="353" r="2"/><circle cx="99.1" cy="345.2" r="2"/><circle cx="179.8" cy="284.4" r="2"/><circle cx="210.7" cy="286.1" r="2"/><circle cx="88.6" cy="340.3" r="2"/><circle cx="110" cy="333.2" r="2"/><circle cx="212.1" cy="270.6" r="2"/><circle cx="127.5" cy="316.4" r="2"/><circle cx="188.4" cy="280.5" r="2"/><circle cx="179.2" cy="276.5" r="2"/><circle cx="184.6" cy="286.8" r="2"/><circle cx="142" cy="305.5" r="2"/><circle cx="112.8" cy="321.7" r="2"/><circle cx="124.2" cy="319.4" r="2"/><circle cx="89" cy="345.1" r="2"/><circle cx="78.7" cy="351.6" r="2"/><circle cx="126.7" cy="318.6" r="2"/><circle cx="202.5" cy="268" r="2"/><circle cx="118.8" cy="326.1" r="2"/><circle cx="155.4" cy="317.5" r="2"/><circle cx="197.2" cy="274.5" r="2"/><circle cx="82.9" cy="349.1" r="2"/><circle cx="125.1" cy="317.1" r="2"/><circle cx="125.1" cy="319.9" r="2"/><circle cx="179.4" cy="269.4" r="2"/><circle cx="210" cy="284.7" r="2"/><circle cx="129.8" cy="323.2" r="2"/><circle cx="110.9" cy="326.4" r="2"/><circle cx="131.9" cy="325.4" r="2"/><circle cx="123.7" cy="319.1" r="2"/><circle cx="145.6" cy="305.7" r="2"/><circle cx="106" cy="344.8" r="2"/><circle cx="128.3" cy="313.5" r="2"/><circle cx="101.1" cy="326.5" r="2"/><circle cx="133.1" cy="313.1" r="2"/><circle cx="178.9" cy="295.6" r="2"/><circle cx="89.9" cy="341.3" r="2"/><circle cx="192.2" cy="287.4" r="2"/><circle cx="111.9" cy="330.2" r="2"/><circle cx="77.5" cy="348.1" r="2"/><circle cx="191.7" cy="285.1" r="2"/><circle cx="156.1" cy="311.2" r="2"/><circle cx="108" cy="333.5" r="2"/><circle cx="126.7" cy="319.3" r="2"/><circle cx="203.7" cy="282.5" r="2"/><circle cx="178.6" cy="290.3" r="2"/><circle cx="110.5" cy="326.3" r="2"/><circle cx="103.9" cy="335.7" r="2"/><circle cx="156.2" cy="301.7" r="2"/><circle cx="85.4" cy="351.5" r="2"/><circle cx="102.6" cy="335.2" r="2"/><circle cx="194.3" cy="276.2" r="2"/><circle cx="181.6" cy="284.5" r="2"/><circle cx="70.3" cy="356.1" r="2"/><circle cx="129.6" cy="320.6" r="2"/><circle cx="183.7" cy="286.7" r="2"/><circle cx="133.9" cy="313.5" r="2"/><circle cx="102.3" cy="327.3" r="2"/><circle cx="200.1" cy="266.3" r="2"/><circle cx="97" cy="336.8" r="2"/><circle cx="169.2" cy="288.1" r="2"/><circle cx="111.1" cy="332.9" r="2"/><circle cx="164.6" cy="289.4" r="2"/><circle cx="93.7" cy="344.9" r="2"/><circle cx="205.6" cy="277.1" r="2"/><circle cx="125" cy="325.6" r="2"/><circle cx="174.5" cy="286.3" r="2"/><circle cx="185.5" cy="281.1" r="2"/><circle cx="140.6" cy="296.3" r="2"/><circle cx="151.9" cy="297" r="2"/><circle cx="85.1" cy="349.3" r="2"/><circle cx="152.3" cy="292.6" r="2"/><circle cx="150.8" cy="305.5" r="2"/><circle cx="208.6" cy="263.2" r="2"/><circle cx="122.2" cy="317.4" r="2"/><circle cx="90.5" cy="324.2" r="2"/><circle cx="130.8" cy="326.6" r="2"/><circle cx="191.1" cy="278.9" r="2"/><circle cx="68" cy="355.2" r="2"/><circle cx="180.5" cy="280.2" r="2"/><circle cx="140.3" cy="302.3" r="2"/><circle cx="97.3" cy="345" r="2"/><circle cx="172.4" cy="293.1" r="2"/><circle cx="104.6" cy="333.1" r="2"/><circle cx="138.1" cy="304.4" r="2"/><circle cx="99.6" cy="346.9" r="2"/><circle cx="210.6" cy="295" r="2"/><circle cx="128.8" cy="310.2" r="2"/><circle cx="176.7" cy="274.5" r="2"/><circle cx="95.2" cy="335.9" r="2"/><circle cx="163.1" cy="300.9" r="2"/><circle cx="113.2" cy="329.8" r="2"/><circle cx="85.1" cy="346.4" r="2"/><circle cx="116.5" cy="322.6" r="2"/><circle cx="76.4" cy="351.7" r="2"/><circle cx="162.1" cy="294.7" r="2"/><circle cx="154.6" cy="291.7" r="2"/><circle cx="202" cy="280.9" r="2"/><circle cx="70.5" cy="355.9" r="2"/><circle cx="222.8" cy="274.7" r="2"/><circle cx="75.5" cy="353.7" r="2"/><circle cx="81" cy="348.6" r="2"/><circle cx="179.8" cy="284.8" r="2"/><circle cx="149.9" cy="305.8" r="2"/><circle cx="205.7" cy="260.4" r="2"/><circle cx="147.9" cy="301" r="2"/><circle cx="174.2" cy="290.2" r="2"/><circle cx="107.1" cy="326" r="2"/><circle cx="222.6" cy="276" r="2"/><circle cx="199.3" cy="275.6" r="2"/><circle cx="174.7" cy="286.5" r="2"/><circle cx="142.8" cy="311.6" r="2"/><circle cx="125.6" cy="322.3" r="2"/><circle cx="79.8" cy="349.4" r="2"/><circle cx="192.4" cy="290.7" r="2"/><circle cx="102.4" cy="338.4" r="2"/><circle cx="205" cy="271.6" r="2"/><circle cx="207.5" cy="270.7" r="2"/><circle cx="99.6" cy="336.7" r="2"/><circle cx="112.5" cy="315.7" r="2"/><circle cx="179.3" cy="277.7" r="2"/><circle cx="187.8" cy="280.8" r="2"/><circle cx="73.9" cy="352.7" r="2"/><circle cx="196.1" cy="276.6" r="2"/><circle cx="165.3" cy="288.2" r="2"/><circle cx="208" cy="276.1" r="2"/><circle cx="221.5" cy="259.9" r="2"/><circle cx="159.7" cy="304.1" r="2"/><circle cx="83.8" cy="345.2" r="2"/><circle cx="125.1" cy="317.1" r="2"/><circle cx="117.5" cy="332.3" r="2"/><circle cx="217.5" cy="265" r="2"/><circle cx="196.7" cy="271.3" r="2"/><circle cx="136.8" cy="318.3" r="2"/><circle cx="177" cy="262" r="2"/><circle cx="196.9" cy="269.8" r="2"/><circle cx="82" cy="350.3" r="2"/><circle cx="107.6" cy="335.2" r="2"/><circle cx="84.3" cy="351.2" r="2"/><circle cx="130.2" cy="315" r="2"/><circle cx="88.8" cy="345.6" r="2"/><circle cx="211.8" cy="286.1" r="2"/><circle cx="191.5" cy="287.4" r="2"/><circle cx="158.7" cy="301.8" r="2"/><circle cx="96.6" cy="343.5" r="2"/><circle cx="99.7" cy="341" r="2"/><circle cx="160.4" cy="300.3" r="2"/><circle cx="210.6" cy="266.4" r="2"/><circle cx="214.6" cy="262.5" r="2"/><circle cx="117.5" cy="325.1" r="2"/><circle cx="177.2" cy="302.7" r="2"/><circle cx="148.7" cy="304.6" r="2"/><circle cx="154.6" cy="293.4" r="2"/><circle cx="173.9" cy="286.9" r="2"/><circle cx="113.1" cy="327.2" r="2"/><circle cx="108.8" cy="331.2" r="2"/><circle cx="131.8" cy="325.1" r="2"/><circle cx="103.3" cy="349.1" r="2"/><circle cx="203.1" cy="266.2" r="2"/><circle cx="124.4" cy="323.9" r="2"/><circle cx="72.3" cy="351.3" r="2"/><circle cx="111.2" cy="331.8" r="2"/><circle cx="209.7" cy="274.5" r="2"/><circle cx="166.4" cy="280.2" r="2"/><circle cx="164.7" cy="301.5" r="2"/><circle cx="139.5" cy="310.3" r="2"/><circle cx="188.9" cy="293.2" r="2"/><circle cx="172.9" cy="286.1" r="2"/><circle cx="153.1" cy="296.9" r="2"/><circle cx="119.4" cy="320.4" r="2"/><circle cx="190.9" cy="277" r="2"/><circle cx="211.1" cy="285.9" r="2"/><circle cx="80.7" cy="348.3" r="2"/><circle cx="70.4" cy="350.2" r="2"/><circle cx="205.1" cy="264.6" r="2"/><circle cx="164.4" cy="275.7" r="2"/><circle cx="129.4" cy="313.6" r="2"/><circle cx="133.7" cy="320.8" r="2"/><circle cx="125" cy="323.5" r="2"/><circle cx="151" cy="301.3" r="2"/><circle cx="160.5" cy="283.7" r="2"/><circle cx="200.1" cy="285.9" r="2"/><circle cx="205.9" cy="265.1" r="2"/><circle cx="111.5" cy="326.2" r="2"/><circle cx="202.1" cy="282.9" r="2"/><circle cx="78.5" cy="347.7" r="2"/><circle cx="99.3" cy="342.4" r="2"/><circle cx="133" cy="314.7" r="2"/><circle cx="78.3" cy="352.4" r="2"/><circle cx="121.4" cy="321.4" r="2"/><circle cx="173.8" cy="295.9" r="2"/><circle cx="107.6" cy="329.8" r="2"/><circle cx="149.4" cy="318.5" r="2"/><circle cx="128.2" cy="320.6" r="2"/><circle cx="233.2" cy="274.8" r="2"/><circle cx="113" cy="319.9" r="2"/><circle cx="103.8" cy="332.5" r="2"/><circle cx="189.7" cy="283.1" r="2"/><circle cx="186.5" cy="287.8" r="2"/><circle cx="178.1" cy="283.6" r="2"/><circle cx="76.4" cy="350.3" r="2"/><circle cx="220.9" cy="263.8" r="2"/><circle cx="144.4" cy="325.9" r="2"/><circle cx="139.9" cy="309.3" r="2"/><circle cx="111.3" cy="350.1" r="2"/><circle cx="78.7" cy="345.8" r="2"/><circle cx="106.4" cy="337.8" r="2"/><circle cx="219.1" cy="264.3" r="2"/><circle cx="99" cy="342.9" r="2"/><circle cx="78.2" cy="345.8" r="2"/><circle cx="168.9" cy="287.6" r="2"/><circle cx="199.9" cy="264.5" r="2"/><circle cx="106.3" cy="333.5" r="2"/><circle cx="186.2" cy="305.9" r="2"/><circle cx="69.6" cy="356.9" r="2"/><circle cx="167.8" cy="302.3" r="2"/><circle cx="81.2" cy="345" r="2"/><circle cx="140.2" cy="305.9" r="2"/><circle cx="143.3" cy="307.3" r="2"/><circle cx="183.7" cy="277.4" r="2"/><circle cx="192" cy="276.2" r="2"/><circle cx="170" cy="293.1" r="2"/><circle cx="111" cy="319.3" r="2"/><circle cx="176.7" cy="281.9" r="2"/><circle cx="157.1" cy="298.9" r="2"/><circle cx="165.4" cy="303.1" r="2"/><circle cx="93.8" cy="319.1" r="2"/><circle cx="242.2" cy="264.5" r="2"/><circle cx="237" cy="264.9" r="2"/><circle cx="188.2" cy="308.4" r="2"/><circle cx="201.2" cy="293.6" r="2"/></g>
<g fill="#008b8b" stroke="#0a1c1c" stroke-width="0.75"><path d="M163.3 290l2.05 3.8h-4.1z"/><path d="M152 303.2l2.05 3.8h-4.1z"/><path d="M128.4 324.8l2.05 3.8h-4.1z"/><path d="M97.1 347.1l2.05 3.8h-4.1z"/><path d="M191 274.7l2.05 3.8h-4.1z"/><path d="M82.4 354l2.05 3.8h-4.1z"/><path d="M127 332.4l2.05 3.8h-4.1z"/><path d="M99.1 337.3l2.05 3.8h-4.1z"/><path d="M181.6 283.7l2.05 3.8h-4.1z"/><path d="M151.3 302.4l2.05 3.8h-4.1z"/><path d="M211 261.6l2.05 3.8h-4.1z"/><path d="M226.3 259.8l2.05 3.8h-4.1z"/><path d="M168.7 288.5l2.05 3.8h-4.1z"/><path d="M78.8 354.9l2.05 3.8h-4.1z"/><path d="M191 300.2l2.05 3.8h-4.1z"/><path d="M203.3 273.9l2.05 3.8h-4.1z"/><path d="M154.1 304.3l2.05 3.8h-4.1z"/><path d="M175.5 278.1l2.05 3.8h-4.1z"/><path d="M122.5 314.6l2.05 3.8h-4.1z"/><path d="M178.7 283.2l2.05 3.8h-4.1z"/><path d="M103.1 332.4l2.05 3.8h-4.1z"/><path d="M155.7 302.8l2.05 3.8h-4.1z"/><path d="M175.1 289.4l2.05 3.8h-4.1z"/><path d="M195.6 287.7l2.05 3.8h-4.1z"/><path d="M168.7 296.4l2.05 3.8h-4.1z"/><path d="M193.3 279.1l2.05 3.8h-4.1z"/><path d="M189.6 273.1l2.05 3.8h-4.1z"/><path d="M170.1 297.8l2.05 3.8h-4.1z"/><path d="M84.6 347.8l2.05 3.8h-4.1z"/><path d="M183.5 265.1l2.05 3.8h-4.1z"/><path d="M140.8 321.7l2.05 3.8h-4.1z"/><path d="M232 275.1l2.05 3.8h-4.1z"/><path d="M83.5 351.7l2.05 3.8h-4.1z"/><path d="M144.1 303.4l2.05 3.8h-4.1z"/><path d="M116.7 318.4l2.05 3.8h-4.1z"/><path d="M143 298.9l2.05 3.8h-4.1z"/><path d="M206.3 277.4l2.05 3.8h-4.1z"/><path d="M199.5 286.7l2.05 3.8h-4.1z"/><path d="M76 355.3l2.05 3.8h-4.1z"/><path d="M180.9 286.4l2.05 3.8h-4.1z"/><path d="M184.5 282.3l2.05 3.8h-4.1z"/><path d="M186.7 294.5l2.05 3.8h-4.1z"/><path d="M106.4 329l2.05 3.8h-4.1z"/><path d="M125.7 327.9l2.05 3.8h-4.1z"/><path d="M169.2 287.2l2.05 3.8h-4.1z"/><path d="M109.4 333.8l2.05 3.8h-4.1z"/><path d="M146.7 316.1l2.05 3.8h-4.1z"/><path d="M131.7 318.7l2.05 3.8h-4.1z"/><path d="M78.2 353.9l2.05 3.8h-4.1z"/><path d="M77.7 354.6l2.05 3.8h-4.1z"/><path d="M98.9 338.4l2.05 3.8h-4.1z"/><path d="M138.5 318.9l2.05 3.8h-4.1z"/><path d="M211.8 257.5l2.05 3.8h-4.1z"/><path d="M187.5 273.4l2.05 3.8h-4.1z"/><path d="M115.1 336.2l2.05 3.8h-4.1z"/><path d="M191.2 303.5l2.05 3.8h-4.1z"/><path d="M194.8 269.3l2.05 3.8h-4.1z"/><path d="M213.8 271.9l2.05 3.8h-4.1z"/><path d="M177.9 286.6l2.05 3.8h-4.1z"/><path d="M164.4 303.4l2.05 3.8h-4.1z"/><path d="M172.9 301.9l2.05 3.8h-4.1z"/><path d="M78.1 354.3l2.05 3.8h-4.1z"/><path d="M160.9 270.3l2.05 3.8h-4.1z"/><path d="M72.9 350l2.05 3.8h-4.1z"/><path d="M172.2 295.1l2.05 3.8h-4.1z"/><path d="M126.3 311.5l2.05 3.8h-4.1z"/><path d="M93.8 353.1l2.05 3.8h-4.1z"/><path d="M148.2 302.5l2.05 3.8h-4.1z"/><path d="M91.1 344.7l2.05 3.8h-4.1z"/><path d="M126.9 327.9l2.05 3.8h-4.1z"/><path d="M178.5 291l2.05 3.8h-4.1z"/><path d="M207.3 286.7l2.05 3.8h-4.1z"/><path d="M124.4 324.1l2.05 3.8h-4.1z"/><path d="M197.1 267.9l2.05 3.8h-4.1z"/><path d="M196.1 271.1l2.05 3.8h-4.1z"/><path d="M179.1 281.9l2.05 3.8h-4.1z"/><path d="M132.9 311.2l2.05 3.8h-4.1z"/><path d="M123.8 335.6l2.05 3.8h-4.1z"/><path d="M98.5 332.5l2.05 3.8h-4.1z"/><path d="M193.9 281.5l2.05 3.8h-4.1z"/><path d="M173.1 305.6l2.05 3.8h-4.1z"/><path d="M66.9 355l2.05 3.8h-4.1z"/><path d="M73.3 350.8l2.05 3.8h-4.1z"/><path d="M157.5 300.1l2.05 3.8h-4.1z"/><path d="M154 301.1l2.05 3.8h-4.1z"/><path d="M162.6 315.1l2.05 3.8h-4.1z"/><path d="M124.7 313l2.05 3.8h-4.1z"/><path d="M211.6 259.3l2.05 3.8h-4.1z"/><path d="M135.7 323.1l2.05 3.8h-4.1z"/><path d="M103.8 331.3l2.05 3.8h-4.1z"/><path d="M131.9 311l2.05 3.8h-4.1z"/><path d="M222.3 263.7l2.05 3.8h-4.1z"/><path d="M94.8 333.8l2.05 3.8h-4.1z"/><path d="M157.4 311.3l2.05 3.8h-4.1z"/><path d="M150.2 300.9l2.05 3.8h-4.1z"/><path d="M68.6 353.9l2.05 3.8h-4.1z"/><path d="M84.8 335.8l2.05 3.8h-4.1z"/><path d="M120.1 333.2l2.05 3.8h-4.1z"/><path d="M92.9 352.6l2.05 3.8h-4.1z"/><path d="M77 350l2.05 3.8h-4.1z"/><path d="M125.4 319.9l2.05 3.8h-4.1z"/><path d="M72.7 356.2l2.05 3.8h-4.1z"/><path d="M181.4 284.7l2.05 3.8h-4.1z"/><path d="M101.8 337.3l2.05 3.8h-4.1z"/><path d="M188 268l2.05 3.8h-4.1z"/><path d="M132.3 323.4l2.05 3.8h-4.1z"/><path d="M156.7 307.4l2.05 3.8h-4.1z"/><path d="M199 284.5l2.05 3.8h-4.1z"/><path d="M83 352.6l2.05 3.8h-4.1z"/><path d="M69.9 354.9l2.05 3.8h-4.1z"/><path d="M217.9 287.5l2.05 3.8h-4.1z"/><path d="M131.3 317.6l2.05 3.8h-4.1z"/><path d="M162.8 306.8l2.05 3.8h-4.1z"/><path d="M170.7 295.3l2.05 3.8h-4.1z"/><path d="M210.8 278.6l2.05 3.8h-4.1z"/><path d="M168.8 295.7l2.05 3.8h-4.1z"/><path d="M172.2 278.8l2.05 3.8h-4.1z"/><path d="M81.1 342.5l2.05 3.8h-4.1z"/><path d="M136.9 305.1l2.05 3.8h-4.1z"/><path d="M99.7 330.2l2.05 3.8h-4.1z"/><path d="M114.7 333l2.05 3.8h-4.1z"/><path d="M78.1 345.5l2.05 3.8h-4.1z"/><path d="M127.8 322.5l2.05 3.8h-4.1z"/><path d="M90.1 347.8l2.05 3.8h-4.1z"/><path d="M114.3 330l2.05 3.8h-4.1z"/><path d="M131.4 328l2.05 3.8h-4.1z"/><path d="M119.2 331.7l2.05 3.8h-4.1z"/><path d="M175.6 290.2l2.05 3.8h-4.1z"/><path d="M185.6 280.9l2.05 3.8h-4.1z"/><path d="M174.2 290.7l2.05 3.8h-4.1z"/><path d="M116.4 335l2.05 3.8h-4.1z"/><path d="M152.8 312.7l2.05 3.8h-4.1z"/><path d="M134.6 317.1l2.05 3.8h-4.1z"/><path d="M186.3 294l2.05 3.8h-4.1z"/><path d="M128.6 328.9l2.05 3.8h-4.1z"/><path d="M213.1 276.7l2.05 3.8h-4.1z"/><path d="M131.9 317.9l2.05 3.8h-4.1z"/><path d="M101.1 345.3l2.05 3.8h-4.1z"/><path d="M204.4 294.4l2.05 3.8h-4.1z"/><path d="M76.9 353.5l2.05 3.8h-4.1z"/><path d="M144.5 304.4l2.05 3.8h-4.1z"/><path d="M116.8 332.2l2.05 3.8h-4.1z"/><path d="M84.2 351.9l2.05 3.8h-4.1z"/><path d="M137.7 330.5l2.05 3.8h-4.1z"/><path d="M180.6 278.7l2.05 3.8h-4.1z"/><path d="M221 285.2l2.05 3.8h-4.1z"/><path d="M175.4 283.1l2.05 3.8h-4.1z"/><path d="M115.5 334.2l2.05 3.8h-4.1z"/><path d="M152.4 305.6l2.05 3.8h-4.1z"/><path d="M192.4 283.1l2.05 3.8h-4.1z"/><path d="M143.3 329l2.05 3.8h-4.1z"/><path d="M170.9 269.5l2.05 3.8h-4.1z"/><path d="M121.5 336l2.05 3.8h-4.1z"/><path d="M158.8 299.1l2.05 3.8h-4.1z"/><path d="M195.5 287.7l2.05 3.8h-4.1z"/><path d="M206.4 279.4l2.05 3.8h-4.1z"/><path d="M217.3 261.2l2.05 3.8h-4.1z"/><path d="M82.4 355.6l2.05 3.8h-4.1z"/><path d="M70.7 356l2.05 3.8h-4.1z"/><path d="M180.3 282.3l2.05 3.8h-4.1z"/><path d="M96.2 343.9l2.05 3.8h-4.1z"/><path d="M188.1 279.6l2.05 3.8h-4.1z"/><path d="M74.8 351.4l2.05 3.8h-4.1z"/><path d="M130.9 330.3l2.05 3.8h-4.1z"/><path d="M91.4 355.5l2.05 3.8h-4.1z"/><path d="M160.7 301.7l2.05 3.8h-4.1z"/><path d="M186.2 277.4l2.05 3.8h-4.1z"/><path d="M75.3 354.6l2.05 3.8h-4.1z"/><path d="M81.3 345.8l2.05 3.8h-4.1z"/><path d="M217.9 273.7l2.05 3.8h-4.1z"/><path d="M140.8 311.5l2.05 3.8h-4.1z"/><path d="M161.3 296.7l2.05 3.8h-4.1z"/><path d="M196.5 302.8l2.05 3.8h-4.1z"/><path d="M215.5 269.5l2.05 3.8h-4.1z"/><path d="M133.3 325.4l2.05 3.8h-4.1z"/><path d="M199.2 282.7l2.05 3.8h-4.1z"/><path d="M183.5 264.9l2.05 3.8h-4.1z"/><path d="M174.6 299.6l2.05 3.8h-4.1z"/><path d="M194.1 279.7l2.05 3.8h-4.1z"/><path d="M214.3 272.6l2.05 3.8h-4.1z"/><path d="M156.8 300.4l2.05 3.8h-4.1z"/><path d="M108.2 335.9l2.05 3.8h-4.1z"/><path d="M212.4 281.3l2.05 3.8h-4.1z"/><path d="M69.6 346.5l2.05 3.8h-4.1z"/><path d="M140.9 326.4l2.05 3.8h-4.1z"/><path d="M78.9 353.6l2.05 3.8h-4.1z"/><path d="M119 319.5l2.05 3.8h-4.1z"/><path d="M127 317.6l2.05 3.8h-4.1z"/><path d="M82.4 355.8l2.05 3.8h-4.1z"/><path d="M188.4 294.3l2.05 3.8h-4.1z"/><path d="M122.3 328.1l2.05 3.8h-4.1z"/><path d="M139.8 295.6l2.05 3.8h-4.1z"/><path d="M194 276.4l2.05 3.8h-4.1z"/><path d="M211.4 290.5l2.05 3.8h-4.1z"/><path d="M107.3 335.3l2.05 3.8h-4.1z"/><path d="M186 289.3l2.05 3.8h-4.1z"/><path d="M113.5 323.6l2.05 3.8h-4.1z"/><path d="M145.1 307.7l2.05 3.8h-4.1z"/><path d="M80.8 347.5l2.05 3.8h-4.1z"/><path d="M201.9 276.9l2.05 3.8h-4.1z"/><path d="M175 272.4l2.05 3.8h-4.1z"/><path d="M192.2 277.8l2.05 3.8h-4.1z"/><path d="M147.9 305.7l2.05 3.8h-4.1z"/><path d="M219.3 284.7l2.05 3.8h-4.1z"/><path d="M188.7 288.2l2.05 3.8h-4.1z"/><path d="M81.9 350.1l2.05 3.8h-4.1z"/><path d="M212.6 280.6l2.05 3.8h-4.1z"/><path d="M119.6 313l2.05 3.8h-4.1z"/><path d="M88.4 350l2.05 3.8h-4.1z"/><path d="M133.3 325.3l2.05 3.8h-4.1z"/><path d="M87 345.9l2.05 3.8h-4.1z"/><path d="M157.7 306.5l2.05 3.8h-4.1z"/><path d="M167.1 290.9l2.05 3.8h-4.1z"/><path d="M104.3 339.2l2.05 3.8h-4.1z"/><path d="M80.6 355.6l2.05 3.8h-4.1z"/><path d="M201 260l2.05 3.8h-4.1z"/><path d="M174.3 288.8l2.05 3.8h-4.1z"/><path d="M164.8 287.2l2.05 3.8h-4.1z"/><path d="M219 279.4l2.05 3.8h-4.1z"/><path d="M150.1 316.4l2.05 3.8h-4.1z"/><path d="M74.4 354.7l2.05 3.8h-4.1z"/><path d="M200.4 285.8l2.05 3.8h-4.1z"/><path d="M129.1 322.3l2.05 3.8h-4.1z"/><path d="M160 298.5l2.05 3.8h-4.1z"/><path d="M184.1 280.3l2.05 3.8h-4.1z"/><path d="M169.4 302.5l2.05 3.8h-4.1z"/><path d="M177 286.2l2.05 3.8h-4.1z"/><path d="M108.4 345.6l2.05 3.8h-4.1z"/><path d="M181.6 291.6l2.05 3.8h-4.1z"/><path d="M184.7 262.3l2.05 3.8h-4.1z"/><path d="M143.6 298l2.05 3.8h-4.1z"/><path d="M152.5 308.3l2.05 3.8h-4.1z"/><path d="M131 308.2l2.05 3.8h-4.1z"/><path d="M163.3 280.8l2.05 3.8h-4.1z"/><path d="M211.1 263.6l2.05 3.8h-4.1z"/><path d="M182.2 273.1l2.05 3.8h-4.1z"/><path d="M135.2 318.4l2.05 3.8h-4.1z"/><path d="M99.5 342.8l2.05 3.8h-4.1z"/><path d="M165.8 301.7l2.05 3.8h-4.1z"/><path d="M187.6 275.8l2.05 3.8h-4.1z"/><path d="M90.6 352.9l2.05 3.8h-4.1z"/><path d="M155.9 307.5l2.05 3.8h-4.1z"/><path d="M184.6 280.5l2.05 3.8h-4.1z"/><path d="M108.6 339.7l2.05 3.8h-4.1z"/><path d="M197.5 275.1l2.05 3.8h-4.1z"/><path d="M153 290.7l2.05 3.8h-4.1z"/><path d="M78.3 354.1l2.05 3.8h-4.1z"/><path d="M198.7 266.4l2.05 3.8h-4.1z"/><path d="M154 308.4l2.05 3.8h-4.1z"/><path d="M67.1 355.1l2.05 3.8h-4.1z"/><path d="M86.4 349.2l2.05 3.8h-4.1z"/><path d="M169.1 284.5l2.05 3.8h-4.1z"/><path d="M188.2 289.2l2.05 3.8h-4.1z"/><path d="M124 329.2l2.05 3.8h-4.1z"/><path d="M168.7 296.5l2.05 3.8h-4.1z"/><path d="M155.4 307.7l2.05 3.8h-4.1z"/><path d="M202.6 275.6l2.05 3.8h-4.1z"/><path d="M104.5 342.4l2.05 3.8h-4.1z"/><path d="M86.4 351.9l2.05 3.8h-4.1z"/><path d="M131.3 317.2l2.05 3.8h-4.1z"/><path d="M199 283.1l2.05 3.8h-4.1z"/><path d="M107.1 330.5l2.05 3.8h-4.1z"/><path d="M196.2 286.3l2.05 3.8h-4.1z"/><path d="M80.4 356.5l2.05 3.8h-4.1z"/><path d="M202.8 259.1l2.05 3.8h-4.1z"/><path d="M137.3 305.2l2.05 3.8h-4.1z"/><path d="M198.3 278.8l2.05 3.8h-4.1z"/><path d="M140.3 307.5l2.05 3.8h-4.1z"/><path d="M150 303.8l2.05 3.8h-4.1z"/><path d="M176.9 292.4l2.05 3.8h-4.1z"/><path d="M245.5 277l2.05 3.8h-4.1z"/><path d="M233.7 270.5l2.05 3.8h-4.1z"/><path d="M227.2 272.8l2.05 3.8h-4.1z"/><path d="M229.2 261.2l2.05 3.8h-4.1z"/><path d="M129.6 337.6l2.05 3.8h-4.1z"/><path d="M142.6 328.3l2.05 3.8h-4.1z"/><path d="M149.2 328.3l2.05 3.8h-4.1z"/><path d="M109.5 345l2.05 3.8h-4.1z"/></g>
<rect x="48.3" y="219.4" width="221.7" height="157.5" fill="none" stroke="#444" stroke-width="0.9"/>
<path d="M48.3 376.9h-2.6M48.3 376.9v2.6M48.3 342.2h-2.6M97.1 376.9v2.6M48.3 307.5h-2.6M145.9 376.9v2.6M48.3 272.8h-2.6M194.7 376.9v2.6M48.3 238.1h-2.6M243.5 376.9v2.6" stroke="#444" stroke-width="0.9" fill="none"/>
<g font-size="8.7" fill="#222"><text x="40.3" y="380" text-anchor="end">0</text><text x="47.8" y="392.4" text-anchor="middle">0</text><text x="40.3" y="345.3" text-anchor="end">750</text><text x="96.6" y="392.4" text-anchor="middle">750</text><text x="40.3" y="310.6" text-anchor="end">1500</text><text x="145.4" y="392.4" text-anchor="middle">1500</text><text x="40.3" y="275.9" text-anchor="end">2250</text><text x="194.2" y="392.4" text-anchor="middle">2250</text><text x="40.3" y="241.2" text-anchor="end">3000</text><text x="243" y="392.4" text-anchor="middle">3000</text></g>
<rect x="62.7" y="229.1" width="3.7" height="3.7" fill="#fff" stroke="#1c1c1c" stroke-width="0.85"/>
<circle cx="64.6" cy="242.2" r="2" fill="#8e8e8e" stroke="#1c1c1c" stroke-width="0.85"/>
<path d="M64.6 251.7l2.05 3.8h-4.1z" fill="#008b8b" stroke="#0a1c1c" stroke-width="0.75"/>
<text x="79.5" y="234" font-size="9.5" fill="#222" textLength="55" lengthAdjust="spacingAndGlyphs">Training cases</text>
<text x="79.5" y="245.3" font-size="9.5" fill="#222" textLength="62.5" lengthAdjust="spacingAndGlyphs">Validation cases</text>
<text x="79.5" y="257.1" font-size="9.5" fill="#222" textLength="58.5" lengthAdjust="spacingAndGlyphs">Querying cases</text>
<text transform="translate(226.8 250.1) rotate(-35.4)" font-size="5.8" fill="#222" textLength="38" lengthAdjust="spacingAndGlyphs" x="0" y="-1.3">Line with slope 1</text></g>
<g><line x1="324.5" y1="376.7" x2="545.1" y2="219.3" stroke="#111" stroke-width="0.9" stroke-dasharray="6 1.8 0.9 1.8 0.9 1.8"/>
<g fill="#fff" stroke="#1c1c1c" stroke-width="0.85"><rect x="458.5" y="268.7" width="3.7" height="3.7"/><rect x="426.9" y="301.2" width="3.7" height="3.7"/><rect x="409.2" y="312.3" width="3.7" height="3.7"/><rect x="395.9" y="320.5" width="3.7" height="3.7"/><rect x="380.9" y="334" width="3.7" height="3.7"/><rect x="407.4" y="313.9" width="3.7" height="3.7"/><rect x="387.2" y="324.3" width="3.7" height="3.7"/><rect x="384" y="327.3" width="3.7" height="3.7"/><rect x="411.7" y="298.3" width="3.7" height="3.7"/><rect x="412.8" y="301.9" width="3.7" height="3.7"/><rect x="396" y="320.7" width="3.7" height="3.7"/><rect x="428.4" y="314.8" width="3.7" height="3.7"/><rect x="508.2" y="282.7" width="3.7" height="3.7"/><rect x="452.6" y="285.9" width="3.7" height="3.7"/><rect x="456.7" y="282.9" width="3.7" height="3.7"/><rect x="424.2" y="310.5" width="3.7" height="3.7"/><rect x="473.4" y="276.7" width="3.7" height="3.7"/><rect x="353.9" y="348.5" width="3.7" height="3.7"/><rect x="433.2" y="299.1" width="3.7" height="3.7"/><rect x="473.6" y="275.1" width="3.7" height="3.7"/><rect x="457.8" y="279.7" width="3.7" height="3.7"/><rect x="493.5" y="279.3" width="3.7" height="3.7"/><rect x="445.9" y="292.7" width="3.7" height="3.7"/><rect x="466.5" y="276.6" width="3.7" height="3.7"/><rect x="404.8" y="312.3" width="3.7" height="3.7"/><rect x="380.7" y="337.5" width="3.7" height="3.7"/><rect x="411.5" y="324.3" width="3.7" height="3.7"/><rect x="472.3" y="287.2" width="3.7" height="3.7"/><rect x="376.5" y="331.2" width="3.7" height="3.7"/><rect x="466.1" y="291" width="3.7" height="3.7"/><rect x="459.9" y="265.7" width="3.7" height="3.7"/><rect x="428.4" y="302.1" width="3.7" height="3.7"/><rect x="423.1" y="300.2" width="3.7" height="3.7"/><rect x="491.6" y="276.9" width="3.7" height="3.7"/><rect x="350.9" y="348.6" width="3.7" height="3.7"/><rect x="423.8" y="300.2" width="3.7" height="3.7"/><rect x="354.1" y="348.3" width="3.7" height="3.7"/><rect x="381.5" y="342.5" width="3.7" height="3.7"/><rect x="361.8" y="340.9" width="3.7" height="3.7"/><rect x="491.8" y="286.5" width="3.7" height="3.7"/><rect x="382" y="332.4" width="3.7" height="3.7"/><rect x="392.7" y="319.4" width="3.7" height="3.7"/><rect x="370.1" y="339.8" width="3.7" height="3.7"/><rect x="399.5" y="314.5" width="3.7" height="3.7"/><rect x="369.7" y="338.2" width="3.7" height="3.7"/><rect x="474.9" y="271.9" width="3.7" height="3.7"/><rect x="430" y="302.8" width="3.7" height="3.7"/><rect x="357.7" y="342.5" width="3.7" height="3.7"/><rect x="476.5" y="261.2" width="3.7" height="3.7"/><rect x="412.7" y="312.5" width="3.7" height="3.7"/><rect x="446.3" y="292.9" width="3.7" height="3.7"/><rect x="420.8" y="301.3" width="3.7" height="3.7"/><rect x="406.9" y="318.1" width="3.7" height="3.7"/><rect x="457.2" y="278.1" width="3.7" height="3.7"/><rect x="483.8" y="262.1" width="3.7" height="3.7"/><rect x="428.2" y="292.3" width="3.7" height="3.7"/><rect x="378.9" y="319.9" width="3.7" height="3.7"/><rect x="454.7" y="276.4" width="3.7" height="3.7"/><rect x="466.2" y="285.5" width="3.7" height="3.7"/><rect x="360.7" y="349.3" width="3.7" height="3.7"/><rect x="374.9" y="332.3" width="3.7" height="3.7"/><rect x="359.2" y="336.8" width="3.7" height="3.7"/><rect x="346.6" y="348.9" width="3.7" height="3.7"/><rect x="419.2" y="314.1" width="3.7" height="3.7"/><rect x="433.2" y="282.7" width="3.7" height="3.7"/><rect x="419.8" y="304.6" width="3.7" height="3.7"/><rect x="472.7" y="263.8" width="3.7" height="3.7"/><rect x="368.8" y="333.8" width="3.7" height="3.7"/><rect x="348.8" y="348.9" width="3.7" height="3.7"/><rect x="358" y="348.7" width="3.7" height="3.7"/><rect x="438.7" y="294.8" width="3.7" height="3.7"/><rect x="430.8" y="291.6" width="3.7" height="3.7"/><rect x="381.5" y="326.8" width="3.7" height="3.7"/><rect x="448.4" y="290.3" width="3.7" height="3.7"/><rect x="394.8" y="317.6" width="3.7" height="3.7"/><rect x="466.5" y="292.4" width="3.7" height="3.7"/><rect x="457.5" y="276" width="3.7" height="3.7"/><rect x="378" y="331.2" width="3.7" height="3.7"/><rect x="351.8" y="349.4" width="3.7" height="3.7"/><rect x="438.6" y="307.9" width="3.7" height="3.7"/><rect x="354.1" y="348.5" width="3.7" height="3.7"/><rect x="431.5" y="303.9" width="3.7" height="3.7"/><rect x="447.4" y="266.4" width="3.7" height="3.7"/><rect x="364.5" y="344.3" width="3.7" height="3.7"/><rect x="463.5" y="278.6" width="3.7" height="3.7"/><rect x="404.7" y="315" width="3.7" height="3.7"/><rect x="441.2" y="283.9" width="3.7" height="3.7"/><rect x="423.3" y="300.6" width="3.7" height="3.7"/><rect x="454.6" y="275.8" width="3.7" height="3.7"/><rect x="419.4" y="310.9" width="3.7" height="3.7"/><rect x="424" y="292.1" width="3.7" height="3.7"/><rect x="415.8" y="310.1" width="3.7" height="3.7"/><rect x="365.9" y="337.8" width="3.7" height="3.7"/><rect x="441.3" y="286.4" width="3.7" height="3.7"/><rect x="344.4" y="349" width="3.7" height="3.7"/><rect x="464.9" y="276.8" width="3.7" height="3.7"/><rect x="477.4" y="286.7" width="3.7" height="3.7"/><rect x="475.5" y="283.9" width="3.7" height="3.7"/><rect x="459.1" y="280.6" width="3.7" height="3.7"/><rect x="405" y="304.5" width="3.7" height="3.7"/><rect x="448.4" y="287.5" width="3.7" height="3.7"/><rect x="365.7" y="341.7" width="3.7" height="3.7"/><rect x="441.3" y="277.9" width="3.7" height="3.7"/><rect x="393.2" y="327.8" width="3.7" height="3.7"/><rect x="480.3" y="268.3" width="3.7" height="3.7"/><rect x="362.1" y="342.4" width="3.7" height="3.7"/><rect x="366.5" y="344.6" width="3.7" height="3.7"/><rect x="443.7" y="284.8" width="3.7" height="3.7"/><rect x="429.9" y="284.5" width="3.7" height="3.7"/><rect x="439.9" y="280.6" width="3.7" height="3.7"/><rect x="435.5" y="295.2" width="3.7" height="3.7"/><rect x="348" y="335" width="3.7" height="3.7"/><rect x="410.7" y="307.5" width="3.7" height="3.7"/><rect x="372" y="339.8" width="3.7" height="3.7"/><rect x="472.6" y="280.5" width="3.7" height="3.7"/><rect x="457.9" y="288" width="3.7" height="3.7"/><rect x="445.2" y="278.8" width="3.7" height="3.7"/><rect x="406.8" y="333" width="3.7" height="3.7"/><rect x="366" y="342.5" width="3.7" height="3.7"/><rect x="415.7" y="316.6" width="3.7" height="3.7"/><rect x="418" y="306.2" width="3.7" height="3.7"/><rect x="508.7" y="266.6" width="3.7" height="3.7"/><rect x="407.3" y="321.6" width="3.7" height="3.7"/><rect x="440.6" y="297.1" width="3.7" height="3.7"/><rect x="411.2" y="300.6" width="3.7" height="3.7"/><rect x="471.6" y="279.1" width="3.7" height="3.7"/><rect x="371.3" y="338" width="3.7" height="3.7"/><rect x="360.2" y="347.4" width="3.7" height="3.7"/><rect x="476.9" y="264.1" width="3.7" height="3.7"/><rect x="372.2" y="330.5" width="3.7" height="3.7"/><rect x="389.8" y="319.1" width="3.7" height="3.7"/><rect x="458.6" y="271.6" width="3.7" height="3.7"/><rect x="345.2" y="348.2" width="3.7" height="3.7"/><rect x="392.1" y="334.4" width="3.7" height="3.7"/><rect x="490.4" y="255.4" width="3.7" height="3.7"/><rect x="422.8" y="305.8" width="3.7" height="3.7"/><rect x="443.6" y="294.4" width="3.7" height="3.7"/><rect x="468.5" y="278.4" width="3.7" height="3.7"/><rect x="387.3" y="333.9" width="3.7" height="3.7"/><rect x="412" y="306.2" width="3.7" height="3.7"/><rect x="374.4" y="331.7" width="3.7" height="3.7"/><rect x="455.5" y="268.7" width="3.7" height="3.7"/><rect x="457.9" y="279.9" width="3.7" height="3.7"/><rect x="378.2" y="336.6" width="3.7" height="3.7"/><rect x="402.1" y="318.1" width="3.7" height="3.7"/><rect x="459.9" y="288.9" width="3.7" height="3.7"/><rect x="445.4" y="292" width="3.7" height="3.7"/><rect x="389.8" y="312.3" width="3.7" height="3.7"/><rect x="480.9" y="278.9" width="3.7" height="3.7"/><rect x="415.1" y="310.3" width="3.7" height="3.7"/><rect x="378.6" y="327.6" width="3.7" height="3.7"/><rect x="470.3" y="271.8" width="3.7" height="3.7"/><rect x="486.9" y="262" width="3.7" height="3.7"/><rect x="363.9" y="347.8" width="3.7" height="3.7"/><rect x="491.7" y="280" width="3.7" height="3.7"/><rect x="450.3" y="271.3" width="3.7" height="3.7"/><rect x="503.5" y="274.3" width="3.7" height="3.7"/><rect x="479.8" y="273.1" width="3.7" height="3.7"/><rect x="498.9" y="264.5" width="3.7" height="3.7"/><rect x="413.3" y="321.6" width="3.7" height="3.7"/><rect x="478.8" y="274.7" width="3.7" height="3.7"/><rect x="405.3" y="318.4" width="3.7" height="3.7"/><rect x="368.1" y="337.4" width="3.7" height="3.7"/><rect x="417.9" y="308.5" width="3.7" height="3.7"/><rect x="347.6" y="348" width="3.7" height="3.7"/><rect x="476.9" y="261.3" width="3.7" height="3.7"/><rect x="474" y="297.9" width="3.7" height="3.7"/><rect x="469.3" y="278.5" width="3.7" height="3.7"/><rect x="350.2" y="348.9" width="3.7" height="3.7"/><rect x="444.8" y="291.3" width="3.7" height="3.7"/><rect x="413.1" y="308.5" width="3.7" height="3.7"/><rect x="447.2" y="276.4" width="3.7" height="3.7"/><rect x="395" y="326.9" width="3.7" height="3.7"/><rect x="387.9" y="331.9" width="3.7" height="3.7"/><rect x="488.8" y="261.8" width="3.7" height="3.7"/><rect x="450.9" y="276.3" width="3.7" height="3.7"/><rect x="441.6" y="282.2" width="3.7" height="3.7"/><rect x="422.3" y="299.3" width="3.7" height="3.7"/><rect x="387.9" y="327.7" width="3.7" height="3.7"/><rect x="410.9" y="313.4" width="3.7" height="3.7"/><rect x="482.9" y="275.5" width="3.7" height="3.7"/><rect x="476.4" y="259.7" width="3.7" height="3.7"/><rect x="356.5" y="337.8" width="3.7" height="3.7"/><rect x="466.3" y="257" width="3.7" height="3.7"/><rect x="447.6" y="293.4" width="3.7" height="3.7"/><rect x="445.1" y="289" width="3.7" height="3.7"/><rect x="391.8" y="323.4" width="3.7" height="3.7"/><rect x="490.7" y="270.8" width="3.7" height="3.7"/><rect x="475.4" y="288.8" width="3.7" height="3.7"/><rect x="353.9" y="339.7" width="3.7" height="3.7"/><rect x="421.2" y="291.1" width="3.7" height="3.7"/><rect x="379" y="333.5" width="3.7" height="3.7"/><rect x="406.4" y="316.3" width="3.7" height="3.7"/><rect x="393.6" y="322.2" width="3.7" height="3.7"/><rect x="429.6" y="306.2" width="3.7" height="3.7"/><rect x="361.8" y="346.5" width="3.7" height="3.7"/><rect x="411.9" y="303.6" width="3.7" height="3.7"/><rect x="392.2" y="312.6" width="3.7" height="3.7"/><rect x="449.8" y="275.3" width="3.7" height="3.7"/><rect x="380.3" y="323.9" width="3.7" height="3.7"/><rect x="395.5" y="327.7" width="3.7" height="3.7"/><rect x="382.1" y="348.7" width="3.7" height="3.7"/><rect x="490.7" y="255.9" width="3.7" height="3.7"/><rect x="370.6" y="337.4" width="3.7" height="3.7"/><rect x="480.6" y="272.1" width="3.7" height="3.7"/><rect x="400.4" y="301" width="3.7" height="3.7"/><rect x="460.4" y="286.8" width="3.7" height="3.7"/><rect x="353.3" y="348.6" width="3.7" height="3.7"/><rect x="363.2" y="347.6" width="3.7" height="3.7"/><rect x="437" y="272.2" width="3.7" height="3.7"/><rect x="367" y="335.9" width="3.7" height="3.7"/><rect x="379.3" y="342.9" width="3.7" height="3.7"/><rect x="398.9" y="302.4" width="3.7" height="3.7"/><rect x="440.2" y="289" width="3.7" height="3.7"/><rect x="367" y="338.7" width="3.7" height="3.7"/><rect x="351" y="349.1" width="3.7" height="3.7"/><rect x="403.1" y="296.8" width="3.7" height="3.7"/><rect x="448.4" y="280.1" width="3.7" height="3.7"/><rect x="469.6" y="261.8" width="3.7" height="3.7"/><rect x="431.2" y="303.5" width="3.7" height="3.7"/><rect x="392.1" y="316.8" width="3.7" height="3.7"/><rect x="488.5" y="268.5" width="3.7" height="3.7"/><rect x="390.6" y="325.7" width="3.7" height="3.7"/><rect x="463.2" y="284.4" width="3.7" height="3.7"/><rect x="462.2" y="283.7" width="3.7" height="3.7"/><rect x="446.2" y="295.3" width="3.7" height="3.7"/><rect x="425.2" y="307.4" width="3.7" height="3.7"/><rect x="374" y="336.2" width="3.7" height="3.7"/><rect x="431.3" y="290.8" width="3.7" height="3.7"/><rect x="505.9" y="283.9" width="3.7" height="3.7"/><rect x="417.1" y="313.3" width="3.7" height="3.7"/><rect x="387.8" y="330.2" width="3.7" height="3.7"/><rect x="489.9" y="286.3" width="3.7" height="3.7"/><rect x="367.5" y="342.2" width="3.7" height="3.7"/><rect x="409.3" y="312.9" width="3.7" height="3.7"/><rect x="402.3" y="317.3" width="3.7" height="3.7"/><rect x="429.7" y="293.3" width="3.7" height="3.7"/><rect x="444.8" y="277.9" width="3.7" height="3.7"/><rect x="405.3" y="308.3" width="3.7" height="3.7"/><rect x="446.6" y="282.5" width="3.7" height="3.7"/><rect x="440" y="282.2" width="3.7" height="3.7"/><rect x="420.5" y="309.2" width="3.7" height="3.7"/><rect x="345" y="348.8" width="3.7" height="3.7"/><rect x="497.9" y="257.8" width="3.7" height="3.7"/><rect x="454.8" y="275.4" width="3.7" height="3.7"/><rect x="398.4" y="304" width="3.7" height="3.7"/><rect x="381.2" y="333" width="3.7" height="3.7"/><rect x="347.2" y="349.1" width="3.7" height="3.7"/><rect x="399.7" y="315.9" width="3.7" height="3.7"/><rect x="424.5" y="305.5" width="3.7" height="3.7"/><rect x="480.9" y="280.2" width="3.7" height="3.7"/><rect x="445.7" y="268.5" width="3.7" height="3.7"/><rect x="379.8" y="320.5" width="3.7" height="3.7"/><rect x="385.2" y="325.8" width="3.7" height="3.7"/><rect x="440.1" y="294.7" width="3.7" height="3.7"/><rect x="473.1" y="269.9" width="3.7" height="3.7"/><rect x="369.5" y="339.8" width="3.7" height="3.7"/><rect x="407.3" y="322.3" width="3.7" height="3.7"/><rect x="373.6" y="331.5" width="3.7" height="3.7"/><rect x="359.6" y="344.5" width="3.7" height="3.7"/><rect x="451.3" y="271.1" width="3.7" height="3.7"/><rect x="405.1" y="319.8" width="3.7" height="3.7"/><rect x="406.3" y="313.3" width="3.7" height="3.7"/><rect x="475.2" y="273.9" width="3.7" height="3.7"/><rect x="342.9" y="349.1" width="3.7" height="3.7"/><rect x="349.2" y="341.7" width="3.7" height="3.7"/><rect x="508.8" y="300.5" width="3.7" height="3.7"/><rect x="392.3" y="330.5" width="3.7" height="3.7"/><rect x="449.1" y="286.6" width="3.7" height="3.7"/><rect x="371.3" y="346.8" width="3.7" height="3.7"/><rect x="361.3" y="342.8" width="3.7" height="3.7"/><rect x="457.9" y="283.2" width="3.7" height="3.7"/><rect x="348.8" y="349.1" width="3.7" height="3.7"/><rect x="483.1" y="268.2" width="3.7" height="3.7"/><rect x="349.6" y="349.4" width="3.7" height="3.7"/><rect x="429.3" y="296" width="3.7" height="3.7"/><rect x="458.7" y="280" width="3.7" height="3.7"/><rect x="502.3" y="262.3" width="3.7" height="3.7"/><rect x="413" y="302.4" width="3.7" height="3.7"/><rect x="413.8" y="309.7" width="3.7" height="3.7"/><rect x="394" y="324.8" width="3.7" height="3.7"/><rect x="438.7" y="293.5" width="3.7" height="3.7"/><rect x="457.6" y="275.1" width="3.7" height="3.7"/><rect x="451.1" y="285.6" width="3.7" height="3.7"/><rect x="439.6" y="292.7" width="3.7" height="3.7"/><rect x="392" y="333" width="3.7" height="3.7"/><rect x="449.6" y="266" width="3.7" height="3.7"/><rect x="402.2" y="324.5" width="3.7" height="3.7"/><rect x="443.3" y="272.4" width="3.7" height="3.7"/><rect x="380.8" y="326.3" width="3.7" height="3.7"/><rect x="382.9" y="320.5" width="3.7" height="3.7"/><rect x="444.6" y="283.8" width="3.7" height="3.7"/><rect x="368.1" y="337.4" width="3.7" height="3.7"/><rect x="473.8" y="270" width="3.7" height="3.7"/><rect x="471.6" y="267.8" width="3.7" height="3.7"/><rect x="428.8" y="287.3" width="3.7" height="3.7"/><rect x="382.1" y="320.9" width="3.7" height="3.7"/><rect x="395.5" y="327.3" width="3.7" height="3.7"/><rect x="364.3" y="340.1" width="3.7" height="3.7"/><rect x="459.8" y="262.9" width="3.7" height="3.7"/><rect x="493.4" y="255.8" width="3.7" height="3.7"/><rect x="352.1" y="349.4" width="3.7" height="3.7"/><rect x="409.9" y="308.1" width="3.7" height="3.7"/><rect x="495.8" y="263.4" width="3.7" height="3.7"/><rect x="373.3" y="334.9" width="3.7" height="3.7"/><rect x="404.6" y="330" width="3.7" height="3.7"/><rect x="394.2" y="315.8" width="3.7" height="3.7"/><rect x="383.1" y="339.3" width="3.7" height="3.7"/><rect x="432.4" y="276.4" width="3.7" height="3.7"/><rect x="357.9" y="342.4" width="3.7" height="3.7"/><rect x="355" y="349.3" width="3.7" height="3.7"/><rect x="419.2" y="298.8" width="3.7" height="3.7"/><rect x="492" y="266.8" width="3.7" height="3.7"/><rect x="377.1" y="336.8" width="3.7" height="3.7"/><rect x="376.7" y="334.4" width="3.7" height="3.7"/><rect x="354.1" y="348.2" width="3.7" height="3.7"/><rect x="356.2" y="349.4" width="3.7" height="3.7"/><rect x="391.5" y="318.7" width="3.7" height="3.7"/><rect x="386.3" y="320" width="3.7" height="3.7"/><rect x="434.5" y="283.9" width="3.7" height="3.7"/><rect x="366.7" y="334.4" width="3.7" height="3.7"/><rect x="486" y="255.4" width="3.7" height="3.7"/><rect x="431.6" y="289.1" width="3.7" height="3.7"/><rect x="469" y="257.7" width="3.7" height="3.7"/><rect x="360.9" y="344.6" width="3.7" height="3.7"/><rect x="471.1" y="267.6" width="3.7" height="3.7"/><rect x="405.7" y="303" width="3.7" height="3.7"/><rect x="393.5" y="309" width="3.7" height="3.7"/><rect x="481" y="275.8" width="3.7" height="3.7"/><rect x="410.9" y="320.2" width="3.7" height="3.7"/><rect x="387.5" y="312.4" width="3.7" height="3.7"/><rect x="404.6" y="305.8" width="3.7" height="3.7"/><rect x="434.9" y="277.1" width="3.7" height="3.7"/><rect x="379.3" y="326.5" width="3.7" height="3.7"/><rect x="420.9" y="300.5" width="3.7" height="3.7"/><rect x="393" y="326.4" width="3.7" height="3.7"/><rect x="361" y="349.3" width="3.7" height="3.7"/><rect x="484" y="257.9" width="3.7" height="3.7"/><rect x="386.1" y="320.9" width="3.7" height="3.7"/><rect x="462.6" y="272" width="3.7" height="3.7"/><rect x="405.7" y="321.1" width="3.7" height="3.7"/><rect x="396.6" y="323.2" width="3.7" height="3.7"/><rect x="386.4" y="330.8" width="3.7" height="3.7"/><rect x="393.3" y="324.8" width="3.7" height="3.7"/><rect x="397.3" y="338.8" width="3.7" height="3.7"/><rect x="359.5" y="344.8" width="3.7" height="3.7"/><rect x="472.1" y="255.1" width="3.7" height="3.7"/><rect x="408.4" y="315.2" width="3.7" height="3.7"/><rect x="371.4" y="337.4" width="3.7" height="3.7"/><rect x="406.4" y="310.6" width="3.7" height="3.7"/><rect x="416.8" y="316.3" width="3.7" height="3.7"/><rect x="460.4" y="273.3" width="3.7" height="3.7"/><rect x="366.5" y="345.5" width="3.7" height="3.7"/><rect x="420.4" y="306.1" width="3.7" height="3.7"/><rect x="462.8" y="274" width="3.7" height="3.7"/><rect x="470.7" y="274.1" width="3.7" height="3.7"/><rect x="364.7" y="341.8" width="3.7" height="3.7"/><rect x="398.9" y="324.4" width="3.7" height="3.7"/><rect x="452.8" y="274.3" width="3.7" height="3.7"/><rect x="394.7" y="328.3" width="3.7" height="3.7"/><rect x="446.1" y="277.2" width="3.7" height="3.7"/><rect x="382.5" y="332.6" width="3.7" height="3.7"/><rect x="392.3" y="330.5" width="3.7" height="3.7"/><rect x="502.3" y="267.7" width="3.7" height="3.7"/><rect x="443.3" y="295.8" width="3.7" height="3.7"/><rect x="387.5" y="329.5" width="3.7" height="3.7"/><rect x="354.5" y="349.3" width="3.7" height="3.7"/><rect x="382.5" y="324.8" width="3.7" height="3.7"/><rect x="369.4" y="334.5" width="3.7" height="3.7"/><rect x="400.3" y="312" width="3.7" height="3.7"/><rect x="474.6" y="275.2" width="3.7" height="3.7"/><rect x="468.5" y="289.3" width="3.7" height="3.7"/><rect x="485.2" y="271.9" width="3.7" height="3.7"/><rect x="367.6" y="342" width="3.7" height="3.7"/><rect x="420.2" y="303.8" width="3.7" height="3.7"/><rect x="466.1" y="280.3" width="3.7" height="3.7"/><rect x="490.8" y="274" width="3.7" height="3.7"/><rect x="362.2" y="339.8" width="3.7" height="3.7"/><rect x="396.2" y="333.1" width="3.7" height="3.7"/><rect x="370.7" y="338" width="3.7" height="3.7"/><rect x="463" y="264.2" width="3.7" height="3.7"/><rect x="469.1" y="281.7" width="3.7" height="3.7"/><rect x="403.9" y="321.5" width="3.7" height="3.7"/><rect x="481.2" y="272.8" width="3.7" height="3.7"/><rect x="489.1" y="272.4" width="3.7" height="3.7"/><rect x="459.9" y="275.1" width="3.7" height="3.7"/><rect x="498.7" y="256.5" width="3.7" height="3.7"/><rect x="360.8" y="346" width="3.7" height="3.7"/><rect x="473.7" y="267" width="3.7" height="3.7"/><rect x="470.7" y="281.8" width="3.7" height="3.7"/><rect x="383.2" y="332.2" width="3.7" height="3.7"/><rect x="436.4" y="288.8" width="3.7" height="3.7"/><rect x="355.4" y="349.3" width="3.7" height="3.7"/><rect x="364.2" y="336.1" width="3.7" height="3.7"/><rect x="368.3" y="343" width="3.7" height="3.7"/><rect x="444.9" y="286.9" width="3.7" height="3.7"/><rect x="454.2" y="294.2" width="3.7" height="3.7"/><rect x="425.3" y="302.7" width="3.7" height="3.7"/><rect x="420.7" y="310.4" width="3.7" height="3.7"/><rect x="449.4" y="287.2" width="3.7" height="3.7"/><rect x="377.5" y="334.5" width="3.7" height="3.7"/><rect x="379.5" y="320.1" width="3.7" height="3.7"/><rect x="382.8" y="319.2" width="3.7" height="3.7"/><rect x="401" y="336.8" width="3.7" height="3.7"/><rect x="515.4" y="275.1" width="3.7" height="3.7"/></g>
<g fill="#8e8e8e" stroke="#1c1c1c" stroke-width="0.85"><circle cx="390.1" cy="324.8" r="2"/><circle cx="411" cy="320.7" r="2"/><circle cx="484.9" cy="270.5" r="2"/><circle cx="460.7" cy="269.2" r="2"/><circle cx="492.9" cy="264.8" r="2"/><circle cx="467.7" cy="287.9" r="2"/><circle cx="398.4" cy="325.4" r="2"/><circle cx="405.2" cy="310.4" r="2"/><circle cx="360.1" cy="348.8" r="2"/><circle cx="365.3" cy="344.2" r="2"/><circle cx="450.9" cy="276.9" r="2"/><circle cx="377.5" cy="349.9" r="2"/><circle cx="445.7" cy="284.7" r="2"/><circle cx="399.3" cy="312.7" r="2"/><circle cx="443.8" cy="274.7" r="2"/><circle cx="442.6" cy="284.4" r="2"/><circle cx="376.9" cy="340.5" r="2"/><circle cx="487.6" cy="261.7" r="2"/><circle cx="456.3" cy="258.6" r="2"/><circle cx="432.8" cy="301.7" r="2"/><circle cx="441.4" cy="296.4" r="2"/><circle cx="504.4" cy="269.5" r="2"/><circle cx="399.1" cy="323.4" r="2"/><circle cx="439.9" cy="307.7" r="2"/><circle cx="367.4" cy="351.3" r="2"/><circle cx="465" cy="289.4" r="2"/><circle cx="461.6" cy="284.7" r="2"/><circle cx="478.3" cy="269.3" r="2"/><circle cx="416.3" cy="312.2" r="2"/><circle cx="383.1" cy="331.1" r="2"/><circle cx="347.5" cy="350.7" r="2"/><circle cx="367.2" cy="328.4" r="2"/><circle cx="416.6" cy="302.2" r="2"/><circle cx="352.3" cy="351.3" r="2"/><circle cx="466.4" cy="264.4" r="2"/><circle cx="399.5" cy="320.5" r="2"/><circle cx="391.3" cy="324.3" r="2"/><circle cx="470.5" cy="263.1" r="2"/><circle cx="406.1" cy="310.8" r="2"/><circle cx="417.5" cy="316.9" r="2"/><circle cx="448.4" cy="295.4" r="2"/><circle cx="347.8" cy="350.9" r="2"/><circle cx="363.3" cy="342.8" r="2"/><circle cx="447.1" cy="269.8" r="2"/><circle cx="345.1" cy="350.5" r="2"/><circle cx="404.1" cy="319.6" r="2"/><circle cx="371" cy="343.3" r="2"/><circle cx="439" cy="298" r="2"/><circle cx="388.4" cy="336" r="2"/><circle cx="449.6" cy="296.1" r="2"/><circle cx="381.9" cy="336.2" r="2"/><circle cx="488.1" cy="270" r="2"/><circle cx="386.4" cy="334.3" r="2"/><circle cx="378" cy="335.7" r="2"/><circle cx="394.1" cy="326.8" r="2"/><circle cx="454.6" cy="284.5" r="2"/><circle cx="359.9" cy="350.8" r="2"/><circle cx="471.7" cy="272.9" r="2"/><circle cx="476.9" cy="273.7" r="2"/><circle cx="386.8" cy="344.9" r="2"/><circle cx="381.1" cy="332.1" r="2"/><circle cx="364.1" cy="345.2" r="2"/><circle cx="436.1" cy="299.2" r="2"/><circle cx="408.4" cy="313.1" r="2"/><circle cx="484.8" cy="278.4" r="2"/><circle cx="401.5" cy="318" r="2"/><circle cx="423.5" cy="309.8" r="2"/><circle cx="404.4" cy="312.7" r="2"/><circle cx="385.2" cy="328.7" r="2"/><circle cx="351.9" cy="350.5" r="2"/><circle cx="389" cy="332.1" r="2"/><circle cx="487.7" cy="261.2" r="2"/><circle cx="446.9" cy="283.8" r="2"/><circle cx="443.5" cy="288.2" r="2"/><circle cx="480.8" cy="283.4" r="2"/><circle cx="372.6" cy="343.2" r="2"/><circle cx="484.7" cy="270.2" r="2"/><circle cx="472.8" cy="272.5" r="2"/><circle cx="372" cy="340.2" r="2"/><circle cx="377.5" cy="340.7" r="2"/><circle cx="349.7" cy="351.2" r="2"/><circle cx="361.1" cy="350.2" r="2"/><circle cx="472.5" cy="285.8" r="2"/><circle cx="386.7" cy="336" r="2"/><circle cx="378.6" cy="339.8" r="2"/><circle cx="488.6" cy="292" r="2"/><circle cx="392.1" cy="323" r="2"/><circle cx="396" cy="318.4" r="2"/><circle cx="431.5" cy="291.2" r="2"/><circle cx="428.5" cy="305.7" r="2"/><circle cx="390.4" cy="331.5" r="2"/><circle cx="441.2" cy="289" r="2"/><circle cx="376.8" cy="339.2" r="2"/><circle cx="449.6" cy="288" r="2"/><circle cx="392.3" cy="327.6" r="2"/><circle cx="378.6" cy="344.3" r="2"/><circle cx="397.3" cy="314.3" r="2"/><circle cx="384.4" cy="339.5" r="2"/><circle cx="469.8" cy="296.6" r="2"/><circle cx="463.7" cy="268.3" r="2"/><circle cx="360.3" cy="349.8" r="2"/><circle cx="485.9" cy="261.4" r="2"/><circle cx="473.6" cy="271.9" r="2"/><circle cx="357.7" cy="348.7" r="2"/><circle cx="421.5" cy="307.7" r="2"/><circle cx="426.3" cy="316.5" r="2"/><circle cx="423.3" cy="312.2" r="2"/><circle cx="411.2" cy="311.6" r="2"/><circle cx="459.1" cy="281.5" r="2"/><circle cx="430.3" cy="311.8" r="2"/><circle cx="490.4" cy="281.8" r="2"/><circle cx="390" cy="332.5" r="2"/><circle cx="454.8" cy="283.2" r="2"/><circle cx="393.3" cy="322.4" r="2"/><circle cx="490.7" cy="261.8" r="2"/><circle cx="391.2" cy="328.7" r="2"/><circle cx="349.2" cy="350.2" r="2"/><circle cx="455" cy="276.5" r="2"/><circle cx="407.6" cy="305.2" r="2"/><circle cx="462" cy="286.9" r="2"/><circle cx="461.2" cy="274.6" r="2"/><circle cx="378.4" cy="327" r="2"/><circle cx="407" cy="332" r="2"/><circle cx="482.7" cy="261.9" r="2"/><circle cx="406.1" cy="313.3" r="2"/><circle cx="378.2" cy="330.8" r="2"/><circle cx="483.2" cy="270" r="2"/><circle cx="415.1" cy="298.2" r="2"/><circle cx="428.1" cy="303.4" r="2"/><circle cx="474.2" cy="281.7" r="2"/><circle cx="363.3" cy="342.9" r="2"/><circle cx="357.9" cy="346.8" r="2"/><circle cx="479.1" cy="285.8" r="2"/><circle cx="460.4" cy="269.7" r="2"/><circle cx="473.1" cy="264.6" r="2"/><circle cx="499.6" cy="258.6" r="2"/><circle cx="436.8" cy="302.2" r="2"/><circle cx="354" cy="344.7" r="2"/><circle cx="410.4" cy="309.5" r="2"/><circle cx="432.6" cy="290.2" r="2"/><circle cx="388" cy="329.1" r="2"/><circle cx="355.1" cy="351.1" r="2"/><circle cx="483.6" cy="278.8" r="2"/><circle cx="366.7" cy="347" r="2"/><circle cx="424.5" cy="296.5" r="2"/><circle cx="449.7" cy="291.7" r="2"/><circle cx="421" cy="309.7" r="2"/><circle cx="484.7" cy="268.8" r="2"/><circle cx="380" cy="335.9" r="2"/><circle cx="485.5" cy="291.2" r="2"/><circle cx="480.3" cy="279.1" r="2"/><circle cx="429.5" cy="302" r="2"/><circle cx="409.1" cy="303.2" r="2"/><circle cx="479.9" cy="264.2" r="2"/><circle cx="420.6" cy="315.8" r="2"/><circle cx="496.1" cy="280.4" r="2"/><circle cx="358.2" cy="350.9" r="2"/><circle cx="369.9" cy="340.5" r="2"/><circle cx="476.7" cy="281.2" r="2"/><circle cx="411.8" cy="309" r="2"/><circle cx="417.3" cy="317.7" r="2"/><circle cx="449.3" cy="283.1" r="2"/><circle cx="375.1" cy="331.7" r="2"/><circle cx="412.9" cy="329" r="2"/><circle cx="439.3" cy="292.6" r="2"/><circle cx="346.7" cy="350.5" r="2"/><circle cx="436.3" cy="291.1" r="2"/><circle cx="409.3" cy="313" r="2"/><circle cx="374" cy="339.2" r="2"/><circle cx="352.6" cy="350.7" r="2"/><circle cx="493.9" cy="268.9" r="2"/><circle cx="430.9" cy="297.7" r="2"/><circle cx="458.7" cy="267.5" r="2"/><circle cx="396.4" cy="316.6" r="2"/><circle cx="413.6" cy="304.4" r="2"/><circle cx="352.9" cy="350.9" r="2"/><circle cx="393.8" cy="328.9" r="2"/><circle cx="361.2" cy="342.8" r="2"/><circle cx="396.4" cy="329.2" r="2"/><circle cx="409.2" cy="307" r="2"/><circle cx="438.9" cy="307.7" r="2"/><circle cx="363.2" cy="336.1" r="2"/><circle cx="481.3" cy="261.3" r="2"/><circle cx="493.4" cy="277.8" r="2"/><circle cx="366.3" cy="346.5" r="2"/><circle cx="468" cy="303" r="2"/><circle cx="395.8" cy="323.6" r="2"/><circle cx="385.8" cy="323.6" r="2"/><circle cx="384.9" cy="327.6" r="2"/><circle cx="372.3" cy="341.3" r="2"/><circle cx="487.1" cy="257.3" r="2"/><circle cx="449.1" cy="281.4" r="2"/><circle cx="376.9" cy="334.5" r="2"/><circle cx="464.2" cy="281" r="2"/><circle cx="459.6" cy="275.4" r="2"/><circle cx="412.2" cy="294.1" r="2"/><circle cx="450" cy="281.7" r="2"/><circle cx="387.5" cy="338.7" r="2"/><circle cx="459" cy="277.9" r="2"/><circle cx="374.9" cy="328" r="2"/><circle cx="363" cy="340.9" r="2"/><circle cx="403" cy="322.9" r="2"/><circle cx="455.1" cy="279.6" r="2"/><circle cx="456.5" cy="294.2" r="2"/><circle cx="387.1" cy="325.8" r="2"/><circle cx="347.7" cy="350.3" r="2"/><circle cx="462.3" cy="283.8" r="2"/><circle cx="348.6" cy="350.1" r="2"/><circle cx="415.5" cy="314.2" r="2"/><circle cx="373.6" cy="326.2" r="2"/><circle cx="403.9" cy="308.1" r="2"/><circle cx="371" cy="343" r="2"/><circle cx="454.8" cy="281.9" r="2"/><circle cx="466.9" cy="262.6" r="2"/><circle cx="495" cy="272.6" r="2"/><circle cx="364.3" cy="347.8" r="2"/><circle cx="482.5" cy="280.4" r="2"/><circle cx="453.1" cy="270.7" r="2"/><circle cx="452.4" cy="282" r="2"/><circle cx="393.1" cy="325.2" r="2"/><circle cx="351.2" cy="350.9" r="2"/><circle cx="365.5" cy="349.3" r="2"/><circle cx="446" cy="280.2" r="2"/><circle cx="408.6" cy="319.3" r="2"/><circle cx="390.9" cy="329.8" r="2"/><circle cx="369.2" cy="350.7" r="2"/><circle cx="386.6" cy="336.1" r="2"/><circle cx="471.7" cy="280.3" r="2"/><circle cx="401.2" cy="322.5" r="2"/><circle cx="495.5" cy="284.6" r="2"/><circle cx="446" cy="292.7" r="2"/><circle cx="357.2" cy="350" r="2"/><circle cx="433.8" cy="316" r="2"/><circle cx="350.8" cy="351.2" r="2"/><circle cx="492.8" cy="273" r="2"/><circle cx="426.6" cy="311.2" r="2"/><circle cx="437.8" cy="295.6" r="2"/><circle cx="378.1" cy="333.5" r="2"/><circle cx="496" cy="269.7" r="2"/><circle cx="354.9" cy="351.2" r="2"/><circle cx="465.1" cy="278" r="2"/><circle cx="418.4" cy="302.8" r="2"/><circle cx="370.3" cy="351.2" r="2"/><circle cx="399.4" cy="326.1" r="2"/><circle cx="431.6" cy="293.8" r="2"/><circle cx="421.8" cy="304.7" r="2"/><circle cx="502.2" cy="279.4" r="2"/><circle cx="343.2" cy="351.1" r="2"/><circle cx="408.9" cy="318.6" r="2"/><circle cx="498.4" cy="269.1" r="2"/><circle cx="380.6" cy="343.2" r="2"/><circle cx="415.3" cy="320.6" r="2"/><circle cx="391.8" cy="334.7" r="2"/><circle cx="483.1" cy="273.8" r="2"/><circle cx="463.3" cy="258.6" r="2"/><circle cx="452.9" cy="275.7" r="2"/><circle cx="364.8" cy="339.4" r="2"/><circle cx="401.4" cy="319.3" r="2"/><circle cx="468.9" cy="262.7" r="2"/><circle cx="432.1" cy="295" r="2"/><circle cx="365.5" cy="344.6" r="2"/><circle cx="478.3" cy="263.8" r="2"/><circle cx="489.2" cy="282.8" r="2"/><circle cx="464.5" cy="297.4" r="2"/><circle cx="437.5" cy="302.9" r="2"/><circle cx="368.7" cy="335.5" r="2"/><circle cx="398.8" cy="313.3" r="2"/><circle cx="413.3" cy="309.7" r="2"/><circle cx="433.8" cy="298.2" r="2"/><circle cx="428.6" cy="301.4" r="2"/><circle cx="365.5" cy="343" r="2"/><circle cx="437.9" cy="300.1" r="2"/><circle cx="471.7" cy="268.9" r="2"/><circle cx="376.4" cy="342.4" r="2"/><circle cx="354.1" cy="344.3" r="2"/><circle cx="405" cy="319" r="2"/><circle cx="404.9" cy="322.9" r="2"/><circle cx="490.4" cy="273.6" r="2"/><circle cx="385" cy="336.3" r="2"/><circle cx="466.2" cy="279" r="2"/><circle cx="474" cy="291.4" r="2"/><circle cx="363.6" cy="348.7" r="2"/><circle cx="487.6" cy="270.8" r="2"/><circle cx="434.3" cy="293.2" r="2"/><circle cx="480.3" cy="276.9" r="2"/><circle cx="468.6" cy="266.2" r="2"/><circle cx="420.3" cy="317.9" r="2"/><circle cx="477.7" cy="276" r="2"/><circle cx="394.7" cy="327.1" r="2"/><circle cx="393.8" cy="324.9" r="2"/><circle cx="437.9" cy="296.6" r="2"/><circle cx="402.5" cy="306" r="2"/><circle cx="376.1" cy="337.5" r="2"/><circle cx="471.4" cy="288.1" r="2"/><circle cx="472.2" cy="256.7" r="2"/><circle cx="355.7" cy="351" r="2"/><circle cx="510.3" cy="269.4" r="2"/><circle cx="489.3" cy="262.6" r="2"/><circle cx="472.2" cy="281.1" r="2"/><circle cx="365.9" cy="345.8" r="2"/><circle cx="356.4" cy="345.7" r="2"/><circle cx="413.6" cy="318.8" r="2"/><circle cx="485.5" cy="276.3" r="2"/><circle cx="488.1" cy="261.9" r="2"/><circle cx="445.5" cy="274" r="2"/><circle cx="447.6" cy="287.6" r="2"/><circle cx="380.4" cy="335" r="2"/><circle cx="442.7" cy="281.6" r="2"/><circle cx="492.7" cy="291.5" r="2"/><circle cx="488.3" cy="281.2" r="2"/><circle cx="452.4" cy="293.8" r="2"/><circle cx="380.6" cy="345.6" r="2"/><circle cx="398.6" cy="339.4" r="2"/><circle cx="383.8" cy="334.2" r="2"/><circle cx="390.2" cy="322.1" r="2"/><circle cx="449.2" cy="280.6" r="2"/><circle cx="420.7" cy="296.8" r="2"/><circle cx="486.7" cy="309.7" r="2"/><circle cx="374" cy="340.1" r="2"/><circle cx="363.3" cy="340" r="2"/><circle cx="356.6" cy="350.9" r="2"/><circle cx="382.2" cy="340.4" r="2"/><circle cx="456.7" cy="279.1" r="2"/><circle cx="368.9" cy="342.5" r="2"/><circle cx="444.6" cy="283.8" r="2"/><circle cx="488.2" cy="271.5" r="2"/><circle cx="442.5" cy="280.5" r="2"/><circle cx="375.5" cy="334.2" r="2"/><circle cx="464.3" cy="276.3" r="2"/><circle cx="476.5" cy="279.5" r="2"/><circle cx="426.7" cy="294.2" r="2"/><circle cx="403.6" cy="322.1" r="2"/><circle cx="439.3" cy="285.1" r="2"/><circle cx="358.2" cy="344.8" r="2"/><circle cx="447.8" cy="279.1" r="2"/><circle cx="378.8" cy="345.7" r="2"/><circle cx="444.2" cy="284.1" r="2"/><circle cx="392.1" cy="323.8" r="2"/><circle cx="401.8" cy="313.6" r="2"/><circle cx="490.8" cy="286" r="2"/><circle cx="397" cy="328" r="2"/><circle cx="468.3" cy="277.7" r="2"/><circle cx="358.9" cy="343" r="2"/><circle cx="452.9" cy="288.8" r="2"/><circle cx="354.8" cy="348.4" r="2"/><circle cx="423.4" cy="302.8" r="2"/><circle cx="484.2" cy="257.4" r="2"/><circle cx="385.4" cy="328.1" r="2"/><circle cx="387.3" cy="338.7" r="2"/><circle cx="488.8" cy="273.9" r="2"/><circle cx="411.1" cy="310.8" r="2"/><circle cx="443.7" cy="279.4" r="2"/><circle cx="456.5" cy="276.4" r="2"/><circle cx="458.2" cy="283.6" r="2"/><circle cx="354.7" cy="351.1" r="2"/><circle cx="350.7" cy="350.2" r="2"/><circle cx="374.8" cy="339" r="2"/><circle cx="454.5" cy="271.9" r="2"/><circle cx="360.8" cy="341.8" r="2"/><circle cx="415.9" cy="318.8" r="2"/><circle cx="411.9" cy="327.6" r="2"/><circle cx="412.2" cy="314.6" r="2"/><circle cx="431.2" cy="296.2" r="2"/><circle cx="363" cy="350.9" r="2"/><circle cx="413.9" cy="314.1" r="2"/><circle cx="500.7" cy="257.2" r="2"/><circle cx="468.9" cy="270.2" r="2"/><circle cx="433.3" cy="315.7" r="2"/><circle cx="372.2" cy="338.3" r="2"/><circle cx="449.5" cy="283.9" r="2"/><circle cx="396.9" cy="323.8" r="2"/><circle cx="419.4" cy="302.7" r="2"/><circle cx="376.9" cy="333.6" r="2"/><circle cx="423" cy="286.2" r="2"/><circle cx="419.1" cy="304.6" r="2"/><circle cx="405.3" cy="321.4" r="2"/><circle cx="434.7" cy="299.5" r="2"/><circle cx="443.1" cy="281.5" r="2"/><circle cx="463.6" cy="261.9" r="2"/><circle cx="365.8" cy="341.7" r="2"/><circle cx="488.2" cy="266.1" r="2"/><circle cx="354.4" cy="350.9" r="2"/><circle cx="491.7" cy="274.9" r="2"/><circle cx="420.3" cy="305.2" r="2"/><circle cx="476.4" cy="285.4" r="2"/><circle cx="399" cy="316.4" r="2"/><circle cx="359.1" cy="347.1" r="2"/><circle cx="451.1" cy="283.3" r="2"/><circle cx="458.7" cy="288.2" r="2"/><circle cx="407.5" cy="316.8" r="2"/><circle cx="447.7" cy="291.4" r="2"/><circle cx="476.8" cy="270.1" r="2"/><circle cx="442" cy="292.8" r="2"/><circle cx="414.9" cy="306.2" r="2"/><circle cx="374.4" cy="333.6" r="2"/><circle cx="396.7" cy="314.9" r="2"/><circle cx="407.7" cy="321.6" r="2"/><circle cx="472.8" cy="278.4" r="2"/><circle cx="460.8" cy="289.3" r="2"/><circle cx="423.9" cy="294.4" r="2"/><circle cx="390.8" cy="334.2" r="2"/><circle cx="481.7" cy="260" r="2"/><circle cx="348.7" cy="351.1" r="2"/><circle cx="395.9" cy="316.9" r="2"/><circle cx="419.8" cy="310.1" r="2"/><circle cx="349.6" cy="351" r="2"/><circle cx="365.4" cy="344.3" r="2"/><circle cx="352.1" cy="351" r="2"/><circle cx="396.1" cy="324.4" r="2"/><circle cx="446.5" cy="279.7" r="2"/><circle cx="380.6" cy="327.5" r="2"/><circle cx="484.1" cy="263.9" r="2"/><circle cx="444.4" cy="292.7" r="2"/><circle cx="412.5" cy="324" r="2"/><circle cx="388.5" cy="327.8" r="2"/><circle cx="412.8" cy="330.5" r="2"/><circle cx="462.2" cy="270.8" r="2"/><circle cx="499.2" cy="262.8" r="2"/><circle cx="425.9" cy="314.8" r="2"/><circle cx="486.8" cy="265.9" r="2"/><circle cx="351.5" cy="350.8" r="2"/><circle cx="436.8" cy="284.5" r="2"/><circle cx="357.6" cy="350.9" r="2"/><circle cx="488.6" cy="279.2" r="2"/><circle cx="447.4" cy="292.2" r="2"/><circle cx="394.7" cy="322.6" r="2"/><circle cx="390.9" cy="335.7" r="2"/><circle cx="457.4" cy="262.3" r="2"/><circle cx="406.1" cy="318.4" r="2"/><circle cx="356.5" cy="343.1" r="2"/><circle cx="444.6" cy="292" r="2"/><circle cx="423.7" cy="305.8" r="2"/><circle cx="482.1" cy="279.3" r="2"/><circle cx="358.1" cy="350.9" r="2"/><circle cx="448.1" cy="281.3" r="2"/><circle cx="466" cy="267.1" r="2"/><circle cx="423" cy="303.2" r="2"/><circle cx="470.2" cy="284.2" r="2"/><circle cx="484.1" cy="269.2" r="2"/><circle cx="460" cy="287" r="2"/><circle cx="373.9" cy="351.2" r="2"/><circle cx="362.3" cy="346.5" r="2"/><circle cx="429.8" cy="312.1" r="2"/><circle cx="415.6" cy="313.6" r="2"/><circle cx="441.8" cy="290.2" r="2"/><circle cx="392.3" cy="329.3" r="2"/><circle cx="444.2" cy="291" r="2"/><circle cx="487.5" cy="256.7" r="2"/><circle cx="451.8" cy="276.4" r="2"/><circle cx="365.1" cy="337.6" r="2"/><circle cx="374.2" cy="316.4" r="2"/><circle cx="517.9" cy="263" r="2"/><circle cx="465" cy="307.1" r="2"/><circle cx="468.2" cy="306.2" r="2"/><circle cx="389.8" cy="321" r="2"/></g>
<g fill="#008b8b" stroke="#0a1c1c" stroke-width="0.75"><path d="M494.2 261.7l2.05 3.8h-4.1z"/><path d="M472.7 286.8l2.05 3.8h-4.1z"/><path d="M417.1 317l2.05 3.8h-4.1z"/><path d="M369.5 348.4l2.05 3.8h-4.1z"/><path d="M357.4 348.4l2.05 3.8h-4.1z"/><path d="M401.9 321.9l2.05 3.8h-4.1z"/><path d="M390 321.8l2.05 3.8h-4.1z"/><path d="M433.4 280.3l2.05 3.8h-4.1z"/><path d="M507.1 263.5l2.05 3.8h-4.1z"/><path d="M498.5 283.7l2.05 3.8h-4.1z"/><path d="M462.7 279.4l2.05 3.8h-4.1z"/><path d="M462.8 278.7l2.05 3.8h-4.1z"/><path d="M399.4 324l2.05 3.8h-4.1z"/><path d="M353.4 349l2.05 3.8h-4.1z"/><path d="M441.9 291l2.05 3.8h-4.1z"/><path d="M480.9 286.3l2.05 3.8h-4.1z"/><path d="M407.7 318.5l2.05 3.8h-4.1z"/><path d="M369.8 346.1l2.05 3.8h-4.1z"/><path d="M362.9 348.1l2.05 3.8h-4.1z"/><path d="M388 328.5l2.05 3.8h-4.1z"/><path d="M492.5 255.7l2.05 3.8h-4.1z"/><path d="M401.9 324l2.05 3.8h-4.1z"/><path d="M449.9 293l2.05 3.8h-4.1z"/><path d="M369.5 340.5l2.05 3.8h-4.1z"/><path d="M357.3 348.2l2.05 3.8h-4.1z"/><path d="M357.6 348.6l2.05 3.8h-4.1z"/><path d="M418 308.9l2.05 3.8h-4.1z"/><path d="M436.5 303.2l2.05 3.8h-4.1z"/><path d="M389.2 331.3l2.05 3.8h-4.1z"/><path d="M465.7 287.6l2.05 3.8h-4.1z"/><path d="M427 308l2.05 3.8h-4.1z"/><path d="M400.9 318.7l2.05 3.8h-4.1z"/><path d="M377.8 343.3l2.05 3.8h-4.1z"/><path d="M458 288.6l2.05 3.8h-4.1z"/><path d="M405.3 323.7l2.05 3.8h-4.1z"/><path d="M479.9 271.8l2.05 3.8h-4.1z"/><path d="M464.4 285.8l2.05 3.8h-4.1z"/><path d="M411.9 322.5l2.05 3.8h-4.1z"/><path d="M471.1 276.1l2.05 3.8h-4.1z"/><path d="M391.4 340.3l2.05 3.8h-4.1z"/><path d="M366.7 348.8l2.05 3.8h-4.1z"/><path d="M451 285.5l2.05 3.8h-4.1z"/><path d="M450.5 273.9l2.05 3.8h-4.1z"/><path d="M395.3 329.3l2.05 3.8h-4.1z"/><path d="M451.7 284.8l2.05 3.8h-4.1z"/><path d="M489.6 286.2l2.05 3.8h-4.1z"/><path d="M390.6 329.2l2.05 3.8h-4.1z"/><path d="M459.3 282l2.05 3.8h-4.1z"/><path d="M418.8 304.6l2.05 3.8h-4.1z"/><path d="M397.9 328.9l2.05 3.8h-4.1z"/><path d="M474.4 261.5l2.05 3.8h-4.1z"/><path d="M420.5 314.9l2.05 3.8h-4.1z"/><path d="M355.4 348.5l2.05 3.8h-4.1z"/><path d="M465.5 293.5l2.05 3.8h-4.1z"/><path d="M408.1 312.7l2.05 3.8h-4.1z"/><path d="M472.2 262.4l2.05 3.8h-4.1z"/><path d="M407 305.2l2.05 3.8h-4.1z"/><path d="M412.9 314.8l2.05 3.8h-4.1z"/><path d="M459.2 296.5l2.05 3.8h-4.1z"/><path d="M385.3 329.2l2.05 3.8h-4.1z"/><path d="M483.3 281.4l2.05 3.8h-4.1z"/><path d="M383.7 340.4l2.05 3.8h-4.1z"/><path d="M481.2 280.9l2.05 3.8h-4.1z"/><path d="M467 291l2.05 3.8h-4.1z"/><path d="M388.7 327.1l2.05 3.8h-4.1z"/><path d="M458.6 281.7l2.05 3.8h-4.1z"/><path d="M437.2 291.9l2.05 3.8h-4.1z"/><path d="M400.3 318l2.05 3.8h-4.1z"/><path d="M429.9 304.6l2.05 3.8h-4.1z"/><path d="M368.6 342.2l2.05 3.8h-4.1z"/><path d="M454.6 276.4l2.05 3.8h-4.1z"/><path d="M465.6 265.7l2.05 3.8h-4.1z"/><path d="M398.3 323.4l2.05 3.8h-4.1z"/><path d="M344.6 347.8l2.05 3.8h-4.1z"/><path d="M391.4 334.4l2.05 3.8h-4.1z"/><path d="M382.6 338.5l2.05 3.8h-4.1z"/><path d="M422.1 307.4l2.05 3.8h-4.1z"/><path d="M386.4 331.5l2.05 3.8h-4.1z"/><path d="M488.2 286l2.05 3.8h-4.1z"/><path d="M402.9 323.5l2.05 3.8h-4.1z"/><path d="M395.8 327.8l2.05 3.8h-4.1z"/><path d="M400.3 328l2.05 3.8h-4.1z"/><path d="M380.9 339.9l2.05 3.8h-4.1z"/><path d="M362 347.9l2.05 3.8h-4.1z"/><path d="M446.1 297.8l2.05 3.8h-4.1z"/><path d="M395.4 323.8l2.05 3.8h-4.1z"/><path d="M406.5 327.9l2.05 3.8h-4.1z"/><path d="M487.5 272.3l2.05 3.8h-4.1z"/><path d="M464.3 290.2l2.05 3.8h-4.1z"/><path d="M490.6 263l2.05 3.8h-4.1z"/><path d="M444.9 285.9l2.05 3.8h-4.1z"/><path d="M466.5 269.5l2.05 3.8h-4.1z"/><path d="M462.8 288.6l2.05 3.8h-4.1z"/><path d="M414.6 321.1l2.05 3.8h-4.1z"/><path d="M482.2 286.9l2.05 3.8h-4.1z"/><path d="M397.7 326l2.05 3.8h-4.1z"/><path d="M391.4 323.4l2.05 3.8h-4.1z"/><path d="M431.4 296l2.05 3.8h-4.1z"/><path d="M437.5 291.8l2.05 3.8h-4.1z"/><path d="M443.1 301.6l2.05 3.8h-4.1z"/><path d="M438.1 288.4l2.05 3.8h-4.1z"/><path d="M353.7 348.6l2.05 3.8h-4.1z"/><path d="M474 282.4l2.05 3.8h-4.1z"/><path d="M464.3 301.8l2.05 3.8h-4.1z"/><path d="M492.7 280.3l2.05 3.8h-4.1z"/><path d="M382.9 336l2.05 3.8h-4.1z"/><path d="M465.2 268.2l2.05 3.8h-4.1z"/><path d="M362.8 348.6l2.05 3.8h-4.1z"/><path d="M400.2 323.6l2.05 3.8h-4.1z"/><path d="M498 257.4l2.05 3.8h-4.1z"/><path d="M498.3 257.7l2.05 3.8h-4.1z"/><path d="M411.9 312.4l2.05 3.8h-4.1z"/><path d="M463.1 276.7l2.05 3.8h-4.1z"/><path d="M452.3 277.4l2.05 3.8h-4.1z"/><path d="M402 326l2.05 3.8h-4.1z"/><path d="M459 280.3l2.05 3.8h-4.1z"/><path d="M431.5 303.7l2.05 3.8h-4.1z"/><path d="M403.2 326.6l2.05 3.8h-4.1z"/><path d="M402.2 318.7l2.05 3.8h-4.1z"/><path d="M416.3 304.5l2.05 3.8h-4.1z"/><path d="M415 300.7l2.05 3.8h-4.1z"/><path d="M343.9 348.6l2.05 3.8h-4.1z"/><path d="M373.9 333.6l2.05 3.8h-4.1z"/><path d="M451.7 288.5l2.05 3.8h-4.1z"/><path d="M497.4 286.1l2.05 3.8h-4.1z"/><path d="M476.4 282.4l2.05 3.8h-4.1z"/><path d="M480.5 272.4l2.05 3.8h-4.1z"/><path d="M364.7 348.9l2.05 3.8h-4.1z"/><path d="M392.3 317.9l2.05 3.8h-4.1z"/><path d="M447.5 280.5l2.05 3.8h-4.1z"/><path d="M475.4 279l2.05 3.8h-4.1z"/><path d="M480.2 260.9l2.05 3.8h-4.1z"/><path d="M397.1 321.5l2.05 3.8h-4.1z"/><path d="M450.4 275.4l2.05 3.8h-4.1z"/><path d="M438.5 297.1l2.05 3.8h-4.1z"/><path d="M377.7 335l2.05 3.8h-4.1z"/><path d="M502.7 273.5l2.05 3.8h-4.1z"/><path d="M365.2 347.7l2.05 3.8h-4.1z"/><path d="M453.2 273.5l2.05 3.8h-4.1z"/><path d="M405.6 307.6l2.05 3.8h-4.1z"/><path d="M466.5 279.2l2.05 3.8h-4.1z"/><path d="M469 276.9l2.05 3.8h-4.1z"/><path d="M366.2 348.9l2.05 3.8h-4.1z"/><path d="M430.1 303.8l2.05 3.8h-4.1z"/><path d="M484.9 270.3l2.05 3.8h-4.1z"/><path d="M446.9 303.5l2.05 3.8h-4.1z"/><path d="M412.8 316.7l2.05 3.8h-4.1z"/><path d="M372.7 348.4l2.05 3.8h-4.1z"/><path d="M369.7 343.6l2.05 3.8h-4.1z"/><path d="M429.7 295.9l2.05 3.8h-4.1z"/><path d="M468.2 276.8l2.05 3.8h-4.1z"/><path d="M472.1 280.6l2.05 3.8h-4.1z"/><path d="M473.9 290l2.05 3.8h-4.1z"/><path d="M443.1 304.4l2.05 3.8h-4.1z"/><path d="M495.9 272.2l2.05 3.8h-4.1z"/><path d="M428.1 292.7l2.05 3.8h-4.1z"/><path d="M493.6 275.2l2.05 3.8h-4.1z"/><path d="M473 278.5l2.05 3.8h-4.1z"/><path d="M402.7 323.8l2.05 3.8h-4.1z"/><path d="M431.3 308.7l2.05 3.8h-4.1z"/><path d="M359.3 347.3l2.05 3.8h-4.1z"/><path d="M473.3 271.9l2.05 3.8h-4.1z"/><path d="M386.4 344.2l2.05 3.8h-4.1z"/><path d="M446.4 299.5l2.05 3.8h-4.1z"/><path d="M347.7 348.2l2.05 3.8h-4.1z"/><path d="M364.7 348.9l2.05 3.8h-4.1z"/><path d="M403.3 321l2.05 3.8h-4.1z"/><path d="M443.4 299.8l2.05 3.8h-4.1z"/><path d="M427 301.7l2.05 3.8h-4.1z"/><path d="M350.9 348.8l2.05 3.8h-4.1z"/><path d="M345.6 348.6l2.05 3.8h-4.1z"/><path d="M468.5 288.7l2.05 3.8h-4.1z"/><path d="M434.1 285.4l2.05 3.8h-4.1z"/><path d="M402.4 306l2.05 3.8h-4.1z"/><path d="M445.5 289.2l2.05 3.8h-4.1z"/><path d="M433.7 292.3l2.05 3.8h-4.1z"/><path d="M404.9 316.1l2.05 3.8h-4.1z"/><path d="M405.1 319.4l2.05 3.8h-4.1z"/><path d="M450.3 288.5l2.05 3.8h-4.1z"/><path d="M444.2 295.5l2.05 3.8h-4.1z"/><path d="M446.2 281.8l2.05 3.8h-4.1z"/><path d="M363.6 348.7l2.05 3.8h-4.1z"/><path d="M492.3 280.6l2.05 3.8h-4.1z"/><path d="M368.1 342.4l2.05 3.8h-4.1z"/><path d="M464.7 292.4l2.05 3.8h-4.1z"/><path d="M400.7 313.1l2.05 3.8h-4.1z"/><path d="M472.5 280.4l2.05 3.8h-4.1z"/><path d="M423.2 305.3l2.05 3.8h-4.1z"/><path d="M444.2 281.8l2.05 3.8h-4.1z"/><path d="M440 295l2.05 3.8h-4.1z"/><path d="M508 269.2l2.05 3.8h-4.1z"/><path d="M442.1 297.5l2.05 3.8h-4.1z"/><path d="M446.1 286.6l2.05 3.8h-4.1z"/><path d="M419.3 304.8l2.05 3.8h-4.1z"/><path d="M425.1 311.2l2.05 3.8h-4.1z"/><path d="M365.2 344.8l2.05 3.8h-4.1z"/><path d="M500.5 262.4l2.05 3.8h-4.1z"/><path d="M403.7 317.6l2.05 3.8h-4.1z"/><path d="M351.3 348.1l2.05 3.8h-4.1z"/><path d="M504 262.1l2.05 3.8h-4.1z"/><path d="M401.9 313.6l2.05 3.8h-4.1z"/><path d="M448.9 292.4l2.05 3.8h-4.1z"/><path d="M501.3 288.7l2.05 3.8h-4.1z"/><path d="M461 288.1l2.05 3.8h-4.1z"/><path d="M501.9 271.2l2.05 3.8h-4.1z"/><path d="M378.6 331.6l2.05 3.8h-4.1z"/><path d="M394.5 320.1l2.05 3.8h-4.1z"/><path d="M496.4 265.9l2.05 3.8h-4.1z"/><path d="M428.1 309.4l2.05 3.8h-4.1z"/><path d="M382 330l2.05 3.8h-4.1z"/><path d="M366.5 346.9l2.05 3.8h-4.1z"/><path d="M392.1 334.4l2.05 3.8h-4.1z"/><path d="M400.1 333.5l2.05 3.8h-4.1z"/><path d="M470 270.6l2.05 3.8h-4.1z"/><path d="M410.5 330.3l2.05 3.8h-4.1z"/><path d="M403.7 312.9l2.05 3.8h-4.1z"/><path d="M428.1 287.6l2.05 3.8h-4.1z"/><path d="M420.9 307.9l2.05 3.8h-4.1z"/><path d="M456.9 294l2.05 3.8h-4.1z"/><path d="M439.8 299.4l2.05 3.8h-4.1z"/><path d="M410.8 319.6l2.05 3.8h-4.1z"/><path d="M447.3 286.8l2.05 3.8h-4.1z"/><path d="M473.3 269.3l2.05 3.8h-4.1z"/><path d="M369.7 348.2l2.05 3.8h-4.1z"/><path d="M492.5 276l2.05 3.8h-4.1z"/><path d="M425.9 309.1l2.05 3.8h-4.1z"/><path d="M381.2 330.4l2.05 3.8h-4.1z"/><path d="M430.3 294.7l2.05 3.8h-4.1z"/><path d="M461 289.3l2.05 3.8h-4.1z"/><path d="M427 306l2.05 3.8h-4.1z"/><path d="M432.4 298.8l2.05 3.8h-4.1z"/><path d="M405.7 329.9l2.05 3.8h-4.1z"/><path d="M443.5 296.1l2.05 3.8h-4.1z"/><path d="M470.3 277.7l2.05 3.8h-4.1z"/><path d="M474.4 289.4l2.05 3.8h-4.1z"/><path d="M376 339l2.05 3.8h-4.1z"/><path d="M477.4 276.2l2.05 3.8h-4.1z"/><path d="M445.5 295l2.05 3.8h-4.1z"/><path d="M396.3 319.8l2.05 3.8h-4.1z"/><path d="M501.9 284.2l2.05 3.8h-4.1z"/><path d="M377 337.2l2.05 3.8h-4.1z"/><path d="M364.7 348.5l2.05 3.8h-4.1z"/><path d="M463.4 272.6l2.05 3.8h-4.1z"/><path d="M499.1 279.1l2.05 3.8h-4.1z"/><path d="M423.8 302.1l2.05 3.8h-4.1z"/><path d="M397.4 319.7l2.05 3.8h-4.1z"/><path d="M441.4 285.3l2.05 3.8h-4.1z"/><path d="M480.3 261.7l2.05 3.8h-4.1z"/><path d="M483.1 288.5l2.05 3.8h-4.1z"/><path d="M450.1 288.6l2.05 3.8h-4.1z"/><path d="M453.6 298.2l2.05 3.8h-4.1z"/><path d="M396.2 320.2l2.05 3.8h-4.1z"/><path d="M409.2 304.2l2.05 3.8h-4.1z"/><path d="M349.7 348.3l2.05 3.8h-4.1z"/><path d="M375.6 338.6l2.05 3.8h-4.1z"/><path d="M442.2 279l2.05 3.8h-4.1z"/><path d="M499.8 269.8l2.05 3.8h-4.1z"/><path d="M347.6 348.9l2.05 3.8h-4.1z"/><path d="M455 298.2l2.05 3.8h-4.1z"/><path d="M478 282.6l2.05 3.8h-4.1z"/><path d="M452.3 275.5l2.05 3.8h-4.1z"/><path d="M428.1 317.7l2.05 3.8h-4.1z"/><path d="M347.1 348.8l2.05 3.8h-4.1z"/><path d="M502 269.2l2.05 3.8h-4.1z"/><path d="M380.1 337.2l2.05 3.8h-4.1z"/><path d="M472 271.5l2.05 3.8h-4.1z"/><path d="M468.6 285.7l2.05 3.8h-4.1z"/><path d="M472.3 266.5l2.05 3.8h-4.1z"/><path d="M411.8 317.4l2.05 3.8h-4.1z"/><path d="M489.1 264.5l2.05 3.8h-4.1z"/><path d="M521.8 275.6l2.05 3.8h-4.1z"/><path d="M514 270l2.05 3.8h-4.1z"/><path d="M507.4 267.7l2.05 3.8h-4.1z"/><path d="M506.1 276l2.05 3.8h-4.1z"/><path d="M429 324.3l2.05 3.8h-4.1z"/><path d="M389.8 346.6l2.05 3.8h-4.1z"/></g>
<rect x="324.5" y="219.3" width="220.6" height="157.4" fill="none" stroke="#444" stroke-width="0.9"/>
<path d="M324.5 376.7h-2.6M324.5 376.7v2.6M324.5 341.9h-2.6M373.5 376.7v2.6M324.5 307.1h-2.6M422.5 376.7v2.6M324.5 272.3h-2.6M471.5 376.7v2.6M324.5 237.5h-2.6M520.5 376.7v2.6" stroke="#444" stroke-width="0.9" fill="none"/>
<g font-size="8.7" fill="#222"><text x="316.5" y="379.8" text-anchor="end">0</text><text x="324" y="392.2" text-anchor="middle">0</text><text x="316.5" y="345" text-anchor="end">750</text><text x="373" y="392.2" text-anchor="middle">750</text><text x="316.5" y="310.2" text-anchor="end">1500</text><text x="422" y="392.2" text-anchor="middle">1500</text><text x="316.5" y="275.4" text-anchor="end">2250</text><text x="471" y="392.2" text-anchor="middle">2250</text><text x="316.5" y="240.6" text-anchor="end">3000</text><text x="520" y="392.2" text-anchor="middle">3000</text></g>
<rect x="339.1" y="228.4" width="3.7" height="3.7" fill="#fff" stroke="#1c1c1c" stroke-width="0.85"/>
<circle cx="341" cy="241.7" r="2" fill="#8e8e8e" stroke="#1c1c1c" stroke-width="0.85"/>
<path d="M341 250.7l2.05 3.8h-4.1z" fill="#008b8b" stroke="#0a1c1c" stroke-width="0.75"/>
<text x="355.9" y="233.3" font-size="9.5" fill="#222" textLength="55" lengthAdjust="spacingAndGlyphs">Training cases</text>
<text x="355.9" y="244.8" font-size="9.5" fill="#222" textLength="62.5" lengthAdjust="spacingAndGlyphs">Validation cases</text>
<text x="355.9" y="256.1" font-size="9.5" fill="#222" textLength="58.5" lengthAdjust="spacingAndGlyphs">Querying cases</text>
<text transform="translate(502.1 250) rotate(-35.5)" font-size="5.8" fill="#222" textLength="38" lengthAdjust="spacingAndGlyphs" x="0" y="-1.3">Line with slope 1</text></g>
<text x="157.5" y="197.6" text-anchor="middle" font-size="8.85" font-weight="bold" fill="#111">MGSI real (10 kJ/(m<tspan font-size="5.5" dy="-3.4">2</tspan><tspan dy="3.4">·day))</tspan></text>
<text x="434.5" y="197.6" text-anchor="middle" font-size="8.85" font-weight="bold" fill="#111">MGSI real (10 kJ/(m<tspan font-size="5.5" dy="-3.4">2</tspan><tspan dy="3.4">·day))</tspan></text>
<text x="159.4" y="410.1" text-anchor="middle" font-size="8.85" font-weight="bold" fill="#111">MGSI<tspan font-size="5.5" dy="2">+1</tspan><tspan dy="-2"> </tspan>real (10 kJ/(m<tspan font-size="5.5" dy="-3.4">2</tspan><tspan dy="3.4">·day))</tspan></text>
<text x="436" y="410.1" text-anchor="middle" font-size="8.85" font-weight="bold" fill="#111">MGSI<tspan font-size="5.5" dy="2">+1</tspan><tspan dy="-2"> </tspan>real (10 kJ/(m<tspan font-size="5.5" dy="-3.4">2</tspan><tspan dy="3.4">·day))</tspan></text>
<text transform="translate(14.2 82.3) rotate(-90)" text-anchor="middle" font-size="8.5" textLength="131.5" lengthAdjust="spacingAndGlyphs" font-weight="bold" fill="#111">MGSI modelled (10 kJ/(m<tspan font-size="5.5" dy="-3.4">2</tspan><tspan dy="3.4">·day))</tspan></text>
<text transform="translate(290.4 83.8) rotate(-90)" text-anchor="middle" font-size="8.5" textLength="131.5" lengthAdjust="spacingAndGlyphs" font-weight="bold" fill="#111">MGSI modelled (10 kJ/(m<tspan font-size="5.5" dy="-3.4">2</tspan><tspan dy="3.4">·day))</tspan></text>
<text transform="translate(14.2 298.5) rotate(-90)" text-anchor="middle" font-size="8.5" textLength="131.5" lengthAdjust="spacingAndGlyphs" font-weight="bold" fill="#111">MGSI<tspan font-size="5.5" dy="2">+1</tspan><tspan dy="-2"> </tspan>predicted (10 kJ/(m<tspan font-size="5.5" dy="-3.4">2</tspan><tspan dy="3.4">·day))</tspan></text>
<text transform="translate(290.4 297.6) rotate(-90)" text-anchor="middle" font-size="8.5" textLength="131.5" lengthAdjust="spacingAndGlyphs" font-weight="bold" fill="#111">MGSI<tspan font-size="5.5" dy="2">+1</tspan><tspan dy="-2"> </tspan>predicted (10 kJ/(m<tspan font-size="5.5" dy="-3.4">2</tspan><tspan dy="3.4">·day))</tspan></text>
<text x="134.1" y="213.1" text-anchor="middle" font-size="11.2" fill="#111">(<tspan font-weight="bold">A</tspan>) Block-one Type-1</text>
<text x="410.9" y="212.3" text-anchor="middle" font-size="11.2" fill="#111">(<tspan font-weight="bold">B</tspan>) Block-one Type-2</text>
<text x="134.5" y="427.6" text-anchor="middle" font-size="11.2" fill="#111">(<tspan font-weight="bold">C</tspan>) Block-two Type-1</text>
<text x="412.2" y="427.6" text-anchor="middle" font-size="11.2" fill="#111">(<tspan font-weight="bold">D</tspan>) Block-two Type-2</text>
</svg>
</body></html>
